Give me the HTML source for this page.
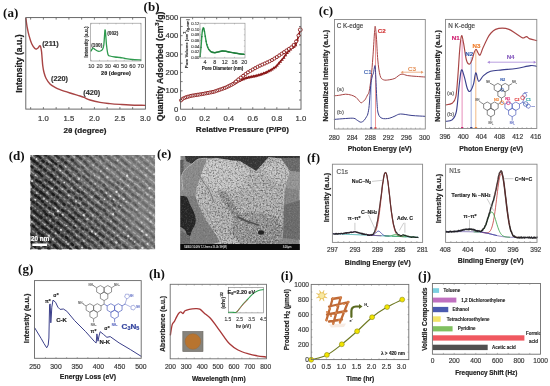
<!DOCTYPE html>
<html><head><meta charset="utf-8"><style>
html,body{margin:0;padding:0;background:#fff;width:550px;height:386px;overflow:hidden}
svg{display:block;filter:blur(0.35px)}
</style></head><body>
<svg width="550" height="386" viewBox="0 0 550 386">
<rect width="550" height="386" fill="#fff"/>
<text x="3.1" y="16.95" font-family='"Liberation Serif", serif' font-size="13" font-weight="bold" text-anchor="start" fill="#111">(a)</text>
<line x1="30.65" y1="109.1" x2="30.65" y2="107.1" stroke="#5a5a5a" stroke-width="0.8"/>
<line x1="30.65" y1="17.6" x2="30.65" y2="19.6" stroke="#5a5a5a" stroke-width="0.8"/>
<line x1="43.4" y1="109.1" x2="43.4" y2="107.1" stroke="#5a5a5a" stroke-width="0.8"/>
<line x1="43.4" y1="17.6" x2="43.4" y2="19.6" stroke="#5a5a5a" stroke-width="0.8"/>
<line x1="56.15" y1="109.1" x2="56.15" y2="107.1" stroke="#5a5a5a" stroke-width="0.8"/>
<line x1="56.15" y1="17.6" x2="56.15" y2="19.6" stroke="#5a5a5a" stroke-width="0.8"/>
<line x1="68.9" y1="109.1" x2="68.9" y2="107.1" stroke="#5a5a5a" stroke-width="0.8"/>
<line x1="68.9" y1="17.6" x2="68.9" y2="19.6" stroke="#5a5a5a" stroke-width="0.8"/>
<line x1="81.65" y1="109.1" x2="81.65" y2="107.1" stroke="#5a5a5a" stroke-width="0.8"/>
<line x1="81.65" y1="17.6" x2="81.65" y2="19.6" stroke="#5a5a5a" stroke-width="0.8"/>
<line x1="94.4" y1="109.1" x2="94.4" y2="107.1" stroke="#5a5a5a" stroke-width="0.8"/>
<line x1="94.4" y1="17.6" x2="94.4" y2="19.6" stroke="#5a5a5a" stroke-width="0.8"/>
<line x1="107.15" y1="109.1" x2="107.15" y2="107.1" stroke="#5a5a5a" stroke-width="0.8"/>
<line x1="107.15" y1="17.6" x2="107.15" y2="19.6" stroke="#5a5a5a" stroke-width="0.8"/>
<line x1="119.9" y1="109.1" x2="119.9" y2="107.1" stroke="#5a5a5a" stroke-width="0.8"/>
<line x1="119.9" y1="17.6" x2="119.9" y2="19.6" stroke="#5a5a5a" stroke-width="0.8"/>
<line x1="132.65" y1="109.1" x2="132.65" y2="107.1" stroke="#5a5a5a" stroke-width="0.8"/>
<line x1="132.65" y1="17.6" x2="132.65" y2="19.6" stroke="#5a5a5a" stroke-width="0.8"/>
<path d="M25.9,18.4 C26.1,19.82 26.57,23.98 27.1,26.9 C27.63,29.82 28.33,33.1 29.1,35.9 C29.87,38.7 30.73,41.6 31.7,43.7 C32.67,45.8 34.05,47.63 34.9,48.5 C35.75,49.37 36.25,49.02 36.8,48.9 C37.35,48.78 37.77,48.28 38.2,47.8 C38.63,47.32 39.05,46.32 39.4,46 C39.75,45.68 40.05,45.6 40.3,45.9 C40.55,46.2 40.68,46.78 40.9,47.8 C41.12,48.82 41.4,50.3 41.6,52 C41.8,53.7 41.9,55.67 42.1,58 C42.3,60.33 42.48,63.58 42.8,66 C43.12,68.42 43.47,70.45 44,72.5 C44.53,74.55 45,76.38 46,78.3 C47,80.22 48.5,82.5 50,84 C51.5,85.5 53.33,86.37 55,87.3 C56.67,88.23 57.5,88.65 60,89.6 C62.5,90.55 66.67,91.93 70,93 C73.33,94.07 77.67,95.27 80,96 C82.33,96.73 82.33,96.73 84,97.4 C85.67,98.07 87.33,99.17 90,100 C92.67,100.83 96.67,101.8 100,102.4 C103.33,103 106.67,103.27 110,103.6 C113.33,103.93 116.67,104.17 120,104.4 C123.33,104.63 125.83,104.83 130,105 C134.17,105.17 142.5,105.33 145,105.4" fill="none" stroke="#a84444" stroke-width="1.4" stroke-linejoin="round" stroke-linecap="round"/>
<rect x="25.8" y="17.6" width="119.6" height="91.5" fill="none" stroke="#5a5a5a" stroke-width="0.9"/>
<text x="43.4" y="118.6" font-family='"Liberation Sans", sans-serif' font-size="7.7" font-weight="normal" text-anchor="middle" fill="#3a3a3a" stroke="#3a3a3a" stroke-width="0.21" dominant-baseline="central">1.0</text>
<text x="68.9" y="118.6" font-family='"Liberation Sans", sans-serif' font-size="7.7" font-weight="normal" text-anchor="middle" fill="#3a3a3a" stroke="#3a3a3a" stroke-width="0.21" dominant-baseline="central">1.5</text>
<text x="94.4" y="118.6" font-family='"Liberation Sans", sans-serif' font-size="7.7" font-weight="normal" text-anchor="middle" fill="#3a3a3a" stroke="#3a3a3a" stroke-width="0.21" dominant-baseline="central">2.0</text>
<text x="119.9" y="118.6" font-family='"Liberation Sans", sans-serif' font-size="7.7" font-weight="normal" text-anchor="middle" fill="#3a3a3a" stroke="#3a3a3a" stroke-width="0.21" dominant-baseline="central">2.5</text>
<text x="145.4" y="118.6" font-family='"Liberation Sans", sans-serif' font-size="7.7" font-weight="normal" text-anchor="middle" fill="#3a3a3a" stroke="#3a3a3a" stroke-width="0.21" dominant-baseline="central">3.0</text>
<text x="85" y="130.4" font-family='"Liberation Sans", sans-serif' font-size="8.1" font-weight="bold" text-anchor="middle" fill="#222" stroke="#222" stroke-width="0.22" dominant-baseline="central">2θ (degree)</text>
<text x="19.3" y="63.6" font-family='"Liberation Sans", sans-serif' font-size="8.6" font-weight="bold" text-anchor="middle" fill="#222" stroke="#222" stroke-width="0.24" dominant-baseline="central" transform="rotate(-90 19.3 63.6)">Intensity (a.u.)</text>
<text x="50.5" y="43" font-family='"Liberation Sans", sans-serif' font-size="7.3" font-weight="bold" text-anchor="middle" fill="#333" stroke="#333" stroke-width="0.2" dominant-baseline="central">(211)</text>
<text x="59.5" y="78.4" font-family='"Liberation Sans", sans-serif' font-size="7.3" font-weight="bold" text-anchor="middle" fill="#333" stroke="#333" stroke-width="0.2" dominant-baseline="central">(220)</text>
<text x="91.8" y="92.4" font-family='"Liberation Sans", sans-serif' font-size="7.3" font-weight="bold" text-anchor="middle" fill="#333" stroke="#333" stroke-width="0.2" dominant-baseline="central">(420)</text>
<line x1="91.3" y1="61" x2="91.3" y2="59.8" stroke="#999" stroke-width="0.5"/>
<line x1="91.3" y1="23.2" x2="91.3" y2="24.4" stroke="#999" stroke-width="0.5"/>
<line x1="99.53" y1="61" x2="99.53" y2="59.8" stroke="#999" stroke-width="0.5"/>
<line x1="99.53" y1="23.2" x2="99.53" y2="24.4" stroke="#999" stroke-width="0.5"/>
<line x1="107.77" y1="61" x2="107.77" y2="59.8" stroke="#999" stroke-width="0.5"/>
<line x1="107.77" y1="23.2" x2="107.77" y2="24.4" stroke="#999" stroke-width="0.5"/>
<line x1="116" y1="61" x2="116" y2="59.8" stroke="#999" stroke-width="0.5"/>
<line x1="116" y1="23.2" x2="116" y2="24.4" stroke="#999" stroke-width="0.5"/>
<line x1="124.23" y1="61" x2="124.23" y2="59.8" stroke="#999" stroke-width="0.5"/>
<line x1="124.23" y1="23.2" x2="124.23" y2="24.4" stroke="#999" stroke-width="0.5"/>
<line x1="132.47" y1="61" x2="132.47" y2="59.8" stroke="#999" stroke-width="0.5"/>
<line x1="132.47" y1="23.2" x2="132.47" y2="24.4" stroke="#999" stroke-width="0.5"/>
<line x1="140.7" y1="61" x2="140.7" y2="59.8" stroke="#999" stroke-width="0.5"/>
<line x1="140.7" y1="23.2" x2="140.7" y2="24.4" stroke="#999" stroke-width="0.5"/>
<path d="M91,51 C91.2,50.67 91.82,49.47 92.2,49 C92.58,48.53 92.83,48.12 93.3,48.2 C93.77,48.28 94.22,49 95,49.5 C95.78,50 97.08,50.95 98,51.2 C98.92,51.45 99.73,51.32 100.5,51 C101.27,50.68 102.05,50.3 102.6,49.3 C103.15,48.3 103.48,47.22 103.8,45 C104.12,42.78 104.3,38.5 104.5,36 C104.7,33.5 104.82,30.5 105,30 C105.18,29.5 105.35,30.5 105.6,33 C105.85,35.5 106.1,41.42 106.5,45 C106.9,48.58 107.42,52.67 108,54.5 C108.58,56.33 108.83,55.58 110,56 C111.17,56.42 113.33,56.75 115,57 C116.67,57.25 118.33,57.25 120,57.5 C121.67,57.75 123,58.17 125,58.5 C127,58.83 129.38,59.25 132,59.5 C134.62,59.75 139.25,59.92 140.7,60" fill="none" stroke="#2e9a4e" stroke-width="1.3" stroke-linejoin="round" stroke-linecap="round"/>
<rect x="90.7" y="23.2" width="50.3" height="37.8" fill="none" stroke="#888" stroke-width="0.6"/>
<text x="91.3" y="65.9" font-family='"Liberation Sans", sans-serif' font-size="5.6" font-weight="normal" text-anchor="middle" fill="#3a3a3a" stroke="#3a3a3a" stroke-width="0.15" dominant-baseline="central">10</text>
<text x="99.53" y="65.9" font-family='"Liberation Sans", sans-serif' font-size="5.6" font-weight="normal" text-anchor="middle" fill="#3a3a3a" stroke="#3a3a3a" stroke-width="0.15" dominant-baseline="central">20</text>
<text x="107.77" y="65.9" font-family='"Liberation Sans", sans-serif' font-size="5.6" font-weight="normal" text-anchor="middle" fill="#3a3a3a" stroke="#3a3a3a" stroke-width="0.15" dominant-baseline="central">30</text>
<text x="116" y="65.9" font-family='"Liberation Sans", sans-serif' font-size="5.6" font-weight="normal" text-anchor="middle" fill="#3a3a3a" stroke="#3a3a3a" stroke-width="0.15" dominant-baseline="central">40</text>
<text x="124.23" y="65.9" font-family='"Liberation Sans", sans-serif' font-size="5.6" font-weight="normal" text-anchor="middle" fill="#3a3a3a" stroke="#3a3a3a" stroke-width="0.15" dominant-baseline="central">50</text>
<text x="132.47" y="65.9" font-family='"Liberation Sans", sans-serif' font-size="5.6" font-weight="normal" text-anchor="middle" fill="#3a3a3a" stroke="#3a3a3a" stroke-width="0.15" dominant-baseline="central">60</text>
<text x="140.7" y="65.9" font-family='"Liberation Sans", sans-serif' font-size="5.6" font-weight="normal" text-anchor="middle" fill="#3a3a3a" stroke="#3a3a3a" stroke-width="0.15" dominant-baseline="central">70</text>
<text x="116" y="72.8" font-family='"Liberation Sans", sans-serif' font-size="5.6" font-weight="bold" text-anchor="middle" fill="#222" stroke="#222" stroke-width="0.15" dominant-baseline="central">2θ (degree)</text>
<text x="86" y="42" font-family='"Liberation Sans", sans-serif' font-size="4.6" font-weight="bold" text-anchor="middle" fill="#333" stroke="#333" stroke-width="0.13" dominant-baseline="central" transform="rotate(-90 86 42)">Intensity (a.u.)</text>
<text x="96.8" y="45.4" font-family='"Liberation Sans", sans-serif' font-size="4.8" font-weight="bold" text-anchor="middle" fill="#333" stroke="#333" stroke-width="0.13" dominant-baseline="central">(100)</text>
<text x="112.8" y="33.3" font-family='"Liberation Sans", sans-serif' font-size="4.8" font-weight="bold" text-anchor="middle" fill="#333" stroke="#333" stroke-width="0.13" dominant-baseline="central">(002)</text>
<text x="143.6" y="11.3" font-family='"Liberation Serif", serif' font-size="13" font-weight="bold" text-anchor="start" fill="#111">(b)</text>
<line x1="192.63" y1="109.2" x2="192.63" y2="107.2" stroke="#5a5a5a" stroke-width="0.8"/>
<line x1="192.63" y1="17.3" x2="192.63" y2="19.3" stroke="#5a5a5a" stroke-width="0.8"/>
<line x1="204.66" y1="109.2" x2="204.66" y2="107.2" stroke="#5a5a5a" stroke-width="0.8"/>
<line x1="204.66" y1="17.3" x2="204.66" y2="19.3" stroke="#5a5a5a" stroke-width="0.8"/>
<line x1="216.69" y1="109.2" x2="216.69" y2="107.2" stroke="#5a5a5a" stroke-width="0.8"/>
<line x1="216.69" y1="17.3" x2="216.69" y2="19.3" stroke="#5a5a5a" stroke-width="0.8"/>
<line x1="228.72" y1="109.2" x2="228.72" y2="107.2" stroke="#5a5a5a" stroke-width="0.8"/>
<line x1="228.72" y1="17.3" x2="228.72" y2="19.3" stroke="#5a5a5a" stroke-width="0.8"/>
<line x1="240.75" y1="109.2" x2="240.75" y2="107.2" stroke="#5a5a5a" stroke-width="0.8"/>
<line x1="240.75" y1="17.3" x2="240.75" y2="19.3" stroke="#5a5a5a" stroke-width="0.8"/>
<line x1="252.78" y1="109.2" x2="252.78" y2="107.2" stroke="#5a5a5a" stroke-width="0.8"/>
<line x1="252.78" y1="17.3" x2="252.78" y2="19.3" stroke="#5a5a5a" stroke-width="0.8"/>
<line x1="264.81" y1="109.2" x2="264.81" y2="107.2" stroke="#5a5a5a" stroke-width="0.8"/>
<line x1="264.81" y1="17.3" x2="264.81" y2="19.3" stroke="#5a5a5a" stroke-width="0.8"/>
<line x1="276.84" y1="109.2" x2="276.84" y2="107.2" stroke="#5a5a5a" stroke-width="0.8"/>
<line x1="276.84" y1="17.3" x2="276.84" y2="19.3" stroke="#5a5a5a" stroke-width="0.8"/>
<line x1="288.87" y1="109.2" x2="288.87" y2="107.2" stroke="#5a5a5a" stroke-width="0.8"/>
<line x1="288.87" y1="17.3" x2="288.87" y2="19.3" stroke="#5a5a5a" stroke-width="0.8"/>
<line x1="180.6" y1="100.01" x2="182.6" y2="100.01" stroke="#5a5a5a" stroke-width="0.8"/>
<line x1="301" y1="100.01" x2="299" y2="100.01" stroke="#5a5a5a" stroke-width="0.8"/>
<line x1="180.6" y1="90.82" x2="182.6" y2="90.82" stroke="#5a5a5a" stroke-width="0.8"/>
<line x1="301" y1="90.82" x2="299" y2="90.82" stroke="#5a5a5a" stroke-width="0.8"/>
<line x1="180.6" y1="81.62" x2="182.6" y2="81.62" stroke="#5a5a5a" stroke-width="0.8"/>
<line x1="301" y1="81.62" x2="299" y2="81.62" stroke="#5a5a5a" stroke-width="0.8"/>
<line x1="180.6" y1="72.43" x2="182.6" y2="72.43" stroke="#5a5a5a" stroke-width="0.8"/>
<line x1="301" y1="72.43" x2="299" y2="72.43" stroke="#5a5a5a" stroke-width="0.8"/>
<line x1="180.6" y1="63.24" x2="182.6" y2="63.24" stroke="#5a5a5a" stroke-width="0.8"/>
<line x1="301" y1="63.24" x2="299" y2="63.24" stroke="#5a5a5a" stroke-width="0.8"/>
<line x1="180.6" y1="54.05" x2="182.6" y2="54.05" stroke="#5a5a5a" stroke-width="0.8"/>
<line x1="301" y1="54.05" x2="299" y2="54.05" stroke="#5a5a5a" stroke-width="0.8"/>
<line x1="180.6" y1="44.86" x2="182.6" y2="44.86" stroke="#5a5a5a" stroke-width="0.8"/>
<line x1="301" y1="44.86" x2="299" y2="44.86" stroke="#5a5a5a" stroke-width="0.8"/>
<line x1="180.6" y1="35.66" x2="182.6" y2="35.66" stroke="#5a5a5a" stroke-width="0.8"/>
<line x1="301" y1="35.66" x2="299" y2="35.66" stroke="#5a5a5a" stroke-width="0.8"/>
<line x1="180.6" y1="26.47" x2="182.6" y2="26.47" stroke="#5a5a5a" stroke-width="0.8"/>
<line x1="301" y1="26.47" x2="299" y2="26.47" stroke="#5a5a5a" stroke-width="0.8"/>
<text x="180.6" y="118.4" font-family='"Liberation Sans", sans-serif' font-size="7.7" font-weight="normal" text-anchor="middle" fill="#3a3a3a" stroke="#3a3a3a" stroke-width="0.21" dominant-baseline="central">0.0</text>
<text x="178.3" y="109.2" font-family='"Liberation Sans", sans-serif' font-size="7.7" font-weight="normal" text-anchor="end" fill="#3a3a3a" stroke="#3a3a3a" stroke-width="0.21" dominant-baseline="central">0</text>
<text x="204.66" y="118.4" font-family='"Liberation Sans", sans-serif' font-size="7.7" font-weight="normal" text-anchor="middle" fill="#3a3a3a" stroke="#3a3a3a" stroke-width="0.21" dominant-baseline="central">0.2</text>
<text x="178.3" y="90.82" font-family='"Liberation Sans", sans-serif' font-size="7.7" font-weight="normal" text-anchor="end" fill="#3a3a3a" stroke="#3a3a3a" stroke-width="0.21" dominant-baseline="central">100</text>
<text x="228.72" y="118.4" font-family='"Liberation Sans", sans-serif' font-size="7.7" font-weight="normal" text-anchor="middle" fill="#3a3a3a" stroke="#3a3a3a" stroke-width="0.21" dominant-baseline="central">0.4</text>
<text x="178.3" y="72.43" font-family='"Liberation Sans", sans-serif' font-size="7.7" font-weight="normal" text-anchor="end" fill="#3a3a3a" stroke="#3a3a3a" stroke-width="0.21" dominant-baseline="central">200</text>
<text x="252.78" y="118.4" font-family='"Liberation Sans", sans-serif' font-size="7.7" font-weight="normal" text-anchor="middle" fill="#3a3a3a" stroke="#3a3a3a" stroke-width="0.21" dominant-baseline="central">0.6</text>
<text x="178.3" y="54.05" font-family='"Liberation Sans", sans-serif' font-size="7.7" font-weight="normal" text-anchor="end" fill="#3a3a3a" stroke="#3a3a3a" stroke-width="0.21" dominant-baseline="central">300</text>
<text x="276.84" y="118.4" font-family='"Liberation Sans", sans-serif' font-size="7.7" font-weight="normal" text-anchor="middle" fill="#3a3a3a" stroke="#3a3a3a" stroke-width="0.21" dominant-baseline="central">0.8</text>
<text x="178.3" y="35.66" font-family='"Liberation Sans", sans-serif' font-size="7.7" font-weight="normal" text-anchor="end" fill="#3a3a3a" stroke="#3a3a3a" stroke-width="0.21" dominant-baseline="central">400</text>
<text x="300.9" y="118.4" font-family='"Liberation Sans", sans-serif' font-size="7.7" font-weight="normal" text-anchor="middle" fill="#3a3a3a" stroke="#3a3a3a" stroke-width="0.21" dominant-baseline="central">1.0</text>
<text x="178.3" y="17.28" font-family='"Liberation Sans", sans-serif' font-size="7.7" font-weight="normal" text-anchor="end" fill="#3a3a3a" stroke="#3a3a3a" stroke-width="0.21" dominant-baseline="central">500</text>
<text x="242.4" y="129" font-family='"Liberation Sans", sans-serif' font-size="8.1" font-weight="bold" text-anchor="middle" fill="#222" stroke="#222" stroke-width="0.22" dominant-baseline="central">Relative Pressure (P/P0)</text>
<text x="160.3" y="66.5" font-family='"Liberation Sans", sans-serif' font-size="8.7" font-weight="bold" text-anchor="middle" fill="#222" stroke="#222" stroke-width="0.24" dominant-baseline="central" transform="rotate(-90 160.3 66.5)">Quantity Adsorbed (cm<tspan dy="-2.8" font-size="6">3</tspan><tspan dy="2.8">/g)</tspan></text>
<path d="M180.84,100.56 C181.2,100.22 182.04,99.12 183.01,98.54 C183.97,97.96 185.21,97.53 186.62,97.07 C188.02,96.61 188.74,96.3 191.43,95.78 C194.11,95.26 198.97,94.62 202.74,93.94 C206.5,93.27 210.25,92.78 214.04,91.74 C217.83,90.69 222.42,88.92 225.47,87.69 C228.52,86.47 230.14,85.58 232.33,84.38 C234.51,83.19 236.12,81.65 238.58,80.52 C241.05,79.39 244.28,78.38 247.13,77.58 C249.97,76.78 253.52,76.23 255.67,75.74 C257.81,75.25 258.37,75.16 260,74.64 C261.62,74.12 263.59,73.41 265.41,72.62 C267.24,71.82 269.12,70.93 270.95,69.86 C272.77,68.79 274.92,67.44 276.36,66.18 C277.8,64.93 278.34,63.79 279.61,62.32 C280.87,60.85 282.67,58.98 283.94,57.36 C285.2,55.73 285.9,54.11 287.19,52.58 C288.47,51.05 290.19,49.45 291.64,48.17 C293.08,46.88 294.4,47.92 295.85,44.86 C297.29,41.79 299.56,32.29 300.3,29.78" fill="none" stroke="#8b1a1a" stroke-width="1.3" stroke-linejoin="round" stroke-linecap="round"/>
<path d="M300.3,29.78 C299.76,31.5 298.33,37.29 297.05,40.08 C295.77,42.86 294.24,44.86 292.6,46.51 C290.96,48.17 288.99,48.81 287.19,50 C285.38,51.2 283.58,52.45 281.77,53.68 C279.97,54.91 278.16,56.19 276.36,57.36 C274.55,58.52 272.77,59.69 270.95,60.67 C269.12,61.65 267.24,62.41 265.41,63.24 C263.59,64.07 261.62,64.86 260,65.63 C258.37,66.4 257.81,66.64 255.67,67.84 C253.52,69.03 249.97,70.9 247.13,72.8 C244.28,74.7 240.65,77.61 238.58,79.23 C236.52,80.86 235.38,81.99 234.73,82.54" fill="none" stroke="#8b1a1a" stroke-width="1.3" stroke-linejoin="round" stroke-linecap="round"/>
<circle cx="181.08" cy="100.33" r="1.55" fill="#fff" stroke="#8b1a1a" stroke-width="0.95"/>
<circle cx="182.77" cy="98.76" r="1.55" fill="#fff" stroke="#8b1a1a" stroke-width="0.95"/>
<circle cx="184.45" cy="97.95" r="1.55" fill="#fff" stroke="#8b1a1a" stroke-width="0.95"/>
<circle cx="186.13" cy="97.26" r="1.55" fill="#fff" stroke="#8b1a1a" stroke-width="0.95"/>
<circle cx="187.82" cy="96.74" r="1.55" fill="#fff" stroke="#8b1a1a" stroke-width="0.95"/>
<circle cx="189.5" cy="96.29" r="1.55" fill="#fff" stroke="#8b1a1a" stroke-width="0.95"/>
<circle cx="191.19" cy="95.84" r="1.55" fill="#fff" stroke="#8b1a1a" stroke-width="0.95"/>
<circle cx="192.87" cy="95.54" r="1.55" fill="#fff" stroke="#8b1a1a" stroke-width="0.95"/>
<circle cx="194.55" cy="95.27" r="1.55" fill="#fff" stroke="#8b1a1a" stroke-width="0.95"/>
<circle cx="196.24" cy="95" r="1.55" fill="#fff" stroke="#8b1a1a" stroke-width="0.95"/>
<circle cx="197.92" cy="94.72" r="1.55" fill="#fff" stroke="#8b1a1a" stroke-width="0.95"/>
<circle cx="199.61" cy="94.45" r="1.55" fill="#fff" stroke="#8b1a1a" stroke-width="0.95"/>
<circle cx="201.29" cy="94.18" r="1.55" fill="#fff" stroke="#8b1a1a" stroke-width="0.95"/>
<circle cx="202.98" cy="93.89" r="1.55" fill="#fff" stroke="#8b1a1a" stroke-width="0.95"/>
<circle cx="204.66" cy="93.57" r="1.55" fill="#fff" stroke="#8b1a1a" stroke-width="0.95"/>
<circle cx="206.34" cy="93.24" r="1.55" fill="#fff" stroke="#8b1a1a" stroke-width="0.95"/>
<circle cx="208.03" cy="92.91" r="1.55" fill="#fff" stroke="#8b1a1a" stroke-width="0.95"/>
<circle cx="209.71" cy="92.58" r="1.55" fill="#fff" stroke="#8b1a1a" stroke-width="0.95"/>
<circle cx="211.4" cy="92.25" r="1.55" fill="#fff" stroke="#8b1a1a" stroke-width="0.95"/>
<circle cx="213.08" cy="91.92" r="1.55" fill="#fff" stroke="#8b1a1a" stroke-width="0.95"/>
<circle cx="214.77" cy="91.48" r="1.55" fill="#fff" stroke="#8b1a1a" stroke-width="0.95"/>
<circle cx="216.45" cy="90.88" r="1.55" fill="#fff" stroke="#8b1a1a" stroke-width="0.95"/>
<circle cx="218.13" cy="90.29" r="1.55" fill="#fff" stroke="#8b1a1a" stroke-width="0.95"/>
<circle cx="219.82" cy="89.69" r="1.55" fill="#fff" stroke="#8b1a1a" stroke-width="0.95"/>
<circle cx="221.5" cy="89.1" r="1.55" fill="#fff" stroke="#8b1a1a" stroke-width="0.95"/>
<circle cx="223.19" cy="88.5" r="1.55" fill="#fff" stroke="#8b1a1a" stroke-width="0.95"/>
<circle cx="224.87" cy="87.9" r="1.55" fill="#fff" stroke="#8b1a1a" stroke-width="0.95"/>
<circle cx="226.55" cy="87.17" r="1.55" fill="#fff" stroke="#8b1a1a" stroke-width="0.95"/>
<circle cx="228.24" cy="86.36" r="1.55" fill="#fff" stroke="#8b1a1a" stroke-width="0.95"/>
<circle cx="229.92" cy="85.54" r="1.55" fill="#fff" stroke="#8b1a1a" stroke-width="0.95"/>
<circle cx="231.61" cy="84.73" r="1.55" fill="#fff" stroke="#8b1a1a" stroke-width="0.95"/>
<circle cx="233.29" cy="83.79" r="1.55" fill="#fff" stroke="#8b1a1a" stroke-width="0.95"/>
<circle cx="234.98" cy="82.75" r="1.55" fill="#fff" stroke="#8b1a1a" stroke-width="0.95"/>
<circle cx="236.66" cy="81.71" r="1.55" fill="#fff" stroke="#8b1a1a" stroke-width="0.95"/>
<circle cx="238.34" cy="80.67" r="1.55" fill="#fff" stroke="#8b1a1a" stroke-width="0.95"/>
<circle cx="240.03" cy="80.02" r="1.55" fill="#fff" stroke="#8b1a1a" stroke-width="0.95"/>
<path d="M240.01,80.74 L243.41,80.74 L241.71,77.74 Z" fill="#8b1a1a"/>
<path d="M241.7,80.16 L245.1,80.16 L243.4,77.16 Z" fill="#8b1a1a"/>
<path d="M243.38,79.58 L246.78,79.58 L245.08,76.58 Z" fill="#8b1a1a"/>
<path d="M245.06,79 L248.46,79 L246.76,76 Z" fill="#8b1a1a"/>
<path d="M246.75,78.59 L250.15,78.59 L248.45,75.59 Z" fill="#8b1a1a"/>
<path d="M248.43,78.23 L251.83,78.23 L250.13,75.23 Z" fill="#8b1a1a"/>
<path d="M250.12,77.87 L253.52,77.87 L251.82,74.87 Z" fill="#8b1a1a"/>
<path d="M251.8,77.51 L255.2,77.51 L253.5,74.51 Z" fill="#8b1a1a"/>
<path d="M253.49,77.14 L256.89,77.14 L255.19,74.14 Z" fill="#8b1a1a"/>
<path d="M255.17,76.73 L258.57,76.73 L256.87,73.73 Z" fill="#8b1a1a"/>
<path d="M256.85,76.31 L260.25,76.31 L258.55,73.31 Z" fill="#8b1a1a"/>
<path d="M258.54,75.85 L261.94,75.85 L260.24,72.85 Z" fill="#8b1a1a"/>
<path d="M260.22,75.22 L263.62,75.22 L261.92,72.22 Z" fill="#8b1a1a"/>
<path d="M261.91,74.59 L265.31,74.59 L263.61,71.59 Z" fill="#8b1a1a"/>
<path d="M263.59,73.96 L266.99,73.96 L265.29,70.96 Z" fill="#8b1a1a"/>
<path d="M265.28,73.14 L268.68,73.14 L266.98,70.14 Z" fill="#8b1a1a"/>
<path d="M266.96,72.3 L270.36,72.3 L268.66,69.3 Z" fill="#8b1a1a"/>
<path d="M268.64,71.46 L272.04,71.46 L270.34,68.46 Z" fill="#8b1a1a"/>
<path d="M270.33,70.42 L273.73,70.42 L272.03,67.42 Z" fill="#8b1a1a"/>
<path d="M272.01,69.28 L275.41,69.28 L273.71,66.28 Z" fill="#8b1a1a"/>
<path d="M273.7,68.14 L277.1,68.14 L275.4,65.14 Z" fill="#8b1a1a"/>
<path d="M275.38,66.62 L278.78,66.62 L277.08,63.62 Z" fill="#8b1a1a"/>
<path d="M277.06,64.62 L280.46,64.62 L278.76,61.62 Z" fill="#8b1a1a"/>
<path d="M278.75,62.66 L282.15,62.66 L280.45,59.66 Z" fill="#8b1a1a"/>
<path d="M280.43,60.73 L283.83,60.73 L282.13,57.73 Z" fill="#8b1a1a"/>
<path d="M282.12,58.8 L285.52,58.8 L283.82,55.8 Z" fill="#8b1a1a"/>
<path d="M283.8,56.36 L287.2,56.36 L285.5,53.36 Z" fill="#8b1a1a"/>
<path d="M285.49,53.88 L288.89,53.88 L287.19,50.88 Z" fill="#8b1a1a"/>
<path d="M287.17,52.21 L290.57,52.21 L288.87,49.21 Z" fill="#8b1a1a"/>
<path d="M288.85,50.54 L292.25,50.54 L290.55,47.54 Z" fill="#8b1a1a"/>
<path d="M290.54,48.99 L293.94,48.99 L292.24,45.99 Z" fill="#8b1a1a"/>
<path d="M292.22,47.67 L295.62,47.67 L293.92,44.67 Z" fill="#8b1a1a"/>
<path d="M293.91,46.35 L297.31,46.35 L295.61,43.35 Z" fill="#8b1a1a"/>
<path d="M295.59,41.27 L298.99,41.27 L297.29,38.27 Z" fill="#8b1a1a"/>
<path d="M297.28,35.56 L300.68,35.56 L298.98,32.56 Z" fill="#8b1a1a"/>
<circle cx="235.94" cy="81.51" r="1.55" fill="#fff" stroke="#8b1a1a" stroke-width="0.95"/>
<circle cx="238.34" cy="79.44" r="1.55" fill="#fff" stroke="#8b1a1a" stroke-width="0.95"/>
<circle cx="240.75" cy="77.6" r="1.55" fill="#fff" stroke="#8b1a1a" stroke-width="0.95"/>
<circle cx="243.16" cy="75.79" r="1.55" fill="#fff" stroke="#8b1a1a" stroke-width="0.95"/>
<circle cx="245.56" cy="73.98" r="1.55" fill="#fff" stroke="#8b1a1a" stroke-width="0.95"/>
<circle cx="247.97" cy="72.31" r="1.55" fill="#fff" stroke="#8b1a1a" stroke-width="0.95"/>
<circle cx="250.37" cy="70.91" r="1.55" fill="#fff" stroke="#8b1a1a" stroke-width="0.95"/>
<circle cx="252.78" cy="69.51" r="1.55" fill="#fff" stroke="#8b1a1a" stroke-width="0.95"/>
<circle cx="255.19" cy="68.12" r="1.55" fill="#fff" stroke="#8b1a1a" stroke-width="0.95"/>
<circle cx="257.59" cy="66.86" r="1.55" fill="#fff" stroke="#8b1a1a" stroke-width="0.95"/>
<circle cx="260" cy="65.63" r="1.55" fill="#fff" stroke="#8b1a1a" stroke-width="0.95"/>
<circle cx="262.4" cy="64.57" r="1.55" fill="#fff" stroke="#8b1a1a" stroke-width="0.95"/>
<circle cx="264.81" cy="63.51" r="1.55" fill="#fff" stroke="#8b1a1a" stroke-width="0.95"/>
<circle cx="267.22" cy="62.4" r="1.55" fill="#fff" stroke="#8b1a1a" stroke-width="0.95"/>
<circle cx="269.62" cy="61.28" r="1.55" fill="#fff" stroke="#8b1a1a" stroke-width="0.95"/>
<circle cx="272.03" cy="60" r="1.55" fill="#fff" stroke="#8b1a1a" stroke-width="0.95"/>
<circle cx="274.43" cy="58.53" r="1.55" fill="#fff" stroke="#8b1a1a" stroke-width="0.95"/>
<circle cx="276.84" cy="57.03" r="1.55" fill="#fff" stroke="#8b1a1a" stroke-width="0.95"/>
<circle cx="279.25" cy="55.4" r="1.55" fill="#fff" stroke="#8b1a1a" stroke-width="0.95"/>
<circle cx="281.65" cy="53.76" r="1.55" fill="#fff" stroke="#8b1a1a" stroke-width="0.95"/>
<circle cx="284.06" cy="52.13" r="1.55" fill="#fff" stroke="#8b1a1a" stroke-width="0.95"/>
<circle cx="286.46" cy="50.49" r="1.55" fill="#fff" stroke="#8b1a1a" stroke-width="0.95"/>
<circle cx="288.87" cy="48.92" r="1.55" fill="#fff" stroke="#8b1a1a" stroke-width="0.95"/>
<circle cx="291.28" cy="47.36" r="1.55" fill="#fff" stroke="#8b1a1a" stroke-width="0.95"/>
<circle cx="293.68" cy="44.95" r="1.55" fill="#fff" stroke="#8b1a1a" stroke-width="0.95"/>
<circle cx="296.09" cy="41.47" r="1.55" fill="#fff" stroke="#8b1a1a" stroke-width="0.95"/>
<circle cx="298.49" cy="35.5" r="1.55" fill="#fff" stroke="#8b1a1a" stroke-width="0.95"/>
<circle cx="300.3" cy="29.78" r="1.9" fill="#fff" stroke="#8b1a1a" stroke-width="0.9"/>
<rect x="180.6" y="17.3" width="120.4" height="91.9" fill="none" stroke="#5a5a5a" stroke-width="0.9"/>
<line x1="205.02" y1="58" x2="205.02" y2="56.8" stroke="#999" stroke-width="0.5"/>
<line x1="205.02" y1="23.2" x2="205.02" y2="24.4" stroke="#999" stroke-width="0.5"/>
<line x1="214.84" y1="58" x2="214.84" y2="56.8" stroke="#999" stroke-width="0.5"/>
<line x1="214.84" y1="23.2" x2="214.84" y2="24.4" stroke="#999" stroke-width="0.5"/>
<line x1="224.66" y1="58" x2="224.66" y2="56.8" stroke="#999" stroke-width="0.5"/>
<line x1="224.66" y1="23.2" x2="224.66" y2="24.4" stroke="#999" stroke-width="0.5"/>
<line x1="234.48" y1="58" x2="234.48" y2="56.8" stroke="#999" stroke-width="0.5"/>
<line x1="234.48" y1="23.2" x2="234.48" y2="24.4" stroke="#999" stroke-width="0.5"/>
<line x1="200" y1="51.83" x2="201.2" y2="51.83" stroke="#999" stroke-width="0.5"/>
<line x1="245" y1="51.83" x2="243.8" y2="51.83" stroke="#999" stroke-width="0.5"/>
<line x1="200" y1="46.17" x2="201.2" y2="46.17" stroke="#999" stroke-width="0.5"/>
<line x1="245" y1="46.17" x2="243.8" y2="46.17" stroke="#999" stroke-width="0.5"/>
<line x1="200" y1="40.5" x2="201.2" y2="40.5" stroke="#999" stroke-width="0.5"/>
<line x1="245" y1="40.5" x2="243.8" y2="40.5" stroke="#999" stroke-width="0.5"/>
<line x1="200" y1="34.83" x2="201.2" y2="34.83" stroke="#999" stroke-width="0.5"/>
<line x1="245" y1="34.83" x2="243.8" y2="34.83" stroke="#999" stroke-width="0.5"/>
<line x1="200" y1="29.17" x2="201.2" y2="29.17" stroke="#999" stroke-width="0.5"/>
<line x1="245" y1="29.17" x2="243.8" y2="29.17" stroke="#999" stroke-width="0.5"/>
<path d="M200.11,56.37 C200.27,54.67 200.76,49.99 201.09,46.17 C201.42,42.34 201.75,36.44 202.07,33.42 C202.4,30.39 202.73,28.74 203.06,28.03 C203.38,27.32 203.71,28.03 204.04,29.17 C204.37,30.3 204.61,32.47 205.02,34.83 C205.43,37.19 205.92,40.97 206.49,43.33 C207.07,45.69 207.68,47.58 208.46,49 C209.23,50.42 210.09,51.22 211.16,51.83 C212.22,52.45 213.61,52.68 214.84,52.68 C216.07,52.68 217.29,52.12 218.52,51.83 C219.75,51.55 220.98,51.08 222.2,50.98 C223.43,50.89 224.66,51.08 225.89,51.27 C227.11,51.46 228.14,51.83 229.57,52.12 C231,52.4 232.84,52.68 234.48,52.97 C236.12,53.25 237.75,53.58 239.39,53.82 C241.03,54.05 243.48,54.29 244.3,54.38" fill="none" stroke="#2e9a4e" stroke-width="1.4" stroke-linejoin="round" stroke-linecap="round"/>
<rect x="199.51" y="55.77" width="1.2" height="1.2" fill="#1f7a3a"/>
<rect x="200.37" y="46.84" width="1.2" height="1.2" fill="#1f7a3a"/>
<rect x="201.23" y="36" width="1.2" height="1.2" fill="#1f7a3a"/>
<rect x="202.09" y="29.45" width="1.2" height="1.2" fill="#1f7a3a"/>
<rect x="202.95" y="28" width="1.2" height="1.2" fill="#1f7a3a"/>
<rect x="203.81" y="30.69" width="1.2" height="1.2" fill="#1f7a3a"/>
<rect x="204.67" y="35.65" width="1.2" height="1.2" fill="#1f7a3a"/>
<rect x="205.52" y="40.61" width="1.2" height="1.2" fill="#1f7a3a"/>
<rect x="206.38" y="44.15" width="1.2" height="1.2" fill="#1f7a3a"/>
<rect x="207.24" y="46.63" width="1.2" height="1.2" fill="#1f7a3a"/>
<rect x="208.1" y="48.66" width="1.2" height="1.2" fill="#1f7a3a"/>
<rect x="208.96" y="49.56" width="1.2" height="1.2" fill="#1f7a3a"/>
<rect x="209.82" y="50.46" width="1.2" height="1.2" fill="#1f7a3a"/>
<rect x="210.68" y="51.26" width="1.2" height="1.2" fill="#1f7a3a"/>
<rect x="211.54" y="51.46" width="1.2" height="1.2" fill="#1f7a3a"/>
<rect x="212.4" y="51.66" width="1.2" height="1.2" fill="#1f7a3a"/>
<rect x="213.26" y="51.86" width="1.2" height="1.2" fill="#1f7a3a"/>
<rect x="214.12" y="52.05" width="1.2" height="1.2" fill="#1f7a3a"/>
<rect x="214.98" y="51.91" width="1.2" height="1.2" fill="#1f7a3a"/>
<rect x="215.84" y="51.71" width="1.2" height="1.2" fill="#1f7a3a"/>
<rect x="216.69" y="51.52" width="1.2" height="1.2" fill="#1f7a3a"/>
<rect x="217.55" y="51.32" width="1.2" height="1.2" fill="#1f7a3a"/>
<rect x="218.41" y="51.12" width="1.2" height="1.2" fill="#1f7a3a"/>
<rect x="219.27" y="50.92" width="1.2" height="1.2" fill="#1f7a3a"/>
<rect x="220.13" y="50.72" width="1.2" height="1.2" fill="#1f7a3a"/>
<rect x="220.99" y="50.52" width="1.2" height="1.2" fill="#1f7a3a"/>
<rect x="221.85" y="50.4" width="1.2" height="1.2" fill="#1f7a3a"/>
<rect x="222.71" y="50.47" width="1.2" height="1.2" fill="#1f7a3a"/>
<rect x="223.57" y="50.53" width="1.2" height="1.2" fill="#1f7a3a"/>
<rect x="224.43" y="50.6" width="1.2" height="1.2" fill="#1f7a3a"/>
<rect x="225.29" y="50.67" width="1.2" height="1.2" fill="#1f7a3a"/>
<rect x="226.15" y="50.87" width="1.2" height="1.2" fill="#1f7a3a"/>
<rect x="227.01" y="51.06" width="1.2" height="1.2" fill="#1f7a3a"/>
<rect x="227.87" y="51.26" width="1.2" height="1.2" fill="#1f7a3a"/>
<rect x="228.72" y="51.46" width="1.2" height="1.2" fill="#1f7a3a"/>
<rect x="229.58" y="51.62" width="1.2" height="1.2" fill="#1f7a3a"/>
<rect x="230.44" y="51.77" width="1.2" height="1.2" fill="#1f7a3a"/>
<rect x="231.3" y="51.92" width="1.2" height="1.2" fill="#1f7a3a"/>
<rect x="232.16" y="52.07" width="1.2" height="1.2" fill="#1f7a3a"/>
<rect x="233.02" y="52.22" width="1.2" height="1.2" fill="#1f7a3a"/>
<rect x="233.88" y="52.37" width="1.2" height="1.2" fill="#1f7a3a"/>
<rect x="234.74" y="52.52" width="1.2" height="1.2" fill="#1f7a3a"/>
<rect x="235.6" y="52.66" width="1.2" height="1.2" fill="#1f7a3a"/>
<rect x="236.46" y="52.81" width="1.2" height="1.2" fill="#1f7a3a"/>
<rect x="237.32" y="52.96" width="1.2" height="1.2" fill="#1f7a3a"/>
<rect x="238.18" y="53.11" width="1.2" height="1.2" fill="#1f7a3a"/>
<rect x="239.04" y="53.24" width="1.2" height="1.2" fill="#1f7a3a"/>
<rect x="239.89" y="53.34" width="1.2" height="1.2" fill="#1f7a3a"/>
<rect x="240.75" y="53.44" width="1.2" height="1.2" fill="#1f7a3a"/>
<rect x="241.61" y="53.54" width="1.2" height="1.2" fill="#1f7a3a"/>
<rect x="242.47" y="53.64" width="1.2" height="1.2" fill="#1f7a3a"/>
<rect x="243.33" y="53.74" width="1.2" height="1.2" fill="#1f7a3a"/>
<rect x="200" y="23.2" width="45" height="34.8" fill="none" stroke="#888" stroke-width="0.6"/>
<text x="205.02" y="61.6" font-family='"Liberation Sans", sans-serif' font-size="5.4" font-weight="normal" text-anchor="middle" fill="#3a3a3a" stroke="#3a3a3a" stroke-width="0.15" dominant-baseline="central">4</text>
<text x="214.84" y="61.6" font-family='"Liberation Sans", sans-serif' font-size="5.4" font-weight="normal" text-anchor="middle" fill="#3a3a3a" stroke="#3a3a3a" stroke-width="0.15" dominant-baseline="central">8</text>
<text x="224.66" y="61.6" font-family='"Liberation Sans", sans-serif' font-size="5.4" font-weight="normal" text-anchor="middle" fill="#3a3a3a" stroke="#3a3a3a" stroke-width="0.15" dominant-baseline="central">12</text>
<text x="234.48" y="61.6" font-family='"Liberation Sans", sans-serif' font-size="5.4" font-weight="normal" text-anchor="middle" fill="#3a3a3a" stroke="#3a3a3a" stroke-width="0.15" dominant-baseline="central">16</text>
<text x="244.3" y="61.6" font-family='"Liberation Sans", sans-serif' font-size="5.4" font-weight="normal" text-anchor="middle" fill="#3a3a3a" stroke="#3a3a3a" stroke-width="0.15" dominant-baseline="central">20</text>
<text x="195.3" y="57.5" font-family='"Liberation Sans", sans-serif' font-size="4.2" font-weight="normal" text-anchor="middle" fill="#3a3a3a" stroke="#3a3a3a" stroke-width="0.12" dominant-baseline="central">0.00</text>
<text x="195.3" y="51.83" font-family='"Liberation Sans", sans-serif' font-size="4.2" font-weight="normal" text-anchor="middle" fill="#3a3a3a" stroke="#3a3a3a" stroke-width="0.12" dominant-baseline="central">0.02</text>
<text x="195.3" y="46.17" font-family='"Liberation Sans", sans-serif' font-size="4.2" font-weight="normal" text-anchor="middle" fill="#3a3a3a" stroke="#3a3a3a" stroke-width="0.12" dominant-baseline="central">0.04</text>
<text x="195.3" y="40.5" font-family='"Liberation Sans", sans-serif' font-size="4.2" font-weight="normal" text-anchor="middle" fill="#3a3a3a" stroke="#3a3a3a" stroke-width="0.12" dominant-baseline="central">0.06</text>
<text x="195.3" y="34.83" font-family='"Liberation Sans", sans-serif' font-size="4.2" font-weight="normal" text-anchor="middle" fill="#3a3a3a" stroke="#3a3a3a" stroke-width="0.12" dominant-baseline="central">0.08</text>
<text x="195.3" y="29.17" font-family='"Liberation Sans", sans-serif' font-size="4.2" font-weight="normal" text-anchor="middle" fill="#3a3a3a" stroke="#3a3a3a" stroke-width="0.12" dominant-baseline="central">0.10</text>
<text x="195.3" y="23.5" font-family='"Liberation Sans", sans-serif' font-size="4.2" font-weight="normal" text-anchor="middle" fill="#3a3a3a" stroke="#3a3a3a" stroke-width="0.12" dominant-baseline="central">0.12</text>
<text x="222.4" y="68.4" font-family='"Liberation Sans", sans-serif' font-size="4.5" font-weight="bold" text-anchor="middle" fill="#222" stroke="#222" stroke-width="0.12" dominant-baseline="central">Pore Diameter (nm)</text>
<text x="186.6" y="43.6" font-family='"Liberation Sans", sans-serif' font-size="4.3" font-weight="bold" text-anchor="middle" fill="#333" stroke="#333" stroke-width="0.12" dominant-baseline="central" transform="rotate(-90 186.6 43.6)">Pore Volume (cm<tspan dy="-1.6" font-size="3.2">3</tspan><tspan dy="1.6">/g.nm)</tspan></text>
<text x="318.7" y="14.7" font-family='"Liberation Serif", serif' font-size="13" font-weight="bold" text-anchor="start" fill="#111">(c)</text>
<line x1="338.71" y1="129" x2="338.71" y2="127.7" stroke="#888" stroke-width="0.6"/>
<line x1="343.23" y1="129" x2="343.23" y2="127.7" stroke="#888" stroke-width="0.6"/>
<line x1="347.75" y1="129" x2="347.75" y2="127.7" stroke="#888" stroke-width="0.6"/>
<line x1="352.26" y1="129" x2="352.26" y2="127.7" stroke="#888" stroke-width="0.6"/>
<line x1="356.77" y1="129" x2="356.77" y2="127.7" stroke="#888" stroke-width="0.6"/>
<line x1="361.29" y1="129" x2="361.29" y2="127.7" stroke="#888" stroke-width="0.6"/>
<line x1="365.81" y1="129" x2="365.81" y2="127.7" stroke="#888" stroke-width="0.6"/>
<line x1="370.32" y1="129" x2="370.32" y2="127.7" stroke="#888" stroke-width="0.6"/>
<line x1="374.83" y1="129" x2="374.83" y2="127.7" stroke="#888" stroke-width="0.6"/>
<line x1="379.35" y1="129" x2="379.35" y2="127.7" stroke="#888" stroke-width="0.6"/>
<line x1="383.87" y1="129" x2="383.87" y2="127.7" stroke="#888" stroke-width="0.6"/>
<line x1="388.38" y1="129" x2="388.38" y2="127.7" stroke="#888" stroke-width="0.6"/>
<line x1="392.89" y1="129" x2="392.89" y2="127.7" stroke="#888" stroke-width="0.6"/>
<line x1="397.41" y1="129" x2="397.41" y2="127.7" stroke="#888" stroke-width="0.6"/>
<line x1="401.92" y1="129" x2="401.92" y2="127.7" stroke="#888" stroke-width="0.6"/>
<line x1="406.44" y1="129" x2="406.44" y2="127.7" stroke="#888" stroke-width="0.6"/>
<line x1="410.95" y1="129" x2="410.95" y2="127.7" stroke="#888" stroke-width="0.6"/>
<line x1="415.47" y1="129" x2="415.47" y2="127.7" stroke="#888" stroke-width="0.6"/>
<line x1="419.99" y1="129" x2="419.99" y2="127.7" stroke="#888" stroke-width="0.6"/>
<text x="334.2" y="137" font-family='"Liberation Sans", sans-serif' font-size="6.6" font-weight="normal" text-anchor="middle" fill="#3a3a3a" stroke="#3a3a3a" stroke-width="0.18" dominant-baseline="central">280</text>
<text x="352.26" y="137" font-family='"Liberation Sans", sans-serif' font-size="6.6" font-weight="normal" text-anchor="middle" fill="#3a3a3a" stroke="#3a3a3a" stroke-width="0.18" dominant-baseline="central">284</text>
<text x="370.32" y="137" font-family='"Liberation Sans", sans-serif' font-size="6.6" font-weight="normal" text-anchor="middle" fill="#3a3a3a" stroke="#3a3a3a" stroke-width="0.18" dominant-baseline="central">288</text>
<text x="388.38" y="137" font-family='"Liberation Sans", sans-serif' font-size="6.6" font-weight="normal" text-anchor="middle" fill="#3a3a3a" stroke="#3a3a3a" stroke-width="0.18" dominant-baseline="central">292</text>
<text x="406.44" y="137" font-family='"Liberation Sans", sans-serif' font-size="6.6" font-weight="normal" text-anchor="middle" fill="#3a3a3a" stroke="#3a3a3a" stroke-width="0.18" dominant-baseline="central">296</text>
<text x="424.5" y="137" font-family='"Liberation Sans", sans-serif' font-size="6.6" font-weight="normal" text-anchor="middle" fill="#3a3a3a" stroke="#3a3a3a" stroke-width="0.18" dominant-baseline="central">300</text>
<text x="379.7" y="148.3" font-family='"Liberation Sans", sans-serif' font-size="6.9" font-weight="bold" text-anchor="middle" fill="#222" stroke="#222" stroke-width="0.19" dominant-baseline="central">Photon Energy (eV)</text>
<text x="325.6" y="75.8" font-family='"Liberation Sans", sans-serif' font-size="7.4" font-weight="bold" text-anchor="middle" fill="#222" stroke="#222" stroke-width="0.2" dominant-baseline="central" transform="rotate(-90 325.6 75.8)">Normalized Intensity (a.u.)</text>
<text x="336.7" y="25" font-family='"Liberation Sans", sans-serif' font-size="6.3" font-weight="normal" text-anchor="start" fill="#444" stroke="#444" stroke-width="0.17" dominant-baseline="central">C K-edge</text>
<line x1="371.2" y1="128.7" x2="371.2" y2="75" stroke="#8a9ad8" stroke-width="0.8"/>
<line x1="375.5" y1="128.7" x2="375.5" y2="33" stroke="#e88080" stroke-width="0.8"/>
<path d="M334.3,95.8 C335.22,95.7 337.9,95.47 339.8,95.2 C341.7,94.93 343.75,94.2 345.7,94.2 C347.65,94.2 349.75,94.65 351.5,95.2 C353.25,95.75 354.67,96.27 356.2,97.5 C357.73,98.73 359.57,101.93 360.7,102.6 C361.83,103.27 362.28,101.97 363,101.5 C363.72,101.03 364.25,100.88 365,99.8 C365.75,98.72 366.8,96.43 367.5,95 C368.2,93.57 368.58,94.2 369.2,91.2 C369.82,88.2 370.58,82.7 371.2,77 C371.82,71.3 372.37,64.17 372.9,57 C373.43,49.83 374.02,39.12 374.4,34 C374.78,28.88 374.87,25.8 375.2,26.3 C375.53,26.8 375.97,31.38 376.4,37 C376.83,42.62 377.18,53.57 377.8,60 C378.42,66.43 379.15,72.3 380.1,75.6 C381.05,78.9 381.98,79.1 383.5,79.8 C385.02,80.5 387.3,80.03 389.2,79.8 C391.1,79.57 393.43,79.03 394.9,78.4 C396.37,77.77 396.82,76.72 398,76 C399.18,75.28 400.38,74.17 402,74.1 C403.62,74.03 405.32,75.22 407.7,75.6 C410.08,75.98 413.45,76.17 416.3,76.4 C419.15,76.63 423.38,76.9 424.8,77" fill="none" stroke="#a84444" stroke-width="1.0" stroke-linejoin="round" stroke-linecap="round"/>
<path d="M334.3,119.4 C336.2,119.25 342.45,118.68 345.7,118.5 C348.95,118.32 351.87,118 353.8,118.3 C355.73,118.6 356.13,119.65 357.3,120.3 C358.47,120.95 359.68,122.17 360.8,122.2 C361.92,122.23 363.07,121.38 364,120.5 C364.93,119.62 365.77,117.98 366.4,116.9 C367.03,115.82 367.33,115.9 367.8,114 C368.27,112.1 368.72,110.25 369.2,105.5 C369.68,100.75 370.22,90.25 370.7,85.5 C371.18,80.75 371.63,79.13 372.1,77 C372.57,74.87 373.02,74.6 373.5,72.7 C373.98,70.8 374.62,64.88 375,65.6 C375.38,66.32 375.47,70.82 375.8,77 C376.13,83.18 376.57,96.53 377,102.7 C377.43,108.87 377.55,111.4 378.4,114 C379.25,116.6 380.3,117.58 382.1,118.3 C383.9,119.02 387.05,118.68 389.2,118.3 C391.35,117.92 393.1,116.72 395,116 C396.9,115.28 397.77,114.08 400.6,114 C403.43,113.92 407.97,115.12 412,115.5 C416.03,115.88 422.67,116.17 424.8,116.3" fill="none" stroke="#3b3f8c" stroke-width="1.0" stroke-linejoin="round" stroke-linecap="round"/>
<rect x="370.2" y="127.2" width="2" height="1.8" fill="#3b3f8c"/>
<rect x="374.5" y="127.2" width="2" height="1.8" fill="#e04040"/>
<text x="367.8" y="71.3" font-family='"Liberation Sans", sans-serif' font-size="6.2" font-weight="normal" text-anchor="middle" fill="#3a5fb0" stroke="#3a5fb0" stroke-width="0.17" dominant-baseline="central">C1</text>
<text x="381.8" y="30" font-family='"Liberation Sans", sans-serif' font-size="6.2" font-weight="bold" text-anchor="middle" fill="#d03030" stroke="#d03030" stroke-width="0.17" dominant-baseline="central">C2</text>
<text x="412" y="68.4" font-family='"Liberation Sans", sans-serif' font-size="6.2" font-weight="normal" text-anchor="middle" fill="#e08040" stroke="#e08040" stroke-width="0.17" dominant-baseline="central">C3</text>
<line x1="402" y1="72.2" x2="422.5" y2="72.2" stroke="#e8a070" stroke-width="0.8"/>
<path d="M400.6,72.2 l2.6,-1.5 v3 z M423.6,72.2 l-2.6,-1.5 v3 z" fill="#e8a070"/>
<text x="340.3" y="88.8" font-family='"Liberation Sans", sans-serif' font-size="6" font-weight="normal" text-anchor="middle" fill="#666" stroke="#666" stroke-width="0.17" dominant-baseline="central">(a)</text>
<text x="340.3" y="111.5" font-family='"Liberation Sans", sans-serif' font-size="6" font-weight="normal" text-anchor="middle" fill="#666" stroke="#666" stroke-width="0.17" dominant-baseline="central">(b)</text>
<rect x="334.5" y="19.5" width="90.8" height="109.5" fill="none" stroke="#888" stroke-width="0.9"/>
<line x1="449.54" y1="128.5" x2="449.54" y2="127.2" stroke="#888" stroke-width="0.6"/>
<line x1="454.08" y1="128.5" x2="454.08" y2="127.2" stroke="#888" stroke-width="0.6"/>
<line x1="458.62" y1="128.5" x2="458.62" y2="127.2" stroke="#888" stroke-width="0.6"/>
<line x1="463.16" y1="128.5" x2="463.16" y2="127.2" stroke="#888" stroke-width="0.6"/>
<line x1="467.7" y1="128.5" x2="467.7" y2="127.2" stroke="#888" stroke-width="0.6"/>
<line x1="472.24" y1="128.5" x2="472.24" y2="127.2" stroke="#888" stroke-width="0.6"/>
<line x1="476.78" y1="128.5" x2="476.78" y2="127.2" stroke="#888" stroke-width="0.6"/>
<line x1="481.32" y1="128.5" x2="481.32" y2="127.2" stroke="#888" stroke-width="0.6"/>
<line x1="485.86" y1="128.5" x2="485.86" y2="127.2" stroke="#888" stroke-width="0.6"/>
<line x1="490.4" y1="128.5" x2="490.4" y2="127.2" stroke="#888" stroke-width="0.6"/>
<line x1="494.94" y1="128.5" x2="494.94" y2="127.2" stroke="#888" stroke-width="0.6"/>
<line x1="499.48" y1="128.5" x2="499.48" y2="127.2" stroke="#888" stroke-width="0.6"/>
<line x1="504.02" y1="128.5" x2="504.02" y2="127.2" stroke="#888" stroke-width="0.6"/>
<line x1="508.56" y1="128.5" x2="508.56" y2="127.2" stroke="#888" stroke-width="0.6"/>
<line x1="513.1" y1="128.5" x2="513.1" y2="127.2" stroke="#888" stroke-width="0.6"/>
<line x1="517.64" y1="128.5" x2="517.64" y2="127.2" stroke="#888" stroke-width="0.6"/>
<line x1="522.18" y1="128.5" x2="522.18" y2="127.2" stroke="#888" stroke-width="0.6"/>
<line x1="526.72" y1="128.5" x2="526.72" y2="127.2" stroke="#888" stroke-width="0.6"/>
<line x1="531.26" y1="128.5" x2="531.26" y2="127.2" stroke="#888" stroke-width="0.6"/>
<text x="445" y="136.5" font-family='"Liberation Sans", sans-serif' font-size="6.6" font-weight="normal" text-anchor="middle" fill="#3a3a3a" stroke="#3a3a3a" stroke-width="0.18" dominant-baseline="central">396</text>
<text x="463.16" y="136.5" font-family='"Liberation Sans", sans-serif' font-size="6.6" font-weight="normal" text-anchor="middle" fill="#3a3a3a" stroke="#3a3a3a" stroke-width="0.18" dominant-baseline="central">400</text>
<text x="481.32" y="136.5" font-family='"Liberation Sans", sans-serif' font-size="6.6" font-weight="normal" text-anchor="middle" fill="#3a3a3a" stroke="#3a3a3a" stroke-width="0.18" dominant-baseline="central">404</text>
<text x="499.48" y="136.5" font-family='"Liberation Sans", sans-serif' font-size="6.6" font-weight="normal" text-anchor="middle" fill="#3a3a3a" stroke="#3a3a3a" stroke-width="0.18" dominant-baseline="central">408</text>
<text x="517.64" y="136.5" font-family='"Liberation Sans", sans-serif' font-size="6.6" font-weight="normal" text-anchor="middle" fill="#3a3a3a" stroke="#3a3a3a" stroke-width="0.18" dominant-baseline="central">412</text>
<text x="535.8" y="136.5" font-family='"Liberation Sans", sans-serif' font-size="6.6" font-weight="normal" text-anchor="middle" fill="#3a3a3a" stroke="#3a3a3a" stroke-width="0.18" dominant-baseline="central">416</text>
<text x="491.2" y="148.3" font-family='"Liberation Sans", sans-serif' font-size="6.9" font-weight="bold" text-anchor="middle" fill="#222" stroke="#222" stroke-width="0.19" dominant-baseline="central">Photon Energy (eV)</text>
<text x="437.5" y="76.1" font-family='"Liberation Sans", sans-serif' font-size="7.4" font-weight="bold" text-anchor="middle" fill="#222" stroke="#222" stroke-width="0.2" dominant-baseline="central" transform="rotate(-90 437.5 76.1)">Normalized Intensity (a.u.)</text>
<text x="448.3" y="25.4" font-family='"Liberation Sans", sans-serif' font-size="6.3" font-weight="normal" text-anchor="start" fill="#444" stroke="#444" stroke-width="0.17" dominant-baseline="central">N K-edge</text>
<line x1="462.1" y1="128.3" x2="462.1" y2="40" stroke="#e070a8" stroke-width="0.8"/>
<line x1="471.2" y1="128.3" x2="471.2" y2="57" stroke="#8a9ad8" stroke-width="0.8"/>
<line x1="475.8" y1="128.3" x2="475.8" y2="49" stroke="#f0a868" stroke-width="0.8"/>
<path d="M445.6,105 C446.68,104.72 450.4,104.63 452.1,103.3 C453.8,101.97 454.85,101.37 455.8,97 C456.75,92.63 457.13,85.18 457.8,77.1 C458.47,69.02 459.18,55.4 459.8,48.5 C460.42,41.6 460.88,36.65 461.5,35.7 C462.12,34.75 462.68,38.75 463.5,42.8 C464.32,46.85 465.43,56.43 466.4,60 C467.37,63.57 468.37,64.2 469.3,64.2 C470.23,64.2 471.22,61.87 472,60 C472.78,58.13 473.33,54.8 474,53 C474.67,51.2 475.32,49.2 476,49.2 C476.68,49.2 477.42,52.03 478.1,53 C478.78,53.97 479.32,55.78 480.1,55 C480.88,54.22 481.57,51.1 482.8,48.3 C484.03,45.5 486.13,40.75 487.5,38.2 C488.87,35.65 489.65,34.47 491,33 C492.35,31.53 493.72,30.22 495.6,29.4 C497.48,28.58 500.07,28.1 502.3,28.1 C504.53,28.1 506.75,28.5 509,29.4 C511.25,30.3 513.55,32.08 515.8,33.5 C518.05,34.92 520.72,37.38 522.5,37.9 C524.28,38.42 525.27,36.43 526.5,36.6 C527.73,36.77 528.22,38.23 529.9,38.9 C531.58,39.57 535.48,40.32 536.6,40.6" fill="none" stroke="#a84444" stroke-width="1.15" stroke-linejoin="round" stroke-linecap="round"/>
<path d="M445.6,121.3 C446.68,121.07 450.3,121.57 452.1,119.9 C453.9,118.23 455.2,117.25 456.4,111.3 C457.6,105.35 458.45,91.1 459.3,84.2 C460.15,77.3 460.65,71.08 461.5,69.9 C462.35,68.72 463.43,74 464.4,77.1 C465.37,80.2 466.35,86.13 467.3,88.5 C468.25,90.87 469.07,92.02 470.1,91.3 C471.13,90.58 472.55,87.28 473.5,84.2 C474.45,81.12 474.93,73.28 475.8,72.8 C476.67,72.32 477.42,80.83 478.7,81.3 C479.98,81.77 481.52,77.27 483.5,75.6 C485.48,73.93 487.52,72.25 490.6,71.3 C493.68,70.35 497.73,70.37 502,69.9 C506.27,69.43 511.45,69.22 516.2,68.5 C520.95,67.78 527.12,65.98 530.5,65.6 C533.88,65.22 535.5,66.1 536.5,66.2" fill="none" stroke="#3b3f8c" stroke-width="1.15" stroke-linejoin="round" stroke-linecap="round"/>
<rect x="461.1" y="127" width="2" height="1.8" fill="#d02070"/>
<rect x="470.2" y="127" width="2" height="1.8" fill="#3b3f8c"/>
<rect x="474.8" y="127" width="2" height="1.8" fill="#f08030"/>
<text x="455.8" y="37.1" font-family='"Liberation Sans", sans-serif' font-size="6.2" font-weight="bold" text-anchor="middle" fill="#d02070" stroke="#d02070" stroke-width="0.17" dominant-baseline="central">N1</text>
<text x="469.3" y="53.7" font-family='"Liberation Sans", sans-serif' font-size="6.2" font-weight="bold" text-anchor="middle" fill="#3a5fb0" stroke="#3a5fb0" stroke-width="0.17" dominant-baseline="central">N2</text>
<text x="476.4" y="45.7" font-family='"Liberation Sans", sans-serif' font-size="6.2" font-weight="bold" text-anchor="middle" fill="#f08030" stroke="#f08030" stroke-width="0.17" dominant-baseline="central">N3</text>
<text x="510.6" y="56.5" font-family='"Liberation Sans", sans-serif' font-size="6.2" font-weight="bold" text-anchor="middle" fill="#8a60c0" stroke="#8a60c0" stroke-width="0.17" dominant-baseline="central">N4</text>
<line x1="489" y1="62.2" x2="534.5" y2="62.2" stroke="#a888d8" stroke-width="0.8"/>
<path d="M487.2,62.2 l2.6,-1.5 v3 z M536.3,62.2 l-2.6,-1.5 v3 z" fill="#a888d8"/>
<text x="450.6" y="92.7" font-family='"Liberation Sans", sans-serif' font-size="6" font-weight="normal" text-anchor="middle" fill="#666" stroke="#666" stroke-width="0.17" dominant-baseline="central">(a)</text>
<text x="450.6" y="114.2" font-family='"Liberation Sans", sans-serif' font-size="6" font-weight="normal" text-anchor="middle" fill="#666" stroke="#666" stroke-width="0.17" dominant-baseline="central">(b)</text>
<path d="M501.5,89.7 L497.86,91.8 L497.86,96 L501.5,98.1 L505.14,96 L505.14,91.8 Z M501.5,89.7 L505.14,91.8 L508.77,89.7 L508.77,85.5 L505.14,83.4 L501.5,85.5 Z M501.5,89.7 L501.5,85.5 L497.86,83.4 L494.23,85.5 L494.23,89.7 L497.86,91.8 Z M501.5,98.1 L501.5,102 M494.23,85.5 L490.85,83.55 M508.77,85.5 L512.15,83.55" fill="none" stroke="#606060" stroke-width="0.75" stroke-linejoin="round"/>
<text x="488.6" y="82.25" font-family='"Liberation Sans", sans-serif' font-size="2.6" font-weight="bold" text-anchor="middle" fill="#606060" stroke="#606060" stroke-width="0.07" dominant-baseline="central">NH<tspan font-size="1.82" dy="0.6">2</tspan></text>
<text x="514.4" y="82.25" font-family='"Liberation Sans", sans-serif' font-size="2.6" font-weight="bold" text-anchor="middle" fill="#606060" stroke="#606060" stroke-width="0.07" dominant-baseline="central">NH<tspan font-size="1.82" dy="0.6">2</tspan></text>
<path d="M490.9,108.3 L487.26,110.4 L487.26,114.6 L490.9,116.7 L494.54,114.6 L494.54,110.4 Z M490.9,108.3 L494.54,110.4 L498.17,108.3 L498.17,104.1 L494.54,102 L490.9,104.1 Z M490.9,108.3 L490.9,104.1 L487.26,102 L483.63,104.1 L483.63,108.3 L487.26,110.4 Z M498.17,104.1 L501.55,102.15 M483.63,104.1 L480.25,102.15 M490.9,116.7 L490.9,120.6" fill="none" stroke="#606060" stroke-width="0.75" stroke-linejoin="round"/>
<text x="478" y="100.85" font-family='"Liberation Sans", sans-serif' font-size="2.6" font-weight="bold" text-anchor="middle" fill="#606060" stroke="#606060" stroke-width="0.07" dominant-baseline="central">NH<tspan font-size="1.82" dy="0.6">2</tspan></text>
<text x="490.9" y="123.2" font-family='"Liberation Sans", sans-serif' font-size="2.6" font-weight="bold" text-anchor="middle" fill="#606060" stroke="#606060" stroke-width="0.07" dominant-baseline="central">NH<tspan font-size="1.82" dy="0.6">2</tspan></text>
<path d="M512.2,108.3 L508.56,110.4 L508.56,114.6 L512.2,116.7 L515.84,114.6 L515.84,110.4 Z M512.2,108.3 L515.84,110.4 L519.47,108.3 L519.47,104.1 L515.84,102 L512.2,104.1 Z M512.2,108.3 L512.2,104.1 L508.56,102 L504.93,104.1 L504.93,108.3 L508.56,110.4 Z M504.93,104.1 L501.55,102.15 M519.47,104.1 L522.85,102.15 M512.2,116.7 L512.2,120.6" fill="none" stroke="#5a68c0" stroke-width="0.75" stroke-linejoin="round"/>
<text x="512.2" y="123.2" font-family='"Liberation Sans", sans-serif' font-size="2.6" font-weight="bold" text-anchor="middle" fill="#5a68c0" stroke="#5a68c0" stroke-width="0.07" dominant-baseline="central">NH<tspan font-size="1.82" dy="0.6">2</tspan></text>
<path d="M522.85,102.15 L524.35,97.65" fill="none" stroke="#5a68c0" stroke-width="0.7" stroke-linejoin="round" stroke-linecap="round"/>
<path d="M522.85,102.15 L526.35,104.65" fill="none" stroke="#5a68c0" stroke-width="0.7" stroke-linejoin="round" stroke-linecap="round"/>
<g fill="none" stroke="#5a68c0" stroke-width="0.7"><path d="M524.65,97.65 L522.46,96.06 L523.3,93.49 L526,93.49 L526.84,96.06 Z"/><path d="M530.65,106.15 L529.06,108.34 L526.49,107.5 L526.49,104.8 L529.06,103.96 Z"/></g>
<text x="525.85" y="92.65" font-family='"Liberation Sans", sans-serif' font-size="2.4" font-weight="bold" text-anchor="middle" fill="#5a68c0" stroke="#5a68c0" stroke-width="0.07" dominant-baseline="central">NH</text>
<text x="533.35" y="106.15" font-family='"Liberation Sans", sans-serif' font-size="2.4" font-weight="bold" text-anchor="middle" fill="#5a68c0" stroke="#5a68c0" stroke-width="0.07" dominant-baseline="central">NH</text>
<g fill="none" stroke-width="0.7"><circle cx="502" cy="89.7" r="1.6" stroke="#3a5fb0"/><circle cx="502" cy="102.7" r="1.9" stroke="#f08030"/><circle cx="508.3" cy="102.7" r="1.9" stroke="#e02070"/><circle cx="522.6" cy="97.7" r="1.9" stroke="#e03030"/><circle cx="525.7" cy="104" r="2.3" stroke="#3a5fb0"/></g>
<text x="502.7" y="79.9" font-family='"Liberation Sans", sans-serif' font-size="3.9" font-weight="bold" text-anchor="middle" fill="#3a5fb0" stroke="#3a5fb0" stroke-width="0.11" dominant-baseline="central">N2</text>
<text x="496.5" y="99" font-family='"Liberation Sans", sans-serif' font-size="3.9" font-weight="bold" text-anchor="middle" fill="#f08030" stroke="#f08030" stroke-width="0.11" dominant-baseline="central">N3</text>
<text x="507.7" y="98.4" font-family='"Liberation Sans", sans-serif' font-size="3.9" font-weight="bold" text-anchor="middle" fill="#e02070" stroke="#e02070" stroke-width="0.11" dominant-baseline="central">N1</text>
<text x="517" y="99" font-family='"Liberation Sans", sans-serif' font-size="3.9" font-weight="bold" text-anchor="middle" fill="#e03030" stroke="#e03030" stroke-width="0.11" dominant-baseline="central">C2</text>
<text x="528.4" y="99" font-family='"Liberation Sans", sans-serif' font-size="3.9" font-weight="bold" text-anchor="middle" fill="#20a0a0" stroke="#20a0a0" stroke-width="0.11" dominant-baseline="central">C1</text>
<rect x="445.5" y="19.4" width="91.3" height="109.1" fill="none" stroke="#888" stroke-width="0.9"/>
<text x="8.7" y="160.15" font-family='"Liberation Serif", serif' font-size="13" font-weight="bold" text-anchor="start" fill="#111">(d)</text>
<defs><clipPath id="clipd"><rect x="30.3" y="155" width="124.9" height="94.4"/></clipPath><linearGradient id="gd" x1="0" y1="0.5" x2="1" y2="0.2"><stop offset="0" stop-color="#4a4a4a"/><stop offset="0.45" stop-color="#6c6c6c"/><stop offset="1" stop-color="#8a8a8a"/></linearGradient><filter id="bd" x="-5%" y="-5%" width="110%" height="110%"><feGaussianBlur stdDeviation="0.7"/></filter></defs>
<g clip-path="url(#clipd)">
<rect x="30.3" y="155" width="124.9" height="94.4" fill="url(#gd)" stroke="none" stroke-width="1"/>
<g filter="url(#bd)">
<g fill="#1a1a1a"><ellipse cx="152.39" cy="152.91" rx="2.5" ry="1.47" transform="rotate(40 152.39 152.91)" fill-opacity="0.15"/><ellipse cx="155.83" cy="154.55" rx="2.21" ry="1.44" transform="rotate(40 155.83 154.55)" fill-opacity="0.15"/><ellipse cx="158.96" cy="157.67" rx="2.46" ry="1.49" transform="rotate(40 158.96 157.67)" fill-opacity="0.15"/><ellipse cx="143.47" cy="153.09" rx="2.2" ry="1.22" transform="rotate(40 143.47 153.09)" fill-opacity="0.18"/><ellipse cx="146.41" cy="156.31" rx="2.25" ry="1.49" transform="rotate(40 146.41 156.31)" fill-opacity="0.19"/><ellipse cx="151.13" cy="158.84" rx="2.04" ry="1.38" transform="rotate(40 151.13 158.84)" fill-opacity="0.18"/><ellipse cx="153.13" cy="162.26" rx="2.24" ry="1.25" transform="rotate(40 153.13 162.26)" fill-opacity="0.15"/><ellipse cx="157.56" cy="163.83" rx="2.21" ry="1.36" transform="rotate(40 157.56 163.83)" fill-opacity="0.15"/><ellipse cx="133.69" cy="153.14" rx="2.17" ry="1.42" transform="rotate(40 133.69 153.14)" fill-opacity="0.23"/><ellipse cx="136.73" cy="155.52" rx="2.31" ry="1.43" transform="rotate(40 136.73 155.52)" fill-opacity="0.28"/><ellipse cx="141.43" cy="158.88" rx="2.49" ry="1.3" transform="rotate(40 141.43 158.88)" fill-opacity="0.24"/><ellipse cx="144.85" cy="162.72" rx="2.18" ry="1.23" transform="rotate(40 144.85 162.72)" fill-opacity="0.2"/><ellipse cx="147.31" cy="164.33" rx="2.24" ry="1.41" transform="rotate(40 147.31 164.33)" fill-opacity="0.2"/><ellipse cx="151.05" cy="168.22" rx="2.15" ry="1.42" transform="rotate(40 151.05 168.22)" fill-opacity="0.15"/><ellipse cx="154.68" cy="170.34" rx="2.36" ry="1.31" transform="rotate(40 154.68 170.34)" fill-opacity="0.16"/><ellipse cx="124.36" cy="153.07" rx="2.5" ry="1.31" transform="rotate(40 124.36 153.07)" fill-opacity="0.36"/><ellipse cx="127.68" cy="157.35" rx="2.15" ry="1.23" transform="rotate(40 127.68 157.35)" fill-opacity="0.25"/><ellipse cx="131.98" cy="159.04" rx="2.23" ry="1.38" transform="rotate(40 131.98 159.04)" fill-opacity="0.23"/><ellipse cx="134.32" cy="161.88" rx="2.11" ry="1.27" transform="rotate(40 134.32 161.88)" fill-opacity="0.24"/><ellipse cx="138.74" cy="165.03" rx="2.14" ry="1.25" transform="rotate(40 138.74 165.03)" fill-opacity="0.22"/><ellipse cx="141.81" cy="168.5" rx="2.24" ry="1.28" transform="rotate(40 141.81 168.5)" fill-opacity="0.28"/><ellipse cx="146.29" cy="171.13" rx="2.48" ry="1.34" transform="rotate(40 146.29 171.13)" fill-opacity="0.23"/><ellipse cx="149.64" cy="174.15" rx="2.26" ry="1.28" transform="rotate(40 149.64 174.15)" fill-opacity="0.21"/><ellipse cx="152.93" cy="176.88" rx="2.24" ry="1.31" transform="rotate(40 152.93 176.88)" fill-opacity="0.15"/><ellipse cx="156.54" cy="180.42" rx="2.08" ry="1.3" transform="rotate(40 156.54 180.42)" fill-opacity="0.15"/><ellipse cx="112.28" cy="151.25" rx="2.17" ry="1.45" transform="rotate(40 112.28 151.25)" fill-opacity="0.44"/><ellipse cx="115.37" cy="154.44" rx="2.2" ry="1.45" transform="rotate(40 115.37 154.44)" fill-opacity="0.33"/><ellipse cx="117.96" cy="156.63" rx="2.06" ry="1.32" transform="rotate(40 117.96 156.63)" fill-opacity="0.32"/><ellipse cx="122.16" cy="160.26" rx="2.41" ry="1.32" transform="rotate(40 122.16 160.26)" fill-opacity="0.39"/><ellipse cx="125.5" cy="163.3" rx="2.39" ry="1.4" transform="rotate(40 125.5 163.3)" fill-opacity="0.41"/><ellipse cx="128.41" cy="165.66" rx="2.33" ry="1.23" transform="rotate(40 128.41 165.66)" fill-opacity="0.3"/><ellipse cx="132.72" cy="169.35" rx="2.31" ry="1.25" transform="rotate(40 132.72 169.35)" fill-opacity="0.35"/><ellipse cx="136.88" cy="171.93" rx="2.25" ry="1.24" transform="rotate(40 136.88 171.93)" fill-opacity="0.27"/><ellipse cx="140.53" cy="174.83" rx="2.42" ry="1.26" transform="rotate(40 140.53 174.83)" fill-opacity="0.29"/><ellipse cx="143.48" cy="177.28" rx="2.12" ry="1.37" transform="rotate(40 143.48 177.28)" fill-opacity="0.21"/><ellipse cx="146.53" cy="181.41" rx="2.23" ry="1.24" transform="rotate(40 146.53 181.41)" fill-opacity="0.23"/><ellipse cx="149.74" cy="184.32" rx="2.28" ry="1.37" transform="rotate(40 149.74 184.32)" fill-opacity="0.24"/><ellipse cx="154.36" cy="186.8" rx="2.41" ry="1.29" transform="rotate(40 154.36 186.8)" fill-opacity="0.18"/><ellipse cx="156.96" cy="189.71" rx="2.09" ry="1.36" transform="rotate(40 156.96 189.71)" fill-opacity="0.23"/><ellipse cx="101.45" cy="151.93" rx="2.12" ry="1.29" transform="rotate(40 101.45 151.93)" fill-opacity="0.48"/><ellipse cx="105.27" cy="153.89" rx="2.48" ry="1.4" transform="rotate(40 105.27 153.89)" fill-opacity="0.53"/><ellipse cx="109.09" cy="158.02" rx="2.37" ry="1.37" transform="rotate(40 109.09 158.02)" fill-opacity="0.38"/><ellipse cx="112.1" cy="160.96" rx="2.27" ry="1.49" transform="rotate(40 112.1 160.96)" fill-opacity="0.35"/><ellipse cx="115.98" cy="162.75" rx="2.41" ry="1.32" transform="rotate(40 115.98 162.75)" fill-opacity="0.47"/><ellipse cx="119.92" cy="165.68" rx="2.45" ry="1.29" transform="rotate(40 119.92 165.68)" fill-opacity="0.3"/><ellipse cx="124" cy="170.12" rx="2.1" ry="1.29" transform="rotate(40 124 170.12)" fill-opacity="0.36"/><ellipse cx="127.47" cy="171.83" rx="2.18" ry="1.34" transform="rotate(40 127.47 171.83)" fill-opacity="0.39"/><ellipse cx="129.88" cy="175.49" rx="2.44" ry="1.22" transform="rotate(40 129.88 175.49)" fill-opacity="0.29"/><ellipse cx="134.52" cy="178.82" rx="2.07" ry="1.41" transform="rotate(40 134.52 178.82)" fill-opacity="0.34"/><ellipse cx="137.32" cy="180.51" rx="2.15" ry="1.41" transform="rotate(40 137.32 180.51)" fill-opacity="0.27"/><ellipse cx="141.19" cy="184.61" rx="2.33" ry="1.47" transform="rotate(40 141.19 184.61)" fill-opacity="0.27"/><ellipse cx="144.02" cy="186.78" rx="2.33" ry="1.28" transform="rotate(40 144.02 186.78)" fill-opacity="0.32"/><ellipse cx="147.32" cy="190.83" rx="2.26" ry="1.36" transform="rotate(40 147.32 190.83)" fill-opacity="0.26"/><ellipse cx="151.1" cy="193.5" rx="2.14" ry="1.43" transform="rotate(40 151.1 193.5)" fill-opacity="0.2"/><ellipse cx="154.52" cy="196.61" rx="2.02" ry="1.34" transform="rotate(40 154.52 196.61)" fill-opacity="0.28"/><ellipse cx="158.36" cy="199.61" rx="2.09" ry="1.37" transform="rotate(40 158.36 199.61)" fill-opacity="0.22"/><ellipse cx="92.22" cy="152.39" rx="2.39" ry="1.22" transform="rotate(40 92.22 152.39)" fill-opacity="0.61"/><ellipse cx="96.07" cy="154.59" rx="2.02" ry="1.35" transform="rotate(40 96.07 154.59)" fill-opacity="0.62"/><ellipse cx="100.59" cy="157.43" rx="2.37" ry="1.21" transform="rotate(40 100.59 157.43)" fill-opacity="0.48"/><ellipse cx="103.17" cy="160.63" rx="2.04" ry="1.21" transform="rotate(40 103.17 160.63)" fill-opacity="0.46"/><ellipse cx="107.28" cy="164.29" rx="2.13" ry="1.37" transform="rotate(40 107.28 164.29)" fill-opacity="0.41"/><ellipse cx="110.17" cy="166.61" rx="2.31" ry="1.21" transform="rotate(40 110.17 166.61)" fill-opacity="0.53"/><ellipse cx="114.15" cy="169.12" rx="2.35" ry="1.46" transform="rotate(40 114.15 169.12)" fill-opacity="0.4"/><ellipse cx="118.05" cy="172.72" rx="2.42" ry="1.31" transform="rotate(40 118.05 172.72)" fill-opacity="0.39"/><ellipse cx="120.5" cy="175.5" rx="2.27" ry="1.25" transform="rotate(40 120.5 175.5)" fill-opacity="0.34"/><ellipse cx="124.17" cy="178.61" rx="2.34" ry="1.46" transform="rotate(40 124.17 178.61)" fill-opacity="0.46"/><ellipse cx="128.31" cy="181.43" rx="2.01" ry="1.25" transform="rotate(40 128.31 181.43)" fill-opacity="0.33"/><ellipse cx="131.87" cy="184.24" rx="2.08" ry="1.48" transform="rotate(40 131.87 184.24)" fill-opacity="0.32"/><ellipse cx="135.48" cy="187.93" rx="2.01" ry="1.3" transform="rotate(40 135.48 187.93)" fill-opacity="0.39"/><ellipse cx="137.91" cy="191.14" rx="2.39" ry="1.36" transform="rotate(40 137.91 191.14)" fill-opacity="0.3"/><ellipse cx="141.36" cy="192.92" rx="2.02" ry="1.29" transform="rotate(40 141.36 192.92)" fill-opacity="0.32"/><ellipse cx="145.69" cy="195.86" rx="2.13" ry="1.42" transform="rotate(40 145.69 195.86)" fill-opacity="0.31"/><ellipse cx="148.58" cy="198.92" rx="2.36" ry="1.32" transform="rotate(40 148.58 198.92)" fill-opacity="0.25"/><ellipse cx="153.26" cy="201.91" rx="2.17" ry="1.26" transform="rotate(40 153.26 201.91)" fill-opacity="0.23"/><ellipse cx="156.3" cy="205.8" rx="2.15" ry="1.4" transform="rotate(40 156.3 205.8)" fill-opacity="0.29"/><ellipse cx="83.55" cy="153.28" rx="2.29" ry="1.48" transform="rotate(40 83.55 153.28)" fill-opacity="0.56"/><ellipse cx="87.09" cy="155.7" rx="2.21" ry="1.28" transform="rotate(40 87.09 155.7)" fill-opacity="0.55"/><ellipse cx="91.02" cy="158.28" rx="2.02" ry="1.24" transform="rotate(40 91.02 158.28)" fill-opacity="0.65"/><ellipse cx="93.63" cy="161.2" rx="2.07" ry="1.26" transform="rotate(40 93.63 161.2)" fill-opacity="0.65"/><ellipse cx="96.66" cy="164.45" rx="2.12" ry="1.35" transform="rotate(40 96.66 164.45)" fill-opacity="0.5"/><ellipse cx="101.06" cy="167.54" rx="2.42" ry="1.49" transform="rotate(40 101.06 167.54)" fill-opacity="0.52"/><ellipse cx="104.21" cy="170.64" rx="2.34" ry="1.49" transform="rotate(40 104.21 170.64)" fill-opacity="0.53"/><ellipse cx="107.49" cy="173.45" rx="2.28" ry="1.31" transform="rotate(40 107.49 173.45)" fill-opacity="0.47"/><ellipse cx="111.14" cy="175.81" rx="2.09" ry="1.35" transform="rotate(40 111.14 175.81)" fill-opacity="0.42"/><ellipse cx="114.44" cy="179.49" rx="2.23" ry="1.43" transform="rotate(40 114.44 179.49)" fill-opacity="0.37"/><ellipse cx="118.07" cy="182.71" rx="2.03" ry="1.28" transform="rotate(40 118.07 182.71)" fill-opacity="0.49"/><ellipse cx="122.6" cy="184.91" rx="2.13" ry="1.41" transform="rotate(40 122.6 184.91)" fill-opacity="0.44"/><ellipse cx="126.2" cy="188.56" rx="2.21" ry="1.41" transform="rotate(40 126.2 188.56)" fill-opacity="0.4"/><ellipse cx="129.71" cy="191.47" rx="2.19" ry="1.4" transform="rotate(40 129.71 191.47)" fill-opacity="0.31"/><ellipse cx="132.84" cy="194.65" rx="2.07" ry="1.41" transform="rotate(40 132.84 194.65)" fill-opacity="0.43"/><ellipse cx="136.43" cy="196.74" rx="2.49" ry="1.21" transform="rotate(40 136.43 196.74)" fill-opacity="0.41"/><ellipse cx="139.14" cy="199.13" rx="2.37" ry="1.5" transform="rotate(40 139.14 199.13)" fill-opacity="0.3"/><ellipse cx="143.34" cy="202.79" rx="2.15" ry="1.44" transform="rotate(40 143.34 202.79)" fill-opacity="0.3"/><ellipse cx="146.45" cy="205.6" rx="2.38" ry="1.49" transform="rotate(40 146.45 205.6)" fill-opacity="0.32"/><ellipse cx="150.63" cy="208.81" rx="2.07" ry="1.25" transform="rotate(40 150.63 208.81)" fill-opacity="0.32"/><ellipse cx="153.82" cy="211.08" rx="2.01" ry="1.37" transform="rotate(40 153.82 211.08)" fill-opacity="0.25"/><ellipse cx="156.93" cy="214.62" rx="2.13" ry="1.22" transform="rotate(40 156.93 214.62)" fill-opacity="0.25"/><ellipse cx="74.69" cy="152.86" rx="2.13" ry="1.47" transform="rotate(40 74.69 152.86)" fill-opacity="0.71"/><ellipse cx="77.31" cy="155.77" rx="2.41" ry="1.31" transform="rotate(40 77.31 155.77)" fill-opacity="0.68"/><ellipse cx="80.78" cy="158.58" rx="2.16" ry="1.23" transform="rotate(40 80.78 158.58)" fill-opacity="0.73"/><ellipse cx="84.93" cy="161.97" rx="2.09" ry="1.23" transform="rotate(40 84.93 161.97)" fill-opacity="0.65"/><ellipse cx="87.28" cy="164.85" rx="2.16" ry="1.36" transform="rotate(40 87.28 164.85)" fill-opacity="0.57"/><ellipse cx="91.11" cy="168.41" rx="2.38" ry="1.23" transform="rotate(40 91.11 168.41)" fill-opacity="0.53"/><ellipse cx="95" cy="171.5" rx="2.2" ry="1.41" transform="rotate(40 95 171.5)" fill-opacity="0.49"/><ellipse cx="99.35" cy="173.43" rx="2.18" ry="1.5" transform="rotate(40 99.35 173.43)" fill-opacity="0.46"/><ellipse cx="102.39" cy="176.22" rx="2.44" ry="1.46" transform="rotate(40 102.39 176.22)" fill-opacity="0.54"/><ellipse cx="105.69" cy="179.74" rx="2.42" ry="1.41" transform="rotate(40 105.69 179.74)" fill-opacity="0.42"/><ellipse cx="109.47" cy="182.46" rx="2.12" ry="1.38" transform="rotate(40 109.47 182.46)" fill-opacity="0.46"/><ellipse cx="112.75" cy="184.8" rx="2.22" ry="1.38" transform="rotate(40 112.75 184.8)" fill-opacity="0.49"/><ellipse cx="116.94" cy="187.95" rx="2.5" ry="1.42" transform="rotate(40 116.94 187.95)" fill-opacity="0.44"/><ellipse cx="119.62" cy="192.05" rx="2.5" ry="1.35" transform="rotate(40 119.62 192.05)" fill-opacity="0.37"/><ellipse cx="124" cy="194.94" rx="2.26" ry="1.5" transform="rotate(40 124 194.94)" fill-opacity="0.47"/><ellipse cx="126.43" cy="197.86" rx="2.27" ry="1.46" transform="rotate(40 126.43 197.86)" fill-opacity="0.4"/><ellipse cx="129.67" cy="200.42" rx="2.25" ry="1.27" transform="rotate(40 129.67 200.42)" fill-opacity="0.44"/><ellipse cx="134.44" cy="203.72" rx="2.45" ry="1.44" transform="rotate(40 134.44 203.72)" fill-opacity="0.38"/><ellipse cx="136.65" cy="206" rx="2.42" ry="1.24" transform="rotate(40 136.65 206)" fill-opacity="0.42"/><ellipse cx="141.11" cy="209.84" rx="2.49" ry="1.26" transform="rotate(40 141.11 209.84)" fill-opacity="0.28"/><ellipse cx="145.05" cy="212.52" rx="2.33" ry="1.33" transform="rotate(40 145.05 212.52)" fill-opacity="0.29"/><ellipse cx="148.17" cy="214.76" rx="2.35" ry="1.25" transform="rotate(40 148.17 214.76)" fill-opacity="0.33"/><ellipse cx="150.9" cy="217.46" rx="2.31" ry="1.31" transform="rotate(40 150.9 217.46)" fill-opacity="0.36"/><ellipse cx="155.39" cy="220.8" rx="2.2" ry="1.24" transform="rotate(40 155.39 220.8)" fill-opacity="0.26"/><ellipse cx="158.42" cy="224.5" rx="2.23" ry="1.35" transform="rotate(40 158.42 224.5)" fill-opacity="0.27"/><ellipse cx="60.4" cy="151.17" rx="2.18" ry="1.31" transform="rotate(40 60.4 151.17)" fill-opacity="0.62"/><ellipse cx="64.84" cy="153.24" rx="2.47" ry="1.21" transform="rotate(40 64.84 153.24)" fill-opacity="0.84"/><ellipse cx="68.04" cy="156.22" rx="2.16" ry="1.4" transform="rotate(40 68.04 156.22)" fill-opacity="0.69"/><ellipse cx="72.37" cy="160.16" rx="2.2" ry="1.45" transform="rotate(40 72.37 160.16)" fill-opacity="0.82"/><ellipse cx="75.46" cy="163.16" rx="2.23" ry="1.32" transform="rotate(40 75.46 163.16)" fill-opacity="0.54"/><ellipse cx="78.21" cy="166.1" rx="2.18" ry="1.24" transform="rotate(40 78.21 166.1)" fill-opacity="0.57"/><ellipse cx="82.57" cy="167.61" rx="2.32" ry="1.39" transform="rotate(40 82.57 167.61)" fill-opacity="0.54"/><ellipse cx="85.32" cy="171.73" rx="2.39" ry="1.24" transform="rotate(40 85.32 171.73)" fill-opacity="0.67"/><ellipse cx="88.46" cy="174.76" rx="2.45" ry="1.21" transform="rotate(40 88.46 174.76)" fill-opacity="0.71"/><ellipse cx="92.82" cy="177.2" rx="2.39" ry="1.29" transform="rotate(40 92.82 177.2)" fill-opacity="0.48"/><ellipse cx="95.68" cy="180.21" rx="2.04" ry="1.35" transform="rotate(40 95.68 180.21)" fill-opacity="0.47"/><ellipse cx="99.67" cy="182.34" rx="2.23" ry="1.37" transform="rotate(40 99.67 182.34)" fill-opacity="0.48"/><ellipse cx="103.89" cy="185.38" rx="2.08" ry="1.49" transform="rotate(40 103.89 185.38)" fill-opacity="0.6"/><ellipse cx="106.7" cy="189.15" rx="2.48" ry="1.32" transform="rotate(40 106.7 189.15)" fill-opacity="0.59"/><ellipse cx="110.75" cy="192.27" rx="2.27" ry="1.21" transform="rotate(40 110.75 192.27)" fill-opacity="0.42"/><ellipse cx="114.13" cy="195.44" rx="2.21" ry="1.22" transform="rotate(40 114.13 195.44)" fill-opacity="0.39"/><ellipse cx="117.15" cy="197.82" rx="2.44" ry="1.48" transform="rotate(40 117.15 197.82)" fill-opacity="0.49"/><ellipse cx="120.95" cy="201.44" rx="2.15" ry="1.42" transform="rotate(40 120.95 201.44)" fill-opacity="0.43"/><ellipse cx="124.44" cy="203.53" rx="2.23" ry="1.21" transform="rotate(40 124.44 203.53)" fill-opacity="0.42"/><ellipse cx="127.3" cy="206.76" rx="2.2" ry="1.27" transform="rotate(40 127.3 206.76)" fill-opacity="0.43"/><ellipse cx="131.49" cy="209.24" rx="2.24" ry="1.2" transform="rotate(40 131.49 209.24)" fill-opacity="0.44"/><ellipse cx="135.79" cy="211.84" rx="2.48" ry="1.31" transform="rotate(40 135.79 211.84)" fill-opacity="0.4"/><ellipse cx="138.36" cy="215.26" rx="2.29" ry="1.29" transform="rotate(40 138.36 215.26)" fill-opacity="0.39"/><ellipse cx="142.12" cy="218.94" rx="2.05" ry="1.28" transform="rotate(40 142.12 218.94)" fill-opacity="0.29"/><ellipse cx="146.19" cy="221.34" rx="2.34" ry="1.23" transform="rotate(40 146.19 221.34)" fill-opacity="0.31"/><ellipse cx="149.67" cy="224.18" rx="2.41" ry="1.44" transform="rotate(40 149.67 224.18)" fill-opacity="0.3"/><ellipse cx="151.95" cy="227.83" rx="2.31" ry="1.37" transform="rotate(40 151.95 227.83)" fill-opacity="0.26"/><ellipse cx="156.41" cy="229.6" rx="2.38" ry="1.37" transform="rotate(40 156.41 229.6)" fill-opacity="0.36"/><ellipse cx="55.45" cy="154.64" rx="2.34" ry="1.32" transform="rotate(40 55.45 154.64)" fill-opacity="0.78"/><ellipse cx="58.06" cy="157.3" rx="2.29" ry="1.26" transform="rotate(40 58.06 157.3)" fill-opacity="0.66"/><ellipse cx="62.36" cy="159.9" rx="2.29" ry="1.45" transform="rotate(40 62.36 159.9)" fill-opacity="0.71"/><ellipse cx="65.87" cy="162.8" rx="2.16" ry="1.41" transform="rotate(40 65.87 162.8)" fill-opacity="0.87"/><ellipse cx="69.38" cy="165.39" rx="2.41" ry="1.31" transform="rotate(40 69.38 165.39)" fill-opacity="0.58"/><ellipse cx="72.68" cy="168.93" rx="2.49" ry="1.47" transform="rotate(40 72.68 168.93)" fill-opacity="0.71"/><ellipse cx="76.29" cy="171.27" rx="2.05" ry="1.29" transform="rotate(40 76.29 171.27)" fill-opacity="0.74"/><ellipse cx="79.09" cy="174.97" rx="2.28" ry="1.3" transform="rotate(40 79.09 174.97)" fill-opacity="0.68"/><ellipse cx="83.85" cy="176.97" rx="2.11" ry="1.26" transform="rotate(40 83.85 176.97)" fill-opacity="0.71"/><ellipse cx="87.06" cy="179.96" rx="2.29" ry="1.47" transform="rotate(40 87.06 179.96)" fill-opacity="0.69"/><ellipse cx="90.71" cy="183.31" rx="2.36" ry="1.29" transform="rotate(40 90.71 183.31)" fill-opacity="0.71"/><ellipse cx="94.29" cy="186.1" rx="2.01" ry="1.36" transform="rotate(40 94.29 186.1)" fill-opacity="0.52"/><ellipse cx="96.86" cy="189.41" rx="2.14" ry="1.28" transform="rotate(40 96.86 189.41)" fill-opacity="0.52"/><ellipse cx="101.58" cy="191.85" rx="2.43" ry="1.38" transform="rotate(40 101.58 191.85)" fill-opacity="0.63"/><ellipse cx="104.88" cy="195.41" rx="2.46" ry="1.43" transform="rotate(40 104.88 195.41)" fill-opacity="0.57"/><ellipse cx="107.81" cy="198.77" rx="2.23" ry="1.31" transform="rotate(40 107.81 198.77)" fill-opacity="0.46"/><ellipse cx="112.26" cy="201.27" rx="2.17" ry="1.27" transform="rotate(40 112.26 201.27)" fill-opacity="0.51"/><ellipse cx="114.45" cy="204.93" rx="2.04" ry="1.47" transform="rotate(40 114.45 204.93)" fill-opacity="0.53"/><ellipse cx="119.38" cy="206.87" rx="2.03" ry="1.4" transform="rotate(40 119.38 206.87)" fill-opacity="0.54"/><ellipse cx="122.89" cy="210.43" rx="2.39" ry="1.36" transform="rotate(40 122.89 210.43)" fill-opacity="0.52"/><ellipse cx="125.69" cy="212.86" rx="2.1" ry="1.41" transform="rotate(40 125.69 212.86)" fill-opacity="0.44"/><ellipse cx="129.15" cy="215.38" rx="2.28" ry="1.49" transform="rotate(40 129.15 215.38)" fill-opacity="0.43"/><ellipse cx="132.11" cy="218.69" rx="2.35" ry="1.48" transform="rotate(40 132.11 218.69)" fill-opacity="0.39"/><ellipse cx="136.94" cy="222.64" rx="2.47" ry="1.21" transform="rotate(40 136.94 222.64)" fill-opacity="0.46"/><ellipse cx="139.88" cy="225.22" rx="2.31" ry="1.48" transform="rotate(40 139.88 225.22)" fill-opacity="0.41"/><ellipse cx="142.51" cy="227.26" rx="2.48" ry="1.21" transform="rotate(40 142.51 227.26)" fill-opacity="0.44"/><ellipse cx="146.82" cy="230.96" rx="2.4" ry="1.2" transform="rotate(40 146.82 230.96)" fill-opacity="0.4"/><ellipse cx="150.84" cy="233.64" rx="2.17" ry="1.2" transform="rotate(40 150.84 233.64)" fill-opacity="0.32"/><ellipse cx="153.45" cy="236.88" rx="2.17" ry="1.4" transform="rotate(40 153.45 236.88)" fill-opacity="0.34"/><ellipse cx="156.93" cy="240.31" rx="2.07" ry="1.28" transform="rotate(40 156.93 240.31)" fill-opacity="0.28"/><ellipse cx="42.9" cy="152.25" rx="2.07" ry="1.44" transform="rotate(40 42.9 152.25)" fill-opacity="0.82"/><ellipse cx="45.51" cy="154.89" rx="2.14" ry="1.38" transform="rotate(40 45.51 154.89)" fill-opacity="0.81"/><ellipse cx="49.25" cy="157.89" rx="2.25" ry="1.31" transform="rotate(40 49.25 157.89)" fill-opacity="0.66"/><ellipse cx="52.35" cy="160.94" rx="2.47" ry="1.3" transform="rotate(40 52.35 160.94)" fill-opacity="0.97"/><ellipse cx="55.77" cy="163.64" rx="2.1" ry="1.24" transform="rotate(40 55.77 163.64)" fill-opacity="0.94"/><ellipse cx="60.48" cy="166.61" rx="2.23" ry="1.31" transform="rotate(40 60.48 166.61)" fill-opacity="0.91"/><ellipse cx="62.7" cy="168.7" rx="2.02" ry="1.29" transform="rotate(40 62.7 168.7)" fill-opacity="0.71"/><ellipse cx="66.98" cy="172.27" rx="2.26" ry="1.48" transform="rotate(40 66.98 172.27)" fill-opacity="0.81"/><ellipse cx="70.13" cy="175.54" rx="2.25" ry="1.25" transform="rotate(40 70.13 175.54)" fill-opacity="0.85"/><ellipse cx="74.43" cy="178.83" rx="2.3" ry="1.45" transform="rotate(40 74.43 178.83)" fill-opacity="0.68"/><ellipse cx="76.99" cy="181.75" rx="2.01" ry="1.43" transform="rotate(40 76.99 181.75)" fill-opacity="0.82"/><ellipse cx="80.29" cy="183.45" rx="2.37" ry="1.26" transform="rotate(40 80.29 183.45)" fill-opacity="0.57"/><ellipse cx="84.53" cy="187.19" rx="2.09" ry="1.2" transform="rotate(40 84.53 187.19)" fill-opacity="0.64"/><ellipse cx="88.24" cy="189.7" rx="2.31" ry="1.3" transform="rotate(40 88.24 189.7)" fill-opacity="0.62"/><ellipse cx="92.19" cy="192.99" rx="2.27" ry="1.34" transform="rotate(40 92.19 192.99)" fill-opacity="0.59"/><ellipse cx="95.8" cy="196.38" rx="2.08" ry="1.35" transform="rotate(40 95.8 196.38)" fill-opacity="0.69"/><ellipse cx="98.29" cy="198.25" rx="2.12" ry="1.38" transform="rotate(40 98.29 198.25)" fill-opacity="0.63"/><ellipse cx="101.5" cy="202.03" rx="2.28" ry="1.35" transform="rotate(40 101.5 202.03)" fill-opacity="0.53"/><ellipse cx="105.7" cy="204.5" rx="2.25" ry="1.28" transform="rotate(40 105.7 204.5)" fill-opacity="0.43"/><ellipse cx="109.41" cy="207.59" rx="2.25" ry="1.34" transform="rotate(40 109.41 207.59)" fill-opacity="0.44"/><ellipse cx="113.47" cy="210.25" rx="2.04" ry="1.44" transform="rotate(40 113.47 210.25)" fill-opacity="0.5"/><ellipse cx="115.85" cy="214.2" rx="2.21" ry="1.37" transform="rotate(40 115.85 214.2)" fill-opacity="0.51"/><ellipse cx="119.75" cy="216.49" rx="2.42" ry="1.35" transform="rotate(40 119.75 216.49)" fill-opacity="0.44"/><ellipse cx="123.83" cy="219.96" rx="2.46" ry="1.41" transform="rotate(40 123.83 219.96)" fill-opacity="0.56"/><ellipse cx="127.15" cy="222.93" rx="2.09" ry="1.44" transform="rotate(40 127.15 222.93)" fill-opacity="0.51"/><ellipse cx="129.58" cy="225.41" rx="2.4" ry="1.38" transform="rotate(40 129.58 225.41)" fill-opacity="0.42"/><ellipse cx="134.56" cy="228.57" rx="2.33" ry="1.23" transform="rotate(40 134.56 228.57)" fill-opacity="0.35"/><ellipse cx="137.98" cy="231" rx="2.35" ry="1.43" transform="rotate(40 137.98 231)" fill-opacity="0.36"/><ellipse cx="141.11" cy="233.66" rx="2.03" ry="1.46" transform="rotate(40 141.11 233.66)" fill-opacity="0.44"/><ellipse cx="144.89" cy="237.81" rx="2.47" ry="1.39" transform="rotate(40 144.89 237.81)" fill-opacity="0.4"/><ellipse cx="147.77" cy="239.94" rx="2.08" ry="1.44" transform="rotate(40 147.77 239.94)" fill-opacity="0.3"/><ellipse cx="151.79" cy="243.15" rx="2.14" ry="1.26" transform="rotate(40 151.79 243.15)" fill-opacity="0.34"/><ellipse cx="155.3" cy="246.79" rx="2.46" ry="1.47" transform="rotate(40 155.3 246.79)" fill-opacity="0.33"/><ellipse cx="32.71" cy="151.78" rx="2.24" ry="1.49" transform="rotate(40 32.71 151.78)" fill-opacity="0.83"/><ellipse cx="36.79" cy="154.98" rx="2.47" ry="1.47" transform="rotate(40 36.79 154.98)" fill-opacity="0.96"/><ellipse cx="39.94" cy="157.35" rx="2.03" ry="1.25" transform="rotate(40 39.94 157.35)" fill-opacity="0.99"/><ellipse cx="43.05" cy="161.16" rx="2.16" ry="1.43" transform="rotate(40 43.05 161.16)" fill-opacity="0.96"/><ellipse cx="47.27" cy="163.69" rx="2.05" ry="1.34" transform="rotate(40 47.27 163.69)" fill-opacity="0.82"/><ellipse cx="51.09" cy="166.01" rx="2.13" ry="1.41" transform="rotate(40 51.09 166.01)" fill-opacity="0.68"/><ellipse cx="53.39" cy="169.56" rx="2.37" ry="1.32" transform="rotate(40 53.39 169.56)" fill-opacity="0.84"/><ellipse cx="57.8" cy="172.82" rx="2.36" ry="1.24" transform="rotate(40 57.8 172.82)" fill-opacity="0.64"/><ellipse cx="60.35" cy="175.41" rx="2.05" ry="1.49" transform="rotate(40 60.35 175.41)" fill-opacity="0.77"/><ellipse cx="64.54" cy="178.69" rx="2.49" ry="1.24" transform="rotate(40 64.54 178.69)" fill-opacity="0.7"/><ellipse cx="68.1" cy="181.36" rx="2.44" ry="1.28" transform="rotate(40 68.1 181.36)" fill-opacity="0.71"/><ellipse cx="71.94" cy="184.38" rx="2.22" ry="1.34" transform="rotate(40 71.94 184.38)" fill-opacity="0.68"/><ellipse cx="74.82" cy="187.85" rx="2.24" ry="1.46" transform="rotate(40 74.82 187.85)" fill-opacity="0.69"/><ellipse cx="78.46" cy="191.01" rx="2.39" ry="1.32" transform="rotate(40 78.46 191.01)" fill-opacity="0.83"/><ellipse cx="82.56" cy="193" rx="2.47" ry="1.4" transform="rotate(40 82.56 193)" fill-opacity="0.73"/><ellipse cx="85.6" cy="196.53" rx="2.39" ry="1.36" transform="rotate(40 85.6 196.53)" fill-opacity="0.58"/><ellipse cx="88.97" cy="199.58" rx="2.21" ry="1.43" transform="rotate(40 88.97 199.58)" fill-opacity="0.51"/><ellipse cx="92.59" cy="202.99" rx="2.46" ry="1.22" transform="rotate(40 92.59 202.99)" fill-opacity="0.54"/><ellipse cx="96.79" cy="205.7" rx="2.3" ry="1.41" transform="rotate(40 96.79 205.7)" fill-opacity="0.57"/><ellipse cx="100.19" cy="208.24" rx="2.35" ry="1.37" transform="rotate(40 100.19 208.24)" fill-opacity="0.52"/><ellipse cx="104.1" cy="210.49" rx="2.16" ry="1.42" transform="rotate(40 104.1 210.49)" fill-opacity="0.63"/><ellipse cx="106.48" cy="214.13" rx="2.25" ry="1.25" transform="rotate(40 106.48 214.13)" fill-opacity="0.57"/><ellipse cx="111" cy="217.25" rx="2.4" ry="1.33" transform="rotate(40 111 217.25)" fill-opacity="0.49"/><ellipse cx="113.94" cy="220.73" rx="2.48" ry="1.31" transform="rotate(40 113.94 220.73)" fill-opacity="0.54"/><ellipse cx="116.74" cy="222.58" rx="2.35" ry="1.45" transform="rotate(40 116.74 222.58)" fill-opacity="0.56"/><ellipse cx="120.58" cy="225.63" rx="2.01" ry="1.31" transform="rotate(40 120.58 225.63)" fill-opacity="0.51"/><ellipse cx="123.9" cy="228.51" rx="2.47" ry="1.27" transform="rotate(40 123.9 228.51)" fill-opacity="0.56"/><ellipse cx="128.46" cy="232.15" rx="2.24" ry="1.41" transform="rotate(40 128.46 232.15)" fill-opacity="0.42"/><ellipse cx="131.05" cy="235.05" rx="2.17" ry="1.46" transform="rotate(40 131.05 235.05)" fill-opacity="0.5"/><ellipse cx="134.94" cy="238.18" rx="2.3" ry="1.5" transform="rotate(40 134.94 238.18)" fill-opacity="0.46"/><ellipse cx="138" cy="241.38" rx="2.22" ry="1.33" transform="rotate(40 138 241.38)" fill-opacity="0.41"/><ellipse cx="142.75" cy="243.88" rx="2.18" ry="1.41" transform="rotate(40 142.75 243.88)" fill-opacity="0.36"/><ellipse cx="145.17" cy="246.34" rx="2.36" ry="1.21" transform="rotate(40 145.17 246.34)" fill-opacity="0.36"/><ellipse cx="148.43" cy="250.05" rx="2.29" ry="1.23" transform="rotate(40 148.43 250.05)" fill-opacity="0.41"/><ellipse cx="152.81" cy="253.05" rx="2.05" ry="1.21" transform="rotate(40 152.81 253.05)" fill-opacity="0.31"/><ellipse cx="27.52" cy="155.31" rx="2.16" ry="1.47" transform="rotate(40 27.52 155.31)" fill-opacity="0.97"/><ellipse cx="30.69" cy="158.57" rx="2.25" ry="1.32" transform="rotate(40 30.69 158.57)" fill-opacity="1"/><ellipse cx="34.02" cy="161.22" rx="2.27" ry="1.44" transform="rotate(40 34.02 161.22)" fill-opacity="0.94"/><ellipse cx="37.1" cy="163.46" rx="2.02" ry="1.44" transform="rotate(40 37.1 163.46)" fill-opacity="0.84"/><ellipse cx="40.72" cy="166.69" rx="2.42" ry="1.41" transform="rotate(40 40.72 166.69)" fill-opacity="1"/><ellipse cx="44.98" cy="170.07" rx="2.28" ry="1.46" transform="rotate(40 44.98 170.07)" fill-opacity="0.83"/><ellipse cx="48.78" cy="173.64" rx="2.12" ry="1.49" transform="rotate(40 48.78 173.64)" fill-opacity="0.7"/><ellipse cx="51.66" cy="175.75" rx="2.26" ry="1.5" transform="rotate(40 51.66 175.75)" fill-opacity="0.96"/><ellipse cx="54.6" cy="178.84" rx="2.06" ry="1.37" transform="rotate(40 54.6 178.84)" fill-opacity="0.87"/><ellipse cx="58.58" cy="182.39" rx="2.29" ry="1.25" transform="rotate(40 58.58 182.39)" fill-opacity="0.83"/><ellipse cx="62.85" cy="185.21" rx="2.22" ry="1.36" transform="rotate(40 62.85 185.21)" fill-opacity="0.68"/><ellipse cx="64.96" cy="187.44" rx="2.11" ry="1.22" transform="rotate(40 64.96 187.44)" fill-opacity="0.82"/><ellipse cx="68.99" cy="191.57" rx="2.05" ry="1.39" transform="rotate(40 68.99 191.57)" fill-opacity="0.77"/><ellipse cx="73.19" cy="193.09" rx="2.4" ry="1.24" transform="rotate(40 73.19 193.09)" fill-opacity="0.58"/><ellipse cx="76.26" cy="197.49" rx="2.13" ry="1.45" transform="rotate(40 76.26 197.49)" fill-opacity="0.66"/><ellipse cx="80.52" cy="198.98" rx="2.19" ry="1.45" transform="rotate(40 80.52 198.98)" fill-opacity="0.71"/><ellipse cx="83.34" cy="203.42" rx="2.14" ry="1.48" transform="rotate(40 83.34 203.42)" fill-opacity="0.6"/><ellipse cx="86.18" cy="205.12" rx="2.14" ry="1.45" transform="rotate(40 86.18 205.12)" fill-opacity="0.59"/><ellipse cx="91.17" cy="208.85" rx="2.19" ry="1.42" transform="rotate(40 91.17 208.85)" fill-opacity="0.68"/><ellipse cx="93.22" cy="211.53" rx="2.27" ry="1.21" transform="rotate(40 93.22 211.53)" fill-opacity="0.6"/><ellipse cx="97.17" cy="213.93" rx="2.46" ry="1.25" transform="rotate(40 97.17 213.93)" fill-opacity="0.64"/><ellipse cx="100.97" cy="217.88" rx="2.12" ry="1.26" transform="rotate(40 100.97 217.88)" fill-opacity="0.62"/><ellipse cx="103.82" cy="220.99" rx="2.09" ry="1.34" transform="rotate(40 103.82 220.99)" fill-opacity="0.47"/><ellipse cx="108.21" cy="223.76" rx="2.36" ry="1.22" transform="rotate(40 108.21 223.76)" fill-opacity="0.63"/><ellipse cx="110.98" cy="225.78" rx="2.01" ry="1.46" transform="rotate(40 110.98 225.78)" fill-opacity="0.45"/><ellipse cx="114.4" cy="228.55" rx="2.3" ry="1.47" transform="rotate(40 114.4 228.55)" fill-opacity="0.62"/><ellipse cx="118.09" cy="231.62" rx="2.32" ry="1.25" transform="rotate(40 118.09 231.62)" fill-opacity="0.46"/><ellipse cx="121.55" cy="235.3" rx="2.19" ry="1.34" transform="rotate(40 121.55 235.3)" fill-opacity="0.52"/><ellipse cx="125.37" cy="237.36" rx="2.29" ry="1.32" transform="rotate(40 125.37 237.36)" fill-opacity="0.58"/><ellipse cx="129.86" cy="240.52" rx="2.35" ry="1.31" transform="rotate(40 129.86 240.52)" fill-opacity="0.46"/><ellipse cx="133.34" cy="243.33" rx="2.15" ry="1.43" transform="rotate(40 133.34 243.33)" fill-opacity="0.42"/><ellipse cx="136.53" cy="247.7" rx="2.2" ry="1.46" transform="rotate(40 136.53 247.7)" fill-opacity="0.4"/><ellipse cx="139.11" cy="250.74" rx="2.43" ry="1.31" transform="rotate(40 139.11 250.74)" fill-opacity="0.5"/><ellipse cx="28.23" cy="164.44" rx="2" ry="1.2" transform="rotate(40 28.23 164.44)" fill-opacity="0.77"/><ellipse cx="31.89" cy="166.96" rx="2.12" ry="1.34" transform="rotate(40 31.89 166.96)" fill-opacity="1"/><ellipse cx="35.76" cy="171.31" rx="2.16" ry="1.32" transform="rotate(40 35.76 171.31)" fill-opacity="0.9"/><ellipse cx="39.01" cy="173.01" rx="2.48" ry="1.26" transform="rotate(40 39.01 173.01)" fill-opacity="1"/><ellipse cx="41.7" cy="175.78" rx="2.09" ry="1.42" transform="rotate(40 41.7 175.78)" fill-opacity="0.87"/><ellipse cx="46.04" cy="180.23" rx="2.05" ry="1.21" transform="rotate(40 46.04 180.23)" fill-opacity="0.71"/><ellipse cx="49.8" cy="182.73" rx="2.43" ry="1.31" transform="rotate(40 49.8 182.73)" fill-opacity="0.87"/><ellipse cx="52.38" cy="184.64" rx="2.03" ry="1.36" transform="rotate(40 52.38 184.64)" fill-opacity="0.72"/><ellipse cx="56.08" cy="187.74" rx="2.36" ry="1.47" transform="rotate(40 56.08 187.74)" fill-opacity="0.88"/><ellipse cx="59.99" cy="191.89" rx="2.49" ry="1.29" transform="rotate(40 59.99 191.89)" fill-opacity="0.86"/><ellipse cx="63.59" cy="194.21" rx="2.24" ry="1.28" transform="rotate(40 63.59 194.21)" fill-opacity="0.62"/><ellipse cx="66.92" cy="197.24" rx="2.07" ry="1.38" transform="rotate(40 66.92 197.24)" fill-opacity="0.63"/><ellipse cx="71.21" cy="200.65" rx="2.23" ry="1.35" transform="rotate(40 71.21 200.65)" fill-opacity="0.68"/><ellipse cx="73.78" cy="203.81" rx="2.2" ry="1.34" transform="rotate(40 73.78 203.81)" fill-opacity="0.73"/><ellipse cx="78.27" cy="205.37" rx="2.04" ry="1.4" transform="rotate(40 78.27 205.37)" fill-opacity="0.68"/><ellipse cx="81.16" cy="209.47" rx="2.15" ry="1.31" transform="rotate(40 81.16 209.47)" fill-opacity="0.69"/><ellipse cx="84.06" cy="211.22" rx="2.24" ry="1.24" transform="rotate(40 84.06 211.22)" fill-opacity="0.8"/><ellipse cx="87.35" cy="215.24" rx="2.22" ry="1.38" transform="rotate(40 87.35 215.24)" fill-opacity="0.59"/><ellipse cx="91" cy="218.37" rx="2.02" ry="1.4" transform="rotate(40 91 218.37)" fill-opacity="0.55"/><ellipse cx="95.73" cy="221.34" rx="2.02" ry="1.38" transform="rotate(40 95.73 221.34)" fill-opacity="0.56"/><ellipse cx="98.3" cy="224.5" rx="2.32" ry="1.22" transform="rotate(40 98.3 224.5)" fill-opacity="0.55"/><ellipse cx="102.86" cy="226.98" rx="2.36" ry="1.47" transform="rotate(40 102.86 226.98)" fill-opacity="0.56"/><ellipse cx="104.93" cy="229.75" rx="2.27" ry="1.49" transform="rotate(40 104.93 229.75)" fill-opacity="0.51"/><ellipse cx="108.79" cy="232.79" rx="2.08" ry="1.42" transform="rotate(40 108.79 232.79)" fill-opacity="0.54"/><ellipse cx="112.45" cy="235.53" rx="2.36" ry="1.34" transform="rotate(40 112.45 235.53)" fill-opacity="0.61"/><ellipse cx="116.76" cy="238.61" rx="2.18" ry="1.31" transform="rotate(40 116.76 238.61)" fill-opacity="0.58"/><ellipse cx="119.17" cy="241.9" rx="2.31" ry="1.43" transform="rotate(40 119.17 241.9)" fill-opacity="0.57"/><ellipse cx="123.89" cy="245.28" rx="2.32" ry="1.31" transform="rotate(40 123.89 245.28)" fill-opacity="0.5"/><ellipse cx="126.59" cy="247.72" rx="2.18" ry="1.45" transform="rotate(40 126.59 247.72)" fill-opacity="0.48"/><ellipse cx="130.61" cy="250.99" rx="2.32" ry="1.28" transform="rotate(40 130.61 250.99)" fill-opacity="0.48"/><ellipse cx="134.53" cy="253.09" rx="2.06" ry="1.24" transform="rotate(40 134.53 253.09)" fill-opacity="0.46"/><ellipse cx="29.09" cy="174.71" rx="2.29" ry="1.24" transform="rotate(40 29.09 174.71)" fill-opacity="1"/><ellipse cx="32.18" cy="177.08" rx="2.05" ry="1.32" transform="rotate(40 32.18 177.08)" fill-opacity="0.8"/><ellipse cx="37" cy="180.68" rx="2.32" ry="1.34" transform="rotate(40 37 180.68)" fill-opacity="1"/><ellipse cx="40.16" cy="182.36" rx="2.21" ry="1.35" transform="rotate(40 40.16 182.36)" fill-opacity="0.93"/><ellipse cx="43.71" cy="185.97" rx="2.41" ry="1.23" transform="rotate(40 43.71 185.97)" fill-opacity="1"/><ellipse cx="47.67" cy="188.51" rx="2.23" ry="1.37" transform="rotate(40 47.67 188.51)" fill-opacity="0.85"/><ellipse cx="51.01" cy="192.26" rx="2.27" ry="1.23" transform="rotate(40 51.01 192.26)" fill-opacity="0.68"/><ellipse cx="53.29" cy="194.36" rx="2.3" ry="1.4" transform="rotate(40 53.29 194.36)" fill-opacity="0.94"/><ellipse cx="57.54" cy="197.21" rx="2.13" ry="1.4" transform="rotate(40 57.54 197.21)" fill-opacity="0.81"/><ellipse cx="61.08" cy="200.78" rx="2.49" ry="1.45" transform="rotate(40 61.08 200.78)" fill-opacity="0.64"/><ellipse cx="64.01" cy="204.12" rx="2.09" ry="1.43" transform="rotate(40 64.01 204.12)" fill-opacity="0.96"/><ellipse cx="68.77" cy="206.09" rx="2.08" ry="1.27" transform="rotate(40 68.77 206.09)" fill-opacity="0.65"/><ellipse cx="72.25" cy="209.47" rx="2.18" ry="1.27" transform="rotate(40 72.25 209.47)" fill-opacity="0.64"/><ellipse cx="75.47" cy="212.91" rx="2.23" ry="1.34" transform="rotate(40 75.47 212.91)" fill-opacity="0.72"/><ellipse cx="78.57" cy="215.73" rx="2.16" ry="1.37" transform="rotate(40 78.57 215.73)" fill-opacity="0.79"/><ellipse cx="81.95" cy="217.64" rx="2.21" ry="1.48" transform="rotate(40 81.95 217.64)" fill-opacity="0.58"/><ellipse cx="84.94" cy="221.05" rx="2.16" ry="1.24" transform="rotate(40 84.94 221.05)" fill-opacity="0.66"/><ellipse cx="89.76" cy="224.11" rx="2.05" ry="1.2" transform="rotate(40 89.76 224.11)" fill-opacity="0.58"/><ellipse cx="92.31" cy="227.62" rx="2.04" ry="1.26" transform="rotate(40 92.31 227.62)" fill-opacity="0.75"/><ellipse cx="95.95" cy="230.14" rx="2.24" ry="1.44" transform="rotate(40 95.95 230.14)" fill-opacity="0.61"/><ellipse cx="99.95" cy="233.91" rx="2.09" ry="1.5" transform="rotate(40 99.95 233.91)" fill-opacity="0.75"/><ellipse cx="103" cy="236.03" rx="2.34" ry="1.26" transform="rotate(40 103 236.03)" fill-opacity="0.71"/><ellipse cx="107.42" cy="239.1" rx="2.14" ry="1.29" transform="rotate(40 107.42 239.1)" fill-opacity="0.49"/><ellipse cx="111.07" cy="242.19" rx="2.04" ry="1.27" transform="rotate(40 111.07 242.19)" fill-opacity="0.67"/><ellipse cx="113.63" cy="244.56" rx="2.03" ry="1.32" transform="rotate(40 113.63 244.56)" fill-opacity="0.47"/><ellipse cx="117.25" cy="248.06" rx="2.01" ry="1.4" transform="rotate(40 117.25 248.06)" fill-opacity="0.52"/><ellipse cx="120.56" cy="250.19" rx="2.15" ry="1.23" transform="rotate(40 120.56 250.19)" fill-opacity="0.51"/><ellipse cx="26.65" cy="181.03" rx="2.11" ry="1.42" transform="rotate(40 26.65 181.03)" fill-opacity="0.79"/><ellipse cx="30.93" cy="183.01" rx="2.35" ry="1.42" transform="rotate(40 30.93 183.01)" fill-opacity="0.8"/><ellipse cx="33.26" cy="186.3" rx="2.05" ry="1.47" transform="rotate(40 33.26 186.3)" fill-opacity="0.9"/><ellipse cx="36.93" cy="189.2" rx="2.34" ry="1.23" transform="rotate(40 36.93 189.2)" fill-opacity="0.85"/><ellipse cx="40.95" cy="192.4" rx="2.47" ry="1.47" transform="rotate(40 40.95 192.4)" fill-opacity="1"/><ellipse cx="44.15" cy="194.79" rx="2.32" ry="1.38" transform="rotate(40 44.15 194.79)" fill-opacity="0.89"/><ellipse cx="47.34" cy="197.5" rx="2.37" ry="1.45" transform="rotate(40 47.34 197.5)" fill-opacity="0.78"/><ellipse cx="52.09" cy="201.75" rx="2.05" ry="1.49" transform="rotate(40 52.09 201.75)" fill-opacity="0.78"/><ellipse cx="55.5" cy="204.03" rx="2.38" ry="1.35" transform="rotate(40 55.5 204.03)" fill-opacity="0.94"/><ellipse cx="58.39" cy="207.25" rx="2.49" ry="1.26" transform="rotate(40 58.39 207.25)" fill-opacity="0.71"/><ellipse cx="62.88" cy="210.53" rx="2.41" ry="1.37" transform="rotate(40 62.88 210.53)" fill-opacity="0.93"/><ellipse cx="66.26" cy="212.21" rx="2.37" ry="1.35" transform="rotate(40 66.26 212.21)" fill-opacity="0.65"/><ellipse cx="70.03" cy="215.81" rx="2.33" ry="1.41" transform="rotate(40 70.03 215.81)" fill-opacity="0.83"/><ellipse cx="72.99" cy="218.16" rx="2.36" ry="1.44" transform="rotate(40 72.99 218.16)" fill-opacity="0.89"/><ellipse cx="75.82" cy="221.73" rx="2.27" ry="1.23" transform="rotate(40 75.82 221.73)" fill-opacity="0.81"/><ellipse cx="79.38" cy="224.32" rx="2.35" ry="1.47" transform="rotate(40 79.38 224.32)" fill-opacity="0.71"/><ellipse cx="82.58" cy="228.31" rx="2.37" ry="1.38" transform="rotate(40 82.58 228.31)" fill-opacity="0.76"/><ellipse cx="86.61" cy="230" rx="2.03" ry="1.4" transform="rotate(40 86.61 230)" fill-opacity="0.75"/><ellipse cx="90.66" cy="233.81" rx="2.48" ry="1.44" transform="rotate(40 90.66 233.81)" fill-opacity="0.78"/><ellipse cx="93.85" cy="235.82" rx="2.32" ry="1.46" transform="rotate(40 93.85 235.82)" fill-opacity="0.71"/><ellipse cx="97.22" cy="238.76" rx="2.31" ry="1.5" transform="rotate(40 97.22 238.76)" fill-opacity="0.75"/><ellipse cx="101.53" cy="242.94" rx="2.23" ry="1.47" transform="rotate(40 101.53 242.94)" fill-opacity="0.78"/><ellipse cx="103.7" cy="245.19" rx="2.5" ry="1.32" transform="rotate(40 103.7 245.19)" fill-opacity="0.6"/><ellipse cx="107.7" cy="248.25" rx="2.3" ry="1.33" transform="rotate(40 107.7 248.25)" fill-opacity="0.52"/><ellipse cx="111.28" cy="252.14" rx="2.27" ry="1.27" transform="rotate(40 111.28 252.14)" fill-opacity="0.53"/><ellipse cx="27.74" cy="190.27" rx="2.29" ry="1.22" transform="rotate(40 27.74 190.27)" fill-opacity="0.83"/><ellipse cx="32" cy="192.75" rx="2.4" ry="1.22" transform="rotate(40 32 192.75)" fill-opacity="0.77"/><ellipse cx="35.69" cy="195.66" rx="2.01" ry="1.41" transform="rotate(40 35.69 195.66)" fill-opacity="0.94"/><ellipse cx="38.99" cy="198.01" rx="2.35" ry="1.3" transform="rotate(40 38.99 198.01)" fill-opacity="1"/><ellipse cx="42.35" cy="201.44" rx="2.14" ry="1.29" transform="rotate(40 42.35 201.44)" fill-opacity="0.93"/><ellipse cx="45.51" cy="204.97" rx="2.1" ry="1.2" transform="rotate(40 45.51 204.97)" fill-opacity="0.86"/><ellipse cx="49.68" cy="208.27" rx="2.03" ry="1.25" transform="rotate(40 49.68 208.27)" fill-opacity="0.92"/><ellipse cx="53.53" cy="210.12" rx="2.11" ry="1.24" transform="rotate(40 53.53 210.12)" fill-opacity="0.77"/><ellipse cx="56.11" cy="214.13" rx="2.41" ry="1.36" transform="rotate(40 56.11 214.13)" fill-opacity="0.79"/><ellipse cx="60.45" cy="215.65" rx="2.12" ry="1.41" transform="rotate(40 60.45 215.65)" fill-opacity="0.9"/><ellipse cx="63.73" cy="218.91" rx="2.48" ry="1.47" transform="rotate(40 63.73 218.91)" fill-opacity="0.7"/><ellipse cx="66.96" cy="221.56" rx="2.46" ry="1.22" transform="rotate(40 66.96 221.56)" fill-opacity="0.76"/><ellipse cx="70.18" cy="224.57" rx="2.1" ry="1.33" transform="rotate(40 70.18 224.57)" fill-opacity="0.74"/><ellipse cx="74.2" cy="227.55" rx="2.03" ry="1.33" transform="rotate(40 74.2 227.55)" fill-opacity="0.78"/><ellipse cx="77.09" cy="231.66" rx="2.2" ry="1.44" transform="rotate(40 77.09 231.66)" fill-opacity="0.68"/><ellipse cx="81.33" cy="234.82" rx="2.11" ry="1.26" transform="rotate(40 81.33 234.82)" fill-opacity="0.8"/><ellipse cx="84.16" cy="237.15" rx="2.35" ry="1.32" transform="rotate(40 84.16 237.15)" fill-opacity="0.6"/><ellipse cx="88.6" cy="240.63" rx="2.49" ry="1.25" transform="rotate(40 88.6 240.63)" fill-opacity="0.68"/><ellipse cx="92.27" cy="242.51" rx="2.06" ry="1.23" transform="rotate(40 92.27 242.51)" fill-opacity="0.55"/><ellipse cx="95.26" cy="245.9" rx="2.32" ry="1.24" transform="rotate(40 95.26 245.9)" fill-opacity="0.57"/><ellipse cx="99.09" cy="249.41" rx="2.15" ry="1.24" transform="rotate(40 99.09 249.41)" fill-opacity="0.57"/><ellipse cx="101.38" cy="252.43" rx="2.4" ry="1.35" transform="rotate(40 101.38 252.43)" fill-opacity="0.71"/><ellipse cx="29.85" cy="199.23" rx="2.32" ry="1.21" transform="rotate(40 29.85 199.23)" fill-opacity="1"/><ellipse cx="33.54" cy="202.19" rx="2.02" ry="1.37" transform="rotate(40 33.54 202.19)" fill-opacity="0.88"/><ellipse cx="37.04" cy="204.54" rx="2.01" ry="1.21" transform="rotate(40 37.04 204.54)" fill-opacity="0.84"/><ellipse cx="40.47" cy="207.41" rx="2.29" ry="1.27" transform="rotate(40 40.47 207.41)" fill-opacity="0.75"/><ellipse cx="44.06" cy="211.31" rx="2.3" ry="1.29" transform="rotate(40 44.06 211.31)" fill-opacity="0.84"/><ellipse cx="46.54" cy="214.47" rx="2.45" ry="1.3" transform="rotate(40 46.54 214.47)" fill-opacity="0.98"/><ellipse cx="50.58" cy="216.44" rx="2.16" ry="1.23" transform="rotate(40 50.58 216.44)" fill-opacity="0.95"/><ellipse cx="53.33" cy="220.23" rx="2.38" ry="1.28" transform="rotate(40 53.33 220.23)" fill-opacity="0.75"/><ellipse cx="58.19" cy="223.27" rx="2.49" ry="1.38" transform="rotate(40 58.19 223.27)" fill-opacity="0.98"/><ellipse cx="61.22" cy="225.83" rx="2.19" ry="1.37" transform="rotate(40 61.22 225.83)" fill-opacity="0.78"/><ellipse cx="64.9" cy="228.22" rx="2.18" ry="1.33" transform="rotate(40 64.9 228.22)" fill-opacity="0.66"/><ellipse cx="68.14" cy="231.64" rx="2.28" ry="1.4" transform="rotate(40 68.14 231.64)" fill-opacity="0.85"/><ellipse cx="71.68" cy="234.15" rx="2.22" ry="1.47" transform="rotate(40 71.68 234.15)" fill-opacity="0.67"/><ellipse cx="74.78" cy="237.65" rx="2.23" ry="1.25" transform="rotate(40 74.78 237.65)" fill-opacity="0.79"/><ellipse cx="77.97" cy="240.05" rx="2.1" ry="1.26" transform="rotate(40 77.97 240.05)" fill-opacity="0.7"/><ellipse cx="82.39" cy="243.6" rx="2.24" ry="1.38" transform="rotate(40 82.39 243.6)" fill-opacity="0.79"/><ellipse cx="85.23" cy="246.77" rx="2.49" ry="1.38" transform="rotate(40 85.23 246.77)" fill-opacity="0.77"/><ellipse cx="89.64" cy="249.02" rx="2.22" ry="1.42" transform="rotate(40 89.64 249.02)" fill-opacity="0.68"/><ellipse cx="92.23" cy="253.04" rx="2.25" ry="1.5" transform="rotate(40 92.23 253.04)" fill-opacity="0.86"/><ellipse cx="27.03" cy="206.06" rx="2.32" ry="1.35" transform="rotate(40 27.03 206.06)" fill-opacity="0.83"/><ellipse cx="30.38" cy="208.3" rx="2.14" ry="1.39" transform="rotate(40 30.38 208.3)" fill-opacity="1"/><ellipse cx="34.47" cy="211.87" rx="2.49" ry="1.36" transform="rotate(40 34.47 211.87)" fill-opacity="0.87"/><ellipse cx="37.42" cy="214.64" rx="2.43" ry="1.28" transform="rotate(40 37.42 214.64)" fill-opacity="0.87"/><ellipse cx="40.95" cy="217.14" rx="2.26" ry="1.36" transform="rotate(40 40.95 217.14)" fill-opacity="0.98"/><ellipse cx="45.29" cy="220.64" rx="2.49" ry="1.2" transform="rotate(40 45.29 220.64)" fill-opacity="0.77"/><ellipse cx="47.34" cy="222.69" rx="2.42" ry="1.21" transform="rotate(40 47.34 222.69)" fill-opacity="0.92"/><ellipse cx="51.32" cy="226.16" rx="2.32" ry="1.46" transform="rotate(40 51.32 226.16)" fill-opacity="1"/><ellipse cx="55.8" cy="229.4" rx="2.19" ry="1.34" transform="rotate(40 55.8 229.4)" fill-opacity="0.78"/><ellipse cx="58.19" cy="232.07" rx="2.14" ry="1.38" transform="rotate(40 58.19 232.07)" fill-opacity="0.98"/><ellipse cx="62.2" cy="235.34" rx="2.34" ry="1.38" transform="rotate(40 62.2 235.34)" fill-opacity="0.75"/><ellipse cx="66.51" cy="237.73" rx="2.23" ry="1.35" transform="rotate(40 66.51 237.73)" fill-opacity="1"/><ellipse cx="68.6" cy="240.21" rx="2.27" ry="1.26" transform="rotate(40 68.6 240.21)" fill-opacity="0.68"/><ellipse cx="72.2" cy="244.2" rx="2.31" ry="1.33" transform="rotate(40 72.2 244.2)" fill-opacity="0.98"/><ellipse cx="76.61" cy="247.41" rx="2.12" ry="1.43" transform="rotate(40 76.61 247.41)" fill-opacity="0.88"/><ellipse cx="79.31" cy="249.92" rx="2.47" ry="1.33" transform="rotate(40 79.31 249.92)" fill-opacity="0.71"/><ellipse cx="84.05" cy="252.71" rx="2.25" ry="1.32" transform="rotate(40 84.05 252.71)" fill-opacity="0.84"/><ellipse cx="28.67" cy="214.86" rx="2.49" ry="1.45" transform="rotate(40 28.67 214.86)" fill-opacity="1"/><ellipse cx="31.95" cy="217.85" rx="2.05" ry="1.4" transform="rotate(40 31.95 217.85)" fill-opacity="0.9"/><ellipse cx="35.34" cy="220.61" rx="2.15" ry="1.41" transform="rotate(40 35.34 220.61)" fill-opacity="0.88"/><ellipse cx="38.41" cy="223.38" rx="2.21" ry="1.39" transform="rotate(40 38.41 223.38)" fill-opacity="0.95"/><ellipse cx="42.65" cy="227.13" rx="2.49" ry="1.33" transform="rotate(40 42.65 227.13)" fill-opacity="1"/><ellipse cx="45.99" cy="229.3" rx="2.21" ry="1.37" transform="rotate(40 45.99 229.3)" fill-opacity="1"/><ellipse cx="49.05" cy="231.77" rx="2.24" ry="1.49" transform="rotate(40 49.05 231.77)" fill-opacity="0.83"/><ellipse cx="53.26" cy="235.16" rx="2.44" ry="1.22" transform="rotate(40 53.26 235.16)" fill-opacity="0.72"/><ellipse cx="56.83" cy="239" rx="2.25" ry="1.23" transform="rotate(40 56.83 239)" fill-opacity="0.77"/><ellipse cx="59.83" cy="241.93" rx="2.33" ry="1.24" transform="rotate(40 59.83 241.93)" fill-opacity="0.8"/><ellipse cx="63.5" cy="244.72" rx="2.47" ry="1.42" transform="rotate(40 63.5 244.72)" fill-opacity="0.83"/><ellipse cx="67.48" cy="246.82" rx="2.28" ry="1.38" transform="rotate(40 67.48 246.82)" fill-opacity="0.76"/><ellipse cx="70.7" cy="249.57" rx="2.23" ry="1.26" transform="rotate(40 70.7 249.57)" fill-opacity="0.98"/><ellipse cx="28.99" cy="224.88" rx="2.12" ry="1.36" transform="rotate(40 28.99 224.88)" fill-opacity="0.96"/><ellipse cx="33.53" cy="226.43" rx="2.36" ry="1.35" transform="rotate(40 33.53 226.43)" fill-opacity="0.93"/><ellipse cx="36.62" cy="229.41" rx="2.09" ry="1.29" transform="rotate(40 36.62 229.41)" fill-opacity="0.8"/><ellipse cx="39.11" cy="233.06" rx="2.08" ry="1.23" transform="rotate(40 39.11 233.06)" fill-opacity="1"/><ellipse cx="42.72" cy="235.4" rx="2.15" ry="1.44" transform="rotate(40 42.72 235.4)" fill-opacity="0.96"/><ellipse cx="46.95" cy="238.73" rx="2.41" ry="1.32" transform="rotate(40 46.95 238.73)" fill-opacity="0.75"/><ellipse cx="49.81" cy="241.78" rx="2.08" ry="1.22" transform="rotate(40 49.81 241.78)" fill-opacity="0.94"/><ellipse cx="54.67" cy="245.65" rx="2.37" ry="1.38" transform="rotate(40 54.67 245.65)" fill-opacity="0.92"/><ellipse cx="56.96" cy="248.03" rx="2.34" ry="1.21" transform="rotate(40 56.96 248.03)" fill-opacity="0.88"/><ellipse cx="60.98" cy="250.42" rx="2.26" ry="1.29" transform="rotate(40 60.98 250.42)" fill-opacity="0.98"/><ellipse cx="63.74" cy="253.01" rx="2.48" ry="1.46" transform="rotate(40 63.74 253.01)" fill-opacity="0.7"/><ellipse cx="27.33" cy="230.22" rx="2.37" ry="1.42" transform="rotate(40 27.33 230.22)" fill-opacity="0.85"/><ellipse cx="29.86" cy="233.88" rx="2.4" ry="1.39" transform="rotate(40 29.86 233.88)" fill-opacity="0.89"/><ellipse cx="33.31" cy="236.23" rx="2.06" ry="1.21" transform="rotate(40 33.31 236.23)" fill-opacity="1"/><ellipse cx="38.08" cy="239.61" rx="2.04" ry="1.45" transform="rotate(40 38.08 239.61)" fill-opacity="0.88"/><ellipse cx="41.36" cy="241.89" rx="2" ry="1.25" transform="rotate(40 41.36 241.89)" fill-opacity="1"/><ellipse cx="44.02" cy="245.69" rx="2.13" ry="1.22" transform="rotate(40 44.02 245.69)" fill-opacity="1"/><ellipse cx="48.84" cy="248.92" rx="2.04" ry="1.42" transform="rotate(40 48.84 248.92)" fill-opacity="0.97"/><ellipse cx="52.14" cy="251.64" rx="2.49" ry="1.34" transform="rotate(40 52.14 251.64)" fill-opacity="0.93"/><ellipse cx="27.83" cy="239.15" rx="2.44" ry="1.29" transform="rotate(40 27.83 239.15)" fill-opacity="0.88"/><ellipse cx="32.08" cy="242.75" rx="2.04" ry="1.34" transform="rotate(40 32.08 242.75)" fill-opacity="1"/><ellipse cx="34.4" cy="246.45" rx="2.34" ry="1.22" transform="rotate(40 34.4 246.45)" fill-opacity="0.95"/><ellipse cx="39.4" cy="249.4" rx="2.05" ry="1.43" transform="rotate(40 39.4 249.4)" fill-opacity="1"/><ellipse cx="42.66" cy="251.91" rx="2.09" ry="1.24" transform="rotate(40 42.66 251.91)" fill-opacity="1"/><ellipse cx="29.26" cy="248.78" rx="2.44" ry="1.35" transform="rotate(40 29.26 248.78)" fill-opacity="1"/><ellipse cx="32.58" cy="252.57" rx="2.18" ry="1.42" transform="rotate(40 32.58 252.57)" fill-opacity="1"/></g>
<g fill="none" stroke="#e4e4e4" stroke-opacity="0.45" stroke-width="1.3"><path d="M80.09,62.08 L83.24,64.21 L86.03,67.45 L88.92,69.77 L92.01,71.99 L95.22,74.42 L98.28,77 L101.61,79.64 L104.52,82.48 L107.67,84.75 L110.8,87.99 L113.3,90.53 L116.91,92.55 L119.5,94.98 L123.03,98.04 L125.57,100.82 L128.72,102.93 L131.85,105.97 L134.81,108.57 L137.96,111 L141.06,113.29 L144.21,116.25 L147.28,118.13 L150.42,121.35 L153.32,123.62 L156.24,126.4 L159.76,128.93 L162.41,130.97 L165.43,133.87 L168.55,136.12 L171.95,138.91 L175.08,141.76 L177.77,144.32 L180.76,146.48 L184.23,149.27 L186.97,152.1 L189.9,154.78 L193.27,157.25 L196.14,159.65 L199.3,162.48 L202.26,164.51 L205.84,167.51 L208.4,169.68 L211.44,172.69 L214.95,174.8 L217.7,177.73 L221.08,180.52 L224.11,183.03 L226.7,185.05 L229.93,187.95 L232.85,190.44" stroke-dasharray="2.94 1.2 4.46 1.34 4.69 0.86 4.61 0.83 4.03 2.41 2.63 1.8" stroke-dashoffset="2.48"/><path d="M76.08,67.09 L78.86,69.63 L82.22,71.72 L85.16,74.79 L88.36,76.75 L91.2,79.6 L93.96,82.53 L97.41,85.02 L100.4,87.61 L103.27,89.64 L106.46,92.49 L109.53,95.16 L112.44,97.61 L115.62,100.51 L118.58,102.59 L121.99,105.22 L124.53,107.88 L127.64,110.9 L130.82,113.01 L133.86,115.69 L136.79,118.26 L140.06,120.97 L143.12,123.15 L146.23,125.91 L149.22,128.75 L152.59,131.01 L155.62,134.04 L158.54,136.22 L161.29,139.04 L164.43,141.4 L167.96,143.87 L171.05,146.46 L173.88,149.09 L176.61,151.71 L180.19,154.01 L182.93,156.83 L186.16,159.39 L189.23,162.1 L192.18,164.19 L195.3,166.92 L198.31,169.65 L201.26,172.61 L204.34,174.91 L207.55,177.1 L210.47,179.73 L213.76,182.6 L216.9,185.38 L219.78,188.04 L223.18,190.22 L226.05,192.88 L228.91,195.46" stroke-dasharray="4.79 1.55 2.8 2.07 3.44 1.26 4.73 1.18 1.76 1.71 4.69 2.25" stroke-dashoffset="4.9"/><path d="M71.61,71.74 L74.88,74.05 L77.85,77.13 L80.84,79.82 L83.75,82.05 L86.94,84.53 L89.81,87.42 L93.34,90.04 L96.08,92.2 L99.1,94.82 L102.2,97.45 L105.3,100.34 L108.2,102.57 L111.59,105.32 L114.47,107.42 L117.64,110.13 L120.61,112.62 L123.9,115.25 L126.98,118.07 L129.67,120.69 L132.87,123.36 L136.1,125.67 L139,128.08 L142,131.19 L144.98,133.11 L148.02,135.8 L151.59,138.67 L154.51,140.91 L157.41,143.76 L160.52,146.31 L163.53,149.08 L166.53,151.6 L169.53,153.99 L172.71,156.29 L176.13,159.12 L178.81,161.52 L181.7,164.14 L185.06,166.84 L187.82,169.17 L191.35,172.11 L194.34,174.46 L197.55,177.47 L200.42,179.78 L203.61,182.63 L206.76,185.02 L209.85,187.46 L212.75,190.35 L215.74,192.84 L219.07,194.95 L221.51,197.62 L225.19,200.11" stroke-dasharray="2.77 1.7 2.84 1.32 3.16 1.6 2.14 1.68 3.52 1.78 4.09 1.57" stroke-dashoffset="1.28"/><path d="M67.28,76.34 L70.76,79.15 L73.75,81.56 L76.53,84.2 L79.8,87.01 L83.13,89.44 L86.19,92.1 L88.87,94.91 L91.8,96.91 L95.17,99.91 L98.29,102.69 L101.28,105.2 L104.62,107.41 L107.28,110.32 L110.47,112.91 L113.36,115.14 L116.46,117.79 L119.91,120.65 L122.5,123.22 L125.96,125.7 L129.15,128.06 L132.04,130.64 L135.06,133.24 L138.09,135.97 L141.01,138.18 L144.37,140.72 L147.35,143.43 L150.3,146.26 L153.06,148.45 L156.56,151.22 L159.81,153.88 L162.86,156.42 L165.57,158.82 L168.37,161.34 L172.06,163.76 L174.98,166.81 L177.73,169.09 L180.7,171.51 L184.18,174.4 L187.05,177.14 L190.26,179.79 L193.12,182.2 L196.22,184.41 L199.29,187.54 L202.7,189.64 L205.58,192.15 L208.35,195.02 L211.82,197.64 L214.41,199.72 L218.02,202.7 L220.53,205.23" stroke-dasharray="3.27 1.49 3.48 2.35 3.59 2.07 3.13 2.3 4.19 1.66 2.56 1.31" stroke-dashoffset="5.87"/><path d="M63.36,81.21 L66.51,84.06 L69.52,86.52 L72.39,89.24 L75.5,91.64 L78.53,94.43 L81.81,96.92 L84.62,99.59 L87.95,102 L91.06,104.5 L94.13,107.07 L97.43,109.72 L100.53,112.52 L103.55,115.28 L106.47,117.36 L109.39,119.95 L112.34,122.53 L115.28,124.9 L118.89,128.11 L121.55,130.21 L124.65,132.86 L127.8,135.36 L130.84,138.22 L133.71,140.49 L136.95,143.3 L139.82,145.8 L142.89,148.72 L146.25,150.89 L148.95,153.59 L152.3,156.32 L155.31,158.69 L158.34,161.06 L161.59,163.44 L164.43,166.64 L167.49,169.32 L170.54,171.23 L173.88,174.43 L177.08,176.96 L179.7,178.97 L183.14,181.99 L185.92,184.03 L189.07,186.72 L191.92,189.56 L195.53,192.02 L198.59,194.98 L201.09,197.41 L204.73,200.15 L207.62,202.5 L210.37,205 L213.85,207.33 L216.52,209.81" stroke-dasharray="2.82 2.38 2.93 1.06 3.78 1.39 4.26 1.42 4.4 2.2 2.12 1.73" stroke-dashoffset="2.67"/><path d="M59.58,86.76 L62.51,89.1 L65.75,91.93 L68.22,94.3 L71.84,96.85 L74.68,99.28 L77.91,101.6 L80.57,104.52 L83.7,107.2 L86.98,109.62 L90.11,112.27 L93.09,114.94 L96.24,117.21 L99.44,119.51 L102.42,122.07 L105.35,124.92 L108.12,127.23 L111.12,129.84 L114.28,132.62 L117.72,135.38 L120.72,137.5 L123.93,140.57 L126.61,143.39 L129.98,145.79 L132.98,148.16 L136.09,150.65 L138.74,153.1 L142.12,156.18 L145.17,158.68 L148.18,160.89 L151.12,163.69 L154.41,166.53 L157.66,168.99 L160.32,171.45 L163.54,174.05 L166.88,176.56 L169.42,178.93 L172.56,181.73 L175.78,184.35 L178.85,186.43 L181.89,189.48 L185.19,191.83 L187.82,194.06 L190.87,196.89 L194.25,199.73 L197.18,201.98 L200.51,204.66 L203.11,207.67 L206.28,210.01 L209.37,212.75 L212.77,214.73" stroke-dasharray="4.45 0.83 3.33 1.48 4.71 1.86 2.29 0.91 3.15 1.74 3.14 1.79" stroke-dashoffset="0.37"/><path d="M55.32,91.6 L58.43,93.68 L61.56,96.82 L64.18,98.99 L67.59,101.53 L70.3,104.51 L73.32,107.05 L76.56,109.05 L79.46,111.66 L82.65,114.38 L86.17,117.18 L89.09,119.93 L92.2,122.33 L95.1,124.42 L98.27,127.2 L101.01,130.12 L103.97,132.23 L107.5,134.96 L110.5,137.4 L113.28,139.82 L116.49,142.49 L119.69,145.18 L122.66,148.25 L125.55,150.43 L128.45,152.86 L132.03,155.73 L134.72,158.37 L137.96,160.94 L141.13,163.68 L143.93,166.14 L147.13,168.8 L150.24,171.4 L153.32,173.97 L156.46,176.21 L159.37,178.8 L162.25,181.6 L165.74,184.06 L168.59,186.41 L171.91,189.36 L174.42,191.79 L177.75,193.87 L180.97,196.63 L184.19,199.24 L187.07,201.84 L190.33,204.19 L192.82,207.09 L196.35,209.58 L199.33,212.18 L202.52,214.95 L205.09,217.43 L208.14,220.14" stroke-dasharray="3.38 1.69 3.92 1.42 1.77 1.57 4.36 1.95 1.64 2.2 1.66 1.68" stroke-dashoffset="1.06"/><path d="M51.24,96.04 L54.1,98.98 L56.99,101.4 L60.59,103.61 L63.64,106.25 L66.64,108.95 L69.72,111.94 L72.65,114.23 L75.44,116.57 L78.69,119.04 L81.76,122.29 L84.78,124.38 L87.8,127.1 L90.95,129.78 L93.88,132.54 L96.77,135.17 L99.94,137.53 L103.01,139.72 L106.46,142.79 L109.37,144.73 L112.24,147.39 L115.61,150.57 L118.72,153.06 L121.74,155.61 L124.73,158 L127.6,160.69 L130.97,163.23 L134.06,165.47 L136.73,167.97 L140.03,170.52 L142.99,173.13 L146.19,176.32 L149.2,178.53 L152.53,180.91 L155.55,183.76 L158.58,185.99 L161.65,188.99 L164.39,191.22 L167.67,193.78 L170.59,196.58 L173.92,198.83 L176.66,201.5 L179.7,203.99 L183.13,206.48 L185.71,209.41 L189.31,211.84 L191.98,214.31 L194.92,216.71 L198.18,219.72 L201.46,222.61 L204.29,224.52" stroke-dasharray="4.14 0.85 3.89 2.22 3.74 0.84 1.72 2.21 4.46 1.26 4.75 2.18" stroke-dashoffset="0.64"/><path d="M46.75,100.78 L50.18,103.5 L53.31,106.29 L56.48,109.22 L59.44,111.58 L62.42,114.33 L65.35,116.58 L68.28,119.2 L71.54,121.47 L74.38,124.39 L77.66,127.24 L80.73,129.62 L83.99,131.9 L86.75,134.39 L89.58,137.52 L92.87,139.89 L96.17,142.5 L98.86,144.83 L102.11,147.55 L105.38,149.66 L108.49,152.59 L111.26,155.42 L114.56,157.46 L117.53,160.03 L120.69,162.85 L123.48,165.13 L126.88,167.98 L129.72,170.32 L132.69,173.19 L135.56,176.06 L138.84,177.97 L141.97,180.68 L145.2,183.1 L147.99,186.12 L151.33,188.36 L153.93,191.18 L157.18,193.52 L160.09,196.45 L163.43,198.56 L166.54,201.06 L169.75,204.21 L172.88,206.34 L175.8,209.5 L178.97,211.65 L181.8,213.93 L184.85,216.52 L188.07,219.29 L190.7,221.95 L194.21,224.44 L197.27,226.88 L200.33,229.86" stroke-dasharray="2.73 1.19 1.63 2.14 2.54 1.26 4.47 2.45 3.43 0.92 4.43 2.1" stroke-dashoffset="0.1"/><path d="M43.02,106.31 L45.97,108.38 L48.7,110.98 L52.28,113.92 L54.83,116.5 L58.52,118.54 L61.45,121.61 L64.04,123.76 L67.29,126.76 L70.77,129.5 L73.65,131.67 L76.4,134.37 L79.57,136.57 L82.64,139.21 L85.58,142.26 L88.75,144.73 L91.61,147.44 L94.84,149.66 L98.35,152.72 L101.39,154.56 L104.11,157.85 L107.27,159.83 L110.61,162.36 L113.45,165.07 L116.57,168.05 L119.17,170.7 L122.75,173.05 L125.83,175.45 L128.68,177.9 L131.56,180.4 L134.62,183.39 L137.79,185.43 L141.18,188.57 L143.71,190.7 L146.96,193.67 L149.89,195.77 L153.39,198.28 L156.14,201.08 L159.2,203.5 L162.3,206.15 L165.49,208.97 L168.23,211.23 L171.4,213.7 L174.85,216.76 L177.98,219.45 L180.52,221.54 L183.7,224.44 L186.59,226.89 L190.05,229.76 L193.18,232.36 L196.18,234.54" stroke-dasharray="4.42 2.09 2.14 1.92 4.96 1.48 3.45 1.92 4.02 1.46 2.83 1.1" stroke-dashoffset="3.76"/><path d="M38.88,111.18 L42.13,113.73 L45.12,116.38 L47.76,118.56 L51.29,121.02 L54.28,124.18 L56.96,126.02 L60.54,129 L63.31,131.57 L66.13,134.36 L69.65,137.03 L72.5,139.22 L75.77,141.61 L78.81,144.21 L81.64,146.77 L84.88,149.23 L88.08,152.41 L90.9,154.63 L94.16,157.61 L97.3,160.03 L100.35,162.22 L103.13,164.92 L106.05,167.58 L109.12,169.76 L112.44,172.49 L115.39,175.17 L118.69,177.52 L121.79,180.04 L124.47,183.3 L127.57,185.29 L130.63,188.09 L133.9,190.9 L136.98,193.08 L140.18,195.61 L142.68,198.36 L145.87,200.94 L149.23,203.41 L152.14,205.94 L155.2,208.3 L158.35,210.94 L161.35,213.83 L164.14,216.66 L167.21,218.9 L170.66,221.78 L173.84,223.99 L176.94,226.9 L179.57,229.56 L182.99,232.06 L185.73,234.41 L188.95,237.18 L192,239.86" stroke-dasharray="4.74 1.42 3.39 1.53 4.65 2.25 2.9 1.43 2.61 1.93 3.83 1.86" stroke-dashoffset="3.13"/><path d="M34.55,115.48 L37.74,118.58 L40.64,121.24 L44.03,123.9 L46.61,126.24 L49.77,128.48 L53.24,131.07 L56.09,134.16 L59.27,136.76 L62.02,138.65 L65.6,141.95 L68.36,144.36 L71.2,146.56 L74.8,149.56 L77.28,151.78 L80.52,154.05 L83.4,157.08 L86.44,159.71 L89.9,161.89 L92.87,164.99 L95.92,167.31 L99.19,169.58 L102.24,172.27 L105.15,175.33 L108.34,177.36 L111.11,180.47 L114.5,182.55 L117.45,184.94 L120.72,187.89 L123.68,190.22 L126.39,192.98 L129.61,195.68 L132.56,198.46 L135.47,200.41 L138.69,202.91 L142.15,205.66 L145.21,208.15 L148.2,211.23 L150.91,213.56 L154.13,216.32 L157.17,218.38 L160.32,221.05 L163.37,224.21 L166.61,226.28 L169.43,229.11 L172.67,231.48 L175.61,234.46 L178.96,237 L181.7,239.59 L184.87,241.96 L188.17,244.2" stroke-dasharray="3.77 1.36 3.31 2.47 3.46 1.94 3.47 1.23 4.95 1.45 1.58 1.52" stroke-dashoffset="2.49"/><path d="M30.73,120.71 L33.88,123.67 L36.66,125.74 L39.71,128.55 L42.87,131.28 L45.89,133.94 L48.76,136.34 L52.21,138.92 L54.75,141.57 L58.41,143.74 L61.51,146.6 L64,149.19 L67.21,151.65 L70.23,154.22 L73.25,156.49 L76.53,159.43 L79.85,161.95 L82.37,164.16 L85.55,167.21 L88.51,169.97 L91.74,172.26 L94.91,174.71 L97.89,177.2 L100.83,179.93 L104.13,182.48 L107.01,185.3 L110.01,187.77 L113.44,189.8 L116.58,192.44 L119.4,195 L122.49,198.09 L125.57,200.75 L128.69,203.03 L131.81,205.33 L134.68,207.89 L138.02,210.59 L140.71,213.69 L144.1,215.7 L146.68,218.53 L149.86,221.42 L153.01,223.41 L155.87,226.48 L159.56,229.11 L162.21,231.12 L165.38,233.74 L168.26,236.39 L171.76,239.33 L174.67,241.36 L177.5,243.89 L180.62,246.71 L184,249.67" stroke-dasharray="3.93 0.89 4.65 1.9 4.38 2.11 2.1 1.33 2.1 2.18 4.82 1.77" stroke-dashoffset="4"/><path d="M26.12,125.68 L29.53,128.07 L32.25,130.52 L35.82,133.65 L38.99,135.72 L41.73,138.32 L44.89,140.73 L47.77,143.34 L51.08,145.93 L53.88,148.59 L57.04,151.02 L60.09,153.83 L62.94,156.28 L66.4,159.37 L69.61,161.65 L72.4,164.07 L75.67,166.8 L78.82,169 L81.72,171.85 L84.81,174.68 L87.77,177.17 L90.72,179.82 L93.56,182.28 L96.78,184.84 L100.24,187.63 L103.02,189.59 L105.94,192.52 L108.88,195.02 L112.25,197.96 L115.02,200.43 L118.39,202.75 L121.27,205.67 L124.51,208.1 L127.51,210.55 L130.8,212.92 L133.83,216.03 L137.05,218.01 L140,221.04 L142.76,223.22 L146.19,226.07 L148.84,228.62 L151.92,231.16 L155.43,233.88 L157.95,235.97 L161.33,239.17 L164.01,241.61 L167.16,243.67 L170.21,246.76 L173.7,249.4 L176.37,251.97 L179.38,253.91" stroke-dasharray="2.09 2.17 2.11 1.39 4.26 2.21 2.9 1.5 3.94 2.49 3.7 1.39" stroke-dashoffset="1.44"/><path d="M22.52,130.65 L25.24,132.93 L28.29,135.79 L31.46,138.3 L34.63,140.48 L37.61,143.55 L40.45,146.36 L43.67,148.31 L46.6,151.07 L49.6,154.05 L53.22,155.94 L56.31,158.98 L59.09,161.52 L62.26,164.06 L65.48,166.34 L68.13,168.93 L71.59,171.82 L74.1,174.61 L77.23,177.01 L80.85,179.16 L83.55,182.01 L86.45,184.2 L89.65,186.8 L92.63,189.39 L95.87,192.48 L98.61,195.07 L101.8,197.26 L104.96,200.02 L108.12,202.63 L111.21,205.04 L114.07,207.81 L117,210.6 L120.18,212.55 L123.43,215.41 L126.31,218.3 L129.76,220.18 L132.39,223.49 L135.79,225.78 L138.83,228.18 L141.73,230.99 L144.63,233.31 L147.95,235.95 L150.7,238.57 L153.81,241.49 L157.44,243.91 L160.45,246.27 L163.18,248.52 L166.28,251.56 L169.49,254.01 L172.53,256.29 L175.68,259.46" stroke-dasharray="3.73 1.72 4.32 2.22 4.15 1.48 3.39 1.35 1.73 2.37 1.78 1.43" stroke-dashoffset="5.11"/><path d="M18.32,135.79 L21.57,137.77 L24.36,140.72 L27.21,143.49 L30.25,145.51 L33.21,147.98 L36.61,150.78 L39.96,153.24 L42.4,156.4 L45.88,158.99 L48.69,160.82 L51.84,163.53 L55.12,166.49 L58.22,168.78 L61.42,171.33 L64.29,173.74 L67.49,176.54 L70.56,179.51 L73.51,181.65 L76.7,184.56 L79.69,186.57 L82.63,189.78 L85.35,192.01 L88.63,194.28 L91.48,197.37 L94.97,200.01 L98.09,202.31 L101.07,204.94 L104.16,207.5 L107.22,209.66 L110.38,212.83 L113.23,215.19 L116.15,217.56 L119.52,220.25 L122.22,223.07 L125.47,225.54 L128.67,228.37 L131.49,230.84 L134.73,233.23 L137.57,235.77 L140.6,238.14 L143.65,240.75 L146.89,243.19 L150.02,246.33 L153.33,248.36 L156.06,251.29 L159.03,253.89 L162.08,256.39 L165.51,258.92 L168.49,261.08 L171.41,264.39" stroke-dasharray="3.13 2.09 3.68 0.86 3.42 2.48 3.79 1.31 4.67 1.94 4.76 2.24" stroke-dashoffset="3.5"/><path d="M14.11,140.4 L17.27,143.21 L20.46,145.89 L23.38,148.04 L26.28,150.51 L29.34,152.89 L32.24,155.5 L35.3,158.65 L38.42,161.13 L41.87,163.57 L45.01,166.27 L47.61,168.43 L50.9,170.91 L53.82,173.95 L57.27,176.46 L59.81,178.69 L62.85,181.34 L66.49,183.76 L69.08,186.42 L72.08,189.18 L75.64,192.04 L78.55,194.08 L81.82,196.79 L84.59,199.51 L87.58,201.76 L91.01,204.95 L93.81,207.39 L96.57,209.87 L99.73,212.15 L103.14,214.95 L105.7,217.87 L109.25,220.18 L112.28,222.54 L115.35,225.6 L118.35,227.76 L121.6,230.63 L124.67,233.19 L127.63,235.3 L130.82,237.96 L133.3,240.54 L136.76,243.41 L139.89,245.99 L142.48,248.63 L146.14,251.15 L148.73,253.73 L151.93,255.77 L154.93,258.71 L158.11,261.42 L161.37,263.69 L164.15,266.66 L166.98,269.23" stroke-dasharray="2.42 1.52 3.34 1.58 1.78 1.42 4.76 1.44 4.58 2.32 3.3 2.36" stroke-dashoffset="5.86"/><path d="M10.29,145.34 L12.75,147.7 L16.19,150.15 L18.92,153.04 L22.17,155.63 L25.04,158.14 L28.33,160.66 L31.53,163.63 L34.39,165.84 L37.82,168.52 L40.91,170.96 L43.87,173.48 L46.92,175.92 L49.85,178.41 L53.03,181.44 L56.19,184.11 L59.06,186.19 L61.89,188.89 L65.22,191.17 L68.4,194.46 L71.26,196.65 L74.26,198.95 L77.61,202.12 L80.37,204.27 L83.28,206.82 L86.61,209.77 L89.42,211.96 L92.4,214.47 L95.92,217.28 L98.8,219.87 L101.92,222.62 L105.12,224.93 L107.92,227.85 L111.25,230.01 L114.18,232.52 L117.21,235.6 L120.46,238.09 L123.1,240.4 L126.51,242.69 L129.45,245.81 L132.62,247.93 L135.39,250.43 L138.63,253.47 L141.73,255.68 L144.74,258.28 L147.75,261.2 L150.73,263.76 L154.23,265.94 L156.95,268.79 L159.87,271.22 L163.47,273.51" stroke-dasharray="1.67 1.71 2.63 0.86 4.68 0.91 2.72 2.12 3.89 1.17 4.87 1.56" stroke-dashoffset="4.94"/><path d="M5.91,150.29 L8.63,152.41 L11.95,155.39 L14.75,157.97 L18.27,160.19 L21.15,162.78 L24.34,165.96 L27.51,167.95 L30.27,170.75 L33.18,173.19 L36.34,175.82 L39.25,178.78 L42.83,180.93 L45.71,183.58 L48.7,186.32 L52.05,188.86 L54.68,191.25 L58.1,193.7 L60.95,196.17 L64.27,198.88 L67.02,201.79 L70.18,203.9 L73.37,206.41 L76.02,209.28 L79.18,211.69 L82.61,214.18 L85.6,217.17 L88.56,219.46 L91.9,222 L94.55,224.49 L97.47,227.57 L101.06,229.5 L103.71,232.1 L106.87,235.03 L110.1,237.66 L113.42,240.36 L115.95,242.39 L119.38,245.57 L122.49,247.61 L125.17,250.83 L128.11,252.79 L131.73,255.22 L134.8,258.03 L137.32,260.93 L140.89,263.23 L143.72,265.62 L147.1,268.21 L150.01,270.67 L152.64,273.96 L156.02,276.11 L159.04,278.99" stroke-dasharray="2.94 2.36 4.85 1.27 3.52 2.43 2.56 2.49 3.25 1.94 1.83 1.47" stroke-dashoffset="3.94"/><path d="M1.94,155.44 L4.88,157.7 L7.7,160.08 L10.81,162.97 L13.83,165.23 L17.17,168 L20.17,170.49 L23.15,173.28 L26.49,175.43 L29.56,178.24 L32.58,181.12 L35.64,183.32 L38.35,185.77 L41.85,188.3 L44.51,190.96 L47.42,193.38 L50.9,196.21 L53.94,198.63 L57.16,201.37 L59.81,203.83 L62.72,206.6 L66.18,208.97 L69.3,211.34 L72.24,214.24 L75.1,216.47 L78.65,219.67 L81.51,222.1 L84.24,224.33 L87.75,227.29 L90.74,229.65 L93.99,232.28 L96.77,234.56 L100,237.68 L102.61,239.78 L106.05,242.38 L109.09,244.98 L111.76,247.27 L115.21,250.25 L118.11,252.66 L121.11,255.3 L124.54,258.24 L127.57,260.65 L130.17,262.82 L133.34,265.85 L136.67,268.53 L139.87,270.8 L142.39,273.37 L145.52,275.85 L148.73,278.48 L151.76,281.25 L154.82,283.84" stroke-dasharray="2.25 1.91 4.28 2.07 2.12 1.73 1.55 2.45 3.77 1.22 3.61 1.33" stroke-dashoffset="3.34"/><path d="M-2.55,160.26 L0.39,162.68 L3.74,165.14 L7.05,167.34 L9.64,170.63 L12.74,172.6 L15.94,175.18 L19.2,178.2 L21.87,180.18 L25.03,183.28 L28.15,185.42 L31.44,188.45 L34.59,190.58 L37.48,193.16 L40.68,195.72 L43.78,198.25 L46.72,201 L49.96,203.45 L52.85,205.94 L55.98,208.49 L58.76,211.12 L62,213.7 L64.93,216.91 L67.98,218.8 L71.37,221.43 L73.99,223.94 L77.13,227.04 L80.15,229.35 L83.48,231.86 L86.4,234.53 L89.43,237.07 L92.4,239.76 L95.83,242.2 L98.92,245.15 L102.11,247.33 L104.92,250.05 L108.2,252.68 L111.24,254.95 L114.19,257.36 L116.82,259.92 L119.94,262.97 L122.99,265.47 L126.3,267.93 L129.36,270.41 L132.67,273.18 L135.33,276.05 L138.32,278.34 L141.84,280.87 L144.93,283.67 L147.61,285.87 L150.96,288.84" stroke-dasharray="3.03 0.93 3.84 1.52 1.91 2.26 2.23 1.12 3.35 1.22 2.67 1.57" stroke-dashoffset="5.58"/><path d="M-6.54,164.83 L-3.63,167.78 L-0.62,169.66 L2.52,172.81 L5.64,175.34 L8.74,177.52 L11.63,180.54 L15.14,182.91 L18.23,185.25 L21.02,187.75 L24.48,190.69 L27.15,193.48 L30.59,195.59 L33.6,198.63 L36.22,200.62 L39.5,203.6 L42.47,206.01 L45.58,208.37 L48.96,210.9 L51.73,213.46 L54.56,216.15 L58.18,218.99 L60.83,221.64 L64.03,224.34 L66.95,226.93 L69.93,228.99 L73.23,231.51 L76.17,234.22 L79.34,236.78 L82.59,239.52 L85.3,241.91 L88.75,244.68 L91.49,247.2 L94.43,250.07 L97.53,252.38 L100.48,254.92 L103.82,257.22 L107.01,259.91 L110.11,262.42 L113.23,264.86 L116.05,267.68 L118.96,270.48 L121.94,273.19 L125.53,275.57 L128.07,277.7 L131.64,280.22 L134.68,283.5 L137.29,285.46 L140.92,288 L143.43,290.74 L146.68,293.34" stroke-dasharray="2.97 1.88 4.79 0.91 2.97 2.01 4.25 1.87 2.48 0.85 2.3 1.75" stroke-dashoffset="5.37"/><path d="M-10.65,169.86 L-7.46,172.55 L-4.77,174.91 L-1.49,177.53 L1.82,180.38 L5,182.58 L7.52,185.27 L10.93,187.56 L14,190.55 L16.87,193.02 L19.76,195.4 L23.25,198.16 L25.9,200.8 L29.01,203.47 L32.61,205.89 L35.53,208.49 L38.25,211.16 L41.7,213.4 L44.78,216.32 L47.49,218.69 L50.66,221.39 L53.78,223.54 L56.53,226.56 L59.88,228.97 L63.13,231.29 L66.3,234.19 L68.87,236.46 L72.33,239.16 L75.34,241.98 L78.43,244.17 L81.39,247.2 L84.26,249.2 L87.69,251.72 L90.41,254.75 L93.8,257.04 L96.43,259.43 L99.57,262.6 L102.68,264.78 L105.69,267.82 L108.87,270.16 L111.91,272.96 L114.73,275.33 L118.11,277.49 L121.17,280.29 L124.11,282.91 L127.46,285.26 L130.2,288.12 L133.25,290.4 L136.52,292.91 L139.76,295.66 L142.76,298.69" stroke-dasharray="1.87 1.67 1.82 2.31 1.86 2.26 2.6 1.41 1.84 1.86 1.75 1.94" stroke-dashoffset="3.2"/><path d="M-14.56,174.81 L-11.78,176.93 L-8.85,180.12 L-5.71,182.73 L-2.35,184.69 L0.66,187.87 L3.56,189.82 L6.58,192.93 L9.83,195.37 L12.63,197.77 L15.75,200.46 L18.81,203.24 L22.29,205.31 L25.07,208 L28.32,210.3 L31.29,213.64 L34.38,215.61 L37.46,218.48 L40.75,220.72 L43.5,223.44 L46.45,225.83 L49.92,229 L52.54,231.37 L55.7,233.59 L59.06,236.36 L61.78,238.94 L64.96,241.22 L67.74,243.91 L71.16,246.92 L73.87,249.15 L77.25,252.09 L80.29,254.1 L83.53,256.84 L86.73,259.2 L89.22,262.37 L92.33,264.53 L95.7,267.59 L98.95,269.77 L101.82,272.58 L104.68,275.34 L107.56,277.62 L110.65,280.18 L114.18,282.69 L117.2,285.56 L119.92,287.52 L123.08,290.5 L126.07,292.69 L129.26,295.24 L132.42,298 L135.53,300.61 L138.49,302.95" stroke-dasharray="3.35 0.93 3.95 0.86 3.19 0.81 4.24 2.4 4.11 1.57 3.12 2.08" stroke-dashoffset="0.46"/><path d="M-18.73,179.58 L-15.55,182.13 L-12.6,184.46 L-9.69,187.26 L-6.32,189.91 L-3.32,192.5 L-0.32,195.19 L2.56,197.21 L5.8,200.36 L8.86,202.94 L11.59,205.63 L14.72,207.82 L17.96,210.13 L21.14,212.84 L23.88,215.81 L27.06,218.36 L30.25,220.84 L33.36,222.93 L36.32,226.16 L39.4,228.75 L42.53,230.83 L45.74,233.53 L48.71,235.86 L51.77,239.08 L54.54,241.24 L57.95,243.87 L60.95,246.54 L64.05,249.11 L66.8,251.42 L70.22,254.21 L73.06,257.02 L75.97,259.27 L79.24,262.09 L82.25,264.15 L85.44,266.72 L88.31,269.8 L91.4,271.81 L94.61,274.36 L97.5,277.49 L100.87,280.03 L104.03,282.17 L106.53,284.79 L109.78,287.92 L112.77,290.12 L116.05,292.65 L119.29,295.51 L122.12,298.07 L125.21,300.24 L128.41,302.72 L131.18,305.58 L134.46,308.52" stroke-dasharray="2.78 1.4 2.28 1.27 2.37 1.67 2.97 1.6 4.42 1.4 3.62 1.67" stroke-dashoffset="5.68"/><path d="M-23,184.83 L-19.78,186.83 L-16.62,189.88 L-13.5,192.05 L-10.9,194.45 L-7.75,197.27 L-4.37,200.27 L-1.72,202.27 L1.81,205.11 L4.92,207.98 L7.82,210.07 L11.06,212.77 L13.8,215.06 L16.77,217.93 L19.76,220.81 L22.79,223.02 L26.19,225.74 L29.21,228.17 L32.38,230.51 L35.54,233.45 L38.08,236.29 L41.56,238.26 L44.74,240.76 L47.33,243.52 L50.69,245.97 L53.54,248.54 L56.44,250.98 L59.52,253.85 L62.9,256.49 L66.09,259.38 L68.98,261.67 L71.81,264.33 L74.9,266.48 L78.31,269.12 L81.24,271.73 L84.05,274.26 L87.45,276.99 L90.56,279.79 L93.51,282.43 L96.66,285.03 L99.42,287.27 L102.41,290.24 L105.94,292.52 L108.59,294.85 L111.65,297.48 L114.75,300.1 L117.73,303.06 L121.16,304.97 L124.07,307.96 L127.34,310.8 L130.33,313.08" stroke-dasharray="2.29 2.04 3.37 1.05 4.79 1.27 1.98 2.03 2.97 2.17 2.99 1.74" stroke-dashoffset="4.31"/><path d="M-27.29,189.14 L-23.74,191.96 L-20.7,194.77 L-17.75,197 L-14.53,199.51 L-11.64,202.08 L-8.48,204.66 L-5.74,207.11 L-2.54,210.08 L0.84,212.78 L3.43,214.92 L6.94,217.35 L9.48,219.9 L12.72,222.89 L15.75,225.36 L18.94,227.94 L21.81,230.23 L25.19,233.1 L28.16,235.77 L31.24,238.61 L34.42,241.15 L37.61,243.63 L40.62,245.8 L43.47,248.85 L46.73,251.11 L49.37,253.67 L52.48,256.63 L55.49,258.63 L58.86,261.43 L61.65,264.33 L64.65,266.75 L67.87,269.27 L70.77,271.91 L74.28,274.04 L77.19,277.17 L80.32,279.63 L83.39,282.12 L86.09,284.91 L89.34,287.18 L92.67,289.94 L95.7,291.96 L98.35,294.83 L101.67,297.15 L104.44,300.1 L107.54,302.45 L110.85,305.11 L114.16,307.3 L116.91,310.13 L119.81,313.02 L122.99,315.44 L126.33,318.02" stroke-dasharray="3.83 1.24 3.13 0.92 3.86 1.54 2.26 2.01 4.29 1.17 1.53 1.79" stroke-dashoffset="5.71"/><path d="M-30.9,194.53 L-28.17,197.03 L-24.72,199.36 L-21.68,202.36 L-19.22,204.75 L-15.9,207.37 L-12.54,210.1 L-9.64,212.25 L-6.34,214.55 L-3.86,217.21 L-0.52,220.19 L2.39,222.54 L5.48,225.41 L8.86,227.64 L11.69,230.45 L14.76,232.51 L18.03,235.33 L20.69,238.1 L24.14,240.63 L27.19,243.51 L29.99,246.02 L33.25,248.01 L36.06,250.62 L39.09,253.64 L42.14,256.07 L45.35,258.22 L48.65,260.86 L51.85,263.75 L54.91,266.29 L57.92,268.63 L60.57,271.81 L63.74,274.1 L67.1,276.52 L69.7,278.82 L73.1,281.52 L76.26,284.02 L79,286.74 L81.9,289.3 L85.14,291.9 L88.17,294.24 L91.09,296.95 L94.31,299.58 L97.84,302.32 L100.84,305.08 L103.84,307.09 L106.7,310.07 L109.7,312.74 L113.14,315.46 L115.72,317.91 L119.3,320.13 L122.23,323.15" stroke-dasharray="2.44 1.47 2.23 2.04 1.92 1.59 4.14 1.42 2.29 1.67 2.16 2.04" stroke-dashoffset="4.88"/><path d="M-35.11,198.86 L-32.13,201.4 L-29.37,204.69 L-26.14,206.94 L-23.08,209.38 L-19.98,212.15 L-17.12,214.48 L-13.6,217.16 L-10.47,219.63 L-7.71,222.62 L-4.69,225.29 L-1.75,227.86 L1.25,229.93 L4.76,232.78 L7.47,235.13 L10.48,237.88 L13.54,239.96 L16.6,243.2 L20.05,245.75 L23.09,248.32 L25.79,250.88 L29.33,252.97 L32.1,255.57 L35.28,258.69 L38,260.65 L41.54,263.7 L44.35,265.68 L47.16,268.38 L50.79,271.49 L53.37,273.46 L56.6,276.68 L59.39,279.22 L62.56,281.82 L65.91,284.21 L68.68,286.87 L71.91,289.46 L74.87,292.09 L77.84,294.62 L81.36,296.79 L84.23,299.1 L87.43,302.34 L90.05,304.61 L93.41,306.9 L96.46,310.1 L99.67,312.46 L102.41,314.87 L105.72,317.64 L108.95,319.93 L111.98,322.29 L115.03,325.45 L117.77,327.69" stroke-dasharray="1.9 1.67 2.5 1.87 4.5 1.41 2.64 2.21 4.5 1.98 2.67 2.37" stroke-dashoffset="0.38"/><path d="M-39.71,204.28 L-36.05,206.43 L-33.45,209.58 L-29.94,211.91 L-27.36,214.52 L-24.35,217.25 L-20.8,219.22 L-18.19,221.91 L-15.12,225.03 L-11.74,227.45 L-8.56,229.83 L-5.44,232.49 L-2.39,234.9 L0.75,237.9 L3.43,239.98 L6.75,242.89 L9.64,245.3 L12.99,247.71 L15.79,250.65 L19.02,252.61 L21.87,255.31 L25.25,257.8 L28.03,260.62 L31.24,263.4 L34.44,265.66 L37.22,268.19 L39.98,270.83 L43.37,273.87 L46.39,275.9 L49.49,279.05 L52.32,281.1 L55.87,284.14 L58.79,286.06 L61.78,289.16 L64.87,291.76 L67.57,294.23 L70.67,296.74 L74.25,299.38 L77.2,302.05 L79.86,304.36 L83.04,306.61 L86.19,309.65 L89.04,311.77 L92.56,314.87 L95.36,317.2 L98.19,319.48 L101.32,322.08 L104.79,325.07 L107.98,327.73 L110.88,330.32 L113.75,332.48" stroke-dasharray="4.27 2.36 4.27 0.96 3.05 0.91 3.07 1.28 3.35 2.28 4.11 2.15" stroke-dashoffset="0.34"/><path d="M-43.5,208.95 L-40.59,211.88 L-37.06,214.43 L-34.2,216.37 L-31.33,219.32 L-28.48,222.1 L-25.1,224.65 L-22.31,227.02 L-18.87,229.7 L-16.15,232.31 L-12.94,234.46 L-9.95,237.37 L-6.88,239.83 L-3.37,242.25 L-0.67,244.74 L2.57,247.51 L5.75,249.98 L8.62,253.04 L11.51,254.99 L14.78,258.1 L18.1,260.59 L20.7,262.81 L24.22,265.43 L27.08,268.27 L30.31,270.46 L32.96,272.94 L36.1,275.76 L39.33,278.36 L42.39,281.23 L45.09,283.63 L48.3,286.41 L51.74,288.69 L54.85,291.48 L57.36,293.58 L60.73,296.52 L63.72,298.66 L66.86,301.45 L69.8,304.44 L73.2,306.74 L76.02,309.2 L79.26,311.82 L82.37,314.56 L85.32,317.28 L88.42,319.35 L91.52,322.31 L94.16,324.99 L97.44,327.39 L100.6,329.88 L103.82,332.71 L106.69,334.98 L109.96,337.58" stroke-dasharray="2.19 2.47 1.76 1.4 1.77 1.14 3.26 0.92 3.72 1.82 4.18 1.38" stroke-dashoffset="3.81"/><path d="M-47.51,214.06 L-44.87,216.24 L-41.61,219.28 L-38.26,221.28 L-35.37,224.21 L-32.37,226.97 L-29.13,229.57 L-26.31,231.72 L-22.93,234.45 L-20.27,237.34 L-17,239.65 L-13.91,242.39 L-10.54,244.93 L-7.79,247.39 L-4.95,249.61 L-1.66,252.83 L1.57,255.14 L4.62,257.83 L7.45,259.92 L10.83,262.65 L13.7,265.56 L16.44,267.95 L20.06,270.45 L22.57,272.73 L25.96,275.44 L28.89,277.97 L32.34,280.52 L35.1,283.27 L37.96,285.68 L41.15,288.8 L44.61,291.04 L47.56,293.53 L50.59,296.39 L53.66,299.13 L56.75,301.17 L59.54,303.62 L62.9,306.35 L65.65,309.29 L68.76,311.45 L71.84,314.56 L75.03,316.46 L78.31,319.29 L80.79,322.24 L84.02,324.27 L87.28,326.82 L90.31,329.82 L93.63,332.2 L96.58,334.85 L99.28,337.53 L102.62,340.2 L105.9,342.31" stroke-dasharray="2.02 1.96 3.19 1.82 1.7 0.98 4.12 1.9 4.72 1.54 3.59 1.53" stroke-dashoffset="5.26"/><path d="M-51.6,218.81 L-48.85,221.29 L-45.56,223.65 L-42.84,226.53 L-39.46,228.84 L-36.35,231.56 L-33.15,234.14 L-30.19,236.92 L-26.95,239.76 L-24.38,241.58 L-21.06,244.71 L-17.73,247.4 L-15.26,249.34 L-11.78,252.6 L-8.7,254.99 L-5.96,257 L-2.69,259.82 L0.15,262.2 L3.31,264.73 L6.42,267.65 L9.28,270.61 L12.41,272.96 L15.76,275.45 L18.79,278.14 L21.5,280.64 L25.1,283.13 L27.92,285.97 L31.11,288.16 L33.94,290.89 L37.13,293.46 L40.37,295.64 L43.3,298.54 L46.17,301.01 L49.49,304.01 L52.19,306.01 L55.29,308.68 L58.87,311.6 L61.62,314.28 L64.75,316.17 L67.84,319.24 L71.01,321.78 L74.07,324.36 L77.28,326.96 L80.22,329.29 L82.79,331.64 L86.43,334.88 L89.02,337.14 L92.27,339.63 L95.26,342.47 L98.65,344.69 L101.47,347.11" stroke-dasharray="1.88 1.89 4.94 2.18 2.61 1.37 4.96 2.2 3.59 0.94 1.96 2.07" stroke-dashoffset="2.21"/></g>
<g fill="#ffffff"><circle cx="152.1" cy="156.84" r="0.82" fill-opacity="0.66"/><circle cx="155.53" cy="158.48" r="0.9" fill-opacity="0.64"/><circle cx="158.67" cy="161.6" r="0.95" fill-opacity="0.68"/><circle cx="143.18" cy="157.02" r="0.89" fill-opacity="0.35"/><circle cx="136.44" cy="159.45" r="0.91" fill-opacity="0.43"/><circle cx="147.01" cy="168.26" r="1.09" fill-opacity="0.34"/><circle cx="154.39" cy="174.27" r="1.05" fill-opacity="0.58"/><circle cx="124.07" cy="157" r="0.8" fill-opacity="0.51"/><circle cx="146" cy="175.06" r="0.72" fill-opacity="0.77"/><circle cx="156.25" cy="184.35" r="1.13" fill-opacity="0.56"/><circle cx="111.98" cy="155.18" r="0.77" fill-opacity="0.35"/><circle cx="117.66" cy="160.56" r="1.16" fill-opacity="0.51"/><circle cx="121.86" cy="164.19" r="0.91" fill-opacity="0.31"/><circle cx="149.45" cy="188.25" r="1.15" fill-opacity="0.8"/><circle cx="156.67" cy="193.64" r="0.72" fill-opacity="0.39"/><circle cx="111.8" cy="164.89" r="0.82" fill-opacity="0.45"/><circle cx="127.17" cy="175.76" r="1.14" fill-opacity="0.8"/><circle cx="129.58" cy="179.41" r="1.06" fill-opacity="0.46"/><circle cx="137.02" cy="184.44" r="0.79" fill-opacity="0.42"/><circle cx="147.02" cy="194.76" r="1" fill-opacity="0.44"/><circle cx="150.81" cy="197.43" r="0.84" fill-opacity="0.57"/><circle cx="100.3" cy="161.36" r="1.15" fill-opacity="0.37"/><circle cx="106.99" cy="168.22" r="0.93" fill-opacity="0.77"/><circle cx="120.21" cy="179.43" r="0.81" fill-opacity="0.53"/><circle cx="123.88" cy="182.54" r="0.89" fill-opacity="0.34"/><circle cx="128.02" cy="185.36" r="0.9" fill-opacity="0.76"/><circle cx="137.61" cy="195.07" r="0.9" fill-opacity="0.42"/><circle cx="152.96" cy="205.84" r="0.71" fill-opacity="0.62"/><circle cx="93.34" cy="165.13" r="1.04" fill-opacity="0.42"/><circle cx="100.77" cy="171.47" r="0.87" fill-opacity="0.74"/><circle cx="107.19" cy="177.38" r="1.07" fill-opacity="0.57"/><circle cx="110.84" cy="179.74" r="0.73" fill-opacity="0.33"/><circle cx="122.31" cy="188.84" r="0.87" fill-opacity="0.68"/><circle cx="129.41" cy="195.4" r="0.79" fill-opacity="0.31"/><circle cx="138.84" cy="203.06" r="0.87" fill-opacity="0.31"/><circle cx="150.33" cy="212.74" r="1.17" fill-opacity="0.43"/><circle cx="153.53" cy="215.01" r="1.01" fill-opacity="0.44"/><circle cx="156.64" cy="218.55" r="1.15" fill-opacity="0.45"/><circle cx="74.39" cy="156.79" r="0.99" fill-opacity="0.41"/><circle cx="80.49" cy="162.51" r="1.07" fill-opacity="0.41"/><circle cx="84.63" cy="165.9" r="0.88" fill-opacity="0.52"/><circle cx="94.7" cy="175.43" r="0.84" fill-opacity="0.64"/><circle cx="99.06" cy="177.36" r="1.02" fill-opacity="0.49"/><circle cx="116.65" cy="191.88" r="1.07" fill-opacity="0.79"/><circle cx="119.33" cy="195.98" r="1.12" fill-opacity="0.62"/><circle cx="123.71" cy="198.87" r="1.14" fill-opacity="0.66"/><circle cx="126.13" cy="201.79" r="0.84" fill-opacity="0.62"/><circle cx="134.15" cy="207.65" r="0.88" fill-opacity="0.35"/><circle cx="136.36" cy="209.93" r="0.89" fill-opacity="0.72"/><circle cx="144.75" cy="216.45" r="0.87" fill-opacity="0.46"/><circle cx="147.88" cy="218.69" r="1.05" fill-opacity="0.53"/><circle cx="150.6" cy="221.39" r="1.2" fill-opacity="0.65"/><circle cx="95.39" cy="184.14" r="1.09" fill-opacity="0.42"/><circle cx="106.41" cy="193.08" r="0.78" fill-opacity="0.71"/><circle cx="110.46" cy="196.2" r="0.85" fill-opacity="0.78"/><circle cx="113.83" cy="199.37" r="0.76" fill-opacity="0.76"/><circle cx="120.66" cy="205.37" r="0.88" fill-opacity="0.51"/><circle cx="127" cy="210.69" r="0.89" fill-opacity="0.46"/><circle cx="141.82" cy="222.87" r="1.1" fill-opacity="0.51"/><circle cx="156.11" cy="233.53" r="1.07" fill-opacity="0.51"/><circle cx="57.77" cy="161.23" r="0.78" fill-opacity="0.47"/><circle cx="65.58" cy="166.72" r="0.83" fill-opacity="0.67"/><circle cx="78.8" cy="178.9" r="1.18" fill-opacity="0.68"/><circle cx="94" cy="190.03" r="0.85" fill-opacity="0.43"/><circle cx="104.58" cy="199.34" r="0.73" fill-opacity="0.77"/><circle cx="114.15" cy="208.86" r="0.98" fill-opacity="0.36"/><circle cx="119.08" cy="210.8" r="0.71" fill-opacity="0.59"/><circle cx="122.6" cy="214.36" r="0.96" fill-opacity="0.39"/><circle cx="139.59" cy="229.15" r="0.96" fill-opacity="0.78"/><circle cx="142.22" cy="231.19" r="1.11" fill-opacity="0.64"/><circle cx="146.52" cy="234.89" r="1.1" fill-opacity="0.79"/><circle cx="48.96" cy="161.82" r="1.16" fill-opacity="0.37"/><circle cx="60.18" cy="170.54" r="0.84" fill-opacity="0.77"/><circle cx="62.41" cy="172.63" r="0.76" fill-opacity="0.56"/><circle cx="66.68" cy="176.2" r="0.81" fill-opacity="0.34"/><circle cx="69.84" cy="179.47" r="0.98" fill-opacity="0.45"/><circle cx="79.99" cy="187.38" r="0.81" fill-opacity="0.7"/><circle cx="84.23" cy="191.12" r="0.72" fill-opacity="0.43"/><circle cx="91.9" cy="196.92" r="1.16" fill-opacity="0.42"/><circle cx="97.99" cy="202.18" r="1.17" fill-opacity="0.44"/><circle cx="113.18" cy="214.18" r="1.11" fill-opacity="0.7"/><circle cx="119.46" cy="220.42" r="0.8" fill-opacity="0.41"/><circle cx="126.86" cy="226.86" r="0.82" fill-opacity="0.76"/><circle cx="147.48" cy="243.87" r="1.03" fill-opacity="0.69"/><circle cx="155.01" cy="250.72" r="1.18" fill-opacity="0.61"/><circle cx="32.41" cy="155.71" r="0.92" fill-opacity="0.64"/><circle cx="36.49" cy="158.91" r="0.97" fill-opacity="0.8"/><circle cx="57.51" cy="176.75" r="0.94" fill-opacity="0.31"/><circle cx="64.24" cy="182.62" r="0.81" fill-opacity="0.73"/><circle cx="71.65" cy="188.31" r="1.01" fill-opacity="0.51"/><circle cx="88.68" cy="203.51" r="1.01" fill-opacity="0.41"/><circle cx="110.7" cy="221.18" r="1" fill-opacity="0.53"/><circle cx="123.61" cy="232.44" r="0.76" fill-opacity="0.34"/><circle cx="128.16" cy="236.08" r="1.11" fill-opacity="0.73"/><circle cx="130.75" cy="238.98" r="0.94" fill-opacity="0.46"/><circle cx="134.65" cy="242.11" r="0.81" fill-opacity="0.61"/><circle cx="142.45" cy="247.81" r="1.14" fill-opacity="0.74"/><circle cx="148.14" cy="253.98" r="0.88" fill-opacity="0.79"/><circle cx="51.36" cy="179.68" r="1.2" fill-opacity="0.31"/><circle cx="62.55" cy="189.13" r="0.99" fill-opacity="0.62"/><circle cx="68.69" cy="195.5" r="1.11" fill-opacity="0.66"/><circle cx="72.9" cy="197.02" r="0.71" fill-opacity="0.38"/><circle cx="75.97" cy="201.42" r="1.02" fill-opacity="0.61"/><circle cx="80.23" cy="202.91" r="1.06" fill-opacity="0.39"/><circle cx="92.92" cy="215.45" r="1.19" fill-opacity="0.49"/><circle cx="114.11" cy="232.48" r="0.76" fill-opacity="0.44"/><circle cx="117.8" cy="235.54" r="0.97" fill-opacity="0.49"/><circle cx="121.26" cy="239.23" r="1.01" fill-opacity="0.4"/><circle cx="27.94" cy="168.37" r="0.84" fill-opacity="0.8"/><circle cx="35.46" cy="175.24" r="1.07" fill-opacity="0.53"/><circle cx="49.51" cy="186.66" r="1.02" fill-opacity="0.31"/><circle cx="52.08" cy="188.57" r="1" fill-opacity="0.71"/><circle cx="77.98" cy="209.3" r="0.77" fill-opacity="0.51"/><circle cx="83.77" cy="215.15" r="1.15" fill-opacity="0.67"/><circle cx="87.05" cy="219.17" r="1.17" fill-opacity="0.47"/><circle cx="112.16" cy="239.46" r="0.75" fill-opacity="0.38"/><circle cx="116.46" cy="242.54" r="1.19" fill-opacity="0.6"/><circle cx="130.32" cy="254.92" r="0.75" fill-opacity="0.7"/><circle cx="31.89" cy="181.01" r="1.2" fill-opacity="0.59"/><circle cx="43.42" cy="189.9" r="0.72" fill-opacity="0.38"/><circle cx="47.37" cy="192.44" r="1.09" fill-opacity="0.47"/><circle cx="57.24" cy="201.14" r="0.77" fill-opacity="0.4"/><circle cx="78.28" cy="219.66" r="0.72" fill-opacity="0.49"/><circle cx="92.02" cy="231.55" r="1.08" fill-opacity="0.67"/><circle cx="95.66" cy="234.07" r="1.11" fill-opacity="0.76"/><circle cx="99.66" cy="237.83" r="1.1" fill-opacity="0.36"/><circle cx="116.95" cy="251.99" r="0.95" fill-opacity="0.49"/><circle cx="120.27" cy="254.12" r="0.94" fill-opacity="0.31"/><circle cx="30.63" cy="186.94" r="1.17" fill-opacity="0.56"/><circle cx="36.64" cy="193.13" r="0.91" fill-opacity="0.54"/><circle cx="43.85" cy="198.72" r="1.2" fill-opacity="0.46"/><circle cx="47.04" cy="201.43" r="0.82" fill-opacity="0.42"/><circle cx="55.2" cy="207.96" r="0.96" fill-opacity="0.63"/><circle cx="58.1" cy="211.18" r="1.18" fill-opacity="0.78"/><circle cx="62.58" cy="214.46" r="1.07" fill-opacity="0.72"/><circle cx="75.53" cy="225.66" r="0.9" fill-opacity="0.42"/><circle cx="103.41" cy="249.12" r="1.05" fill-opacity="0.35"/><circle cx="110.98" cy="256.07" r="0.85" fill-opacity="0.75"/><circle cx="27.44" cy="194.2" r="1.17" fill-opacity="0.36"/><circle cx="35.4" cy="199.59" r="0.96" fill-opacity="0.76"/><circle cx="49.38" cy="212.19" r="1.01" fill-opacity="0.61"/><circle cx="53.23" cy="214.05" r="0.95" fill-opacity="0.51"/><circle cx="55.82" cy="218.06" r="0.71" fill-opacity="0.6"/><circle cx="66.67" cy="225.49" r="0.72" fill-opacity="0.74"/><circle cx="76.79" cy="235.59" r="0.98" fill-opacity="0.57"/><circle cx="83.87" cy="241.08" r="0.76" fill-opacity="0.77"/><circle cx="94.96" cy="249.82" r="1" fill-opacity="0.62"/><circle cx="29.55" cy="203.16" r="0.92" fill-opacity="0.72"/><circle cx="50.28" cy="220.37" r="1.01" fill-opacity="0.42"/><circle cx="60.92" cy="229.76" r="1.02" fill-opacity="0.73"/><circle cx="77.68" cy="243.98" r="0.96" fill-opacity="0.39"/><circle cx="82.1" cy="247.53" r="0.93" fill-opacity="0.64"/><circle cx="26.73" cy="209.99" r="0.78" fill-opacity="0.42"/><circle cx="34.18" cy="215.8" r="0.83" fill-opacity="0.66"/><circle cx="45" cy="224.57" r="1.11" fill-opacity="0.44"/><circle cx="47.05" cy="226.62" r="0.71" fill-opacity="0.33"/><circle cx="55.51" cy="233.33" r="1.16" fill-opacity="0.54"/><circle cx="57.89" cy="236" r="0.82" fill-opacity="0.39"/><circle cx="66.21" cy="241.66" r="0.74" fill-opacity="0.62"/><circle cx="68.31" cy="244.14" r="1.08" fill-opacity="0.52"/><circle cx="76.32" cy="251.34" r="0.76" fill-opacity="0.55"/><circle cx="83.75" cy="256.64" r="1.03" fill-opacity="0.76"/><circle cx="31.66" cy="221.78" r="1.01" fill-opacity="0.57"/><circle cx="48.76" cy="235.7" r="1.15" fill-opacity="0.79"/><circle cx="52.96" cy="239.08" r="1.17" fill-opacity="0.64"/><circle cx="59.54" cy="245.86" r="0.73" fill-opacity="0.59"/><circle cx="36.33" cy="233.34" r="0.84" fill-opacity="0.36"/><circle cx="56.67" cy="251.96" r="0.76" fill-opacity="0.68"/><circle cx="41.07" cy="245.82" r="1.18" fill-opacity="0.32"/><circle cx="27.53" cy="243.08" r="1.19" fill-opacity="0.49"/><circle cx="34.11" cy="250.38" r="0.74" fill-opacity="0.69"/><circle cx="42.37" cy="255.84" r="0.92" fill-opacity="0.44"/></g>
</g>
<defs><radialGradient id="rgd"><stop offset="0" stop-color="#a0a0a0" stop-opacity="0.28"/><stop offset="1" stop-color="#a0a0a0" stop-opacity="0"/></radialGradient></defs>
<ellipse cx="100" cy="172" rx="45" ry="25" fill="url(#rgd)"/><ellipse cx="140" cy="215" rx="30" ry="35" fill="url(#rgd)"/>
</g>
<text x="40.2" y="238.8" font-family='"Liberation Sans", sans-serif' font-size="6.3" font-weight="bold" text-anchor="middle" fill="#fff" stroke="#fff" stroke-width="0.17" dominant-baseline="central">20 nm</text>
<rect x="32.3" y="243.5" width="14.7" height="2.5" fill="#fff" stroke="none" stroke-width="1"/>
<text x="157" y="157.8" font-family='"Liberation Serif", serif' font-size="13" font-weight="bold" text-anchor="start" fill="#111">(e)</text>
<defs><clipPath id="clipe"><rect x="180.3" y="156" width="119.5" height="94"/></clipPath><clipPath id="clipg"><path d="M196.2,188.4 L206.8,158.5 L217,158 L230,160 L240,161 L256.2,171 L268.6,157.2 L281,158.5 L289.8,171 L285,190 L283.6,210 L283,237 L275,244 L221,244 L213.3,230.4 L204,217.3 L198.4,204.3 L195.5,196 Z"/></clipPath><filter id="noise" x="0" y="0" width="100%" height="100%"><feTurbulence type="fractalNoise" baseFrequency="0.65" numOctaves="3" seed="3"/><feColorMatrix type="matrix" values="0 0 0 0 1  0 0 0 0 1  0 0 0 0 1  3.0 0 0 0 -1.4" /></filter><filter id="noise2" x="0" y="0" width="100%" height="100%"><feTurbulence type="fractalNoise" baseFrequency="0.6" numOctaves="3" seed="8"/><feColorMatrix type="matrix" values="0 0 0 0 0  0 0 0 0 0  0 0 0 0 0  3.0 0 0 0 -1.4" /></filter><filter id="be"><feGaussianBlur stdDeviation="0.6"/></filter></defs>
<g clip-path="url(#clipe)">
<rect x="180.3" y="156" width="119.5" height="94" fill="#868686" stroke="none" stroke-width="1"/>
<g filter="url(#be)">
<path d="M185,156 L300,156 L300,158 L281,158.5 L268.6,157.2 L256.2,171 L240,162 L230,161 L217,160 L207,160.5 L198.7,160 L192.5,164 L186,161 Z" fill="#343434" stroke="none" stroke-width="1.2" stroke-linejoin="round" stroke-linecap="round"/>
<path d="M281,158.5 L300,158 L300,172 L289.8,171 Z" fill="#6a6a6a" stroke="none" stroke-width="1.2" stroke-linejoin="round" stroke-linecap="round"/>
<rect x="180" y="160" width="3.5" height="40" fill="#5e5e5e" stroke="none" stroke-width="1"/>
<path d="M180,176 L182.5,173.4 L192.5,163.5 L198.7,159 L206.8,158.5 L196.2,188.4 L195.5,196 L198.4,204.3 L204,217.3 L213.3,230.4 L221,244 L180,244 Z" fill="#7e7e7e" stroke="none" stroke-width="1.2" stroke-linejoin="round" stroke-linecap="round"/>
<path d="M180.5,196 C181.47,196.13 184.72,195.42 186.3,196.8 C187.88,198.18 188.6,201.35 190,204.3 C191.4,207.25 193.77,211.4 194.7,214.5 C195.63,217.6 196.07,220.25 195.6,222.9 C195.13,225.55 192.83,228.22 191.9,230.4 C190.97,232.58 190.78,235.23 190,236 C189.22,236.77 187.98,235.93 187.2,235 C186.42,234.07 186.23,231.63 185.3,230.4 C184.37,229.17 182.48,228.17 181.6,227.6 C180.72,227.03 180.27,227.1 180,227 L178,227 L178,196 Z" fill="#262626" stroke="none" stroke-width="1.2" stroke-linejoin="round" stroke-linecap="round"/>
<path d="M180,230 L185,233.6 L190,236 L190,244 L180,244 Z" fill="#6a6a6a" stroke="none" stroke-width="1.2" stroke-linejoin="round" stroke-linecap="round"/>
<path d="M284,205 L300,200 L300,240 L283,238 Z" fill="#6c6c6c" stroke="none" stroke-width="1.2" stroke-linejoin="round" stroke-linecap="round"/>
<path d="M289.8,171 L300,172 L300,190 L286,188 Z" fill="#959595" stroke="none" stroke-width="1.2" stroke-linejoin="round" stroke-linecap="round"/>
<path d="M196.2,188.4 L206.8,158.5 L217,158 L230,160 L240,161 L256.2,171 L268.6,157.2 L281,158.5 L289.8,171 L285,190 L283.6,210 L283,237 L275,244 L221,244 L213.3,230.4 L204,217.3 L198.4,204.3 L195.5,196 Z" fill="#adadad" stroke="none" stroke-width="1.2" stroke-linejoin="round" stroke-linecap="round"/>
<path d="M213,244 L240,236 L260,244 Z" fill="#bcbcbc" stroke="none" stroke-width="1.2" stroke-linejoin="round" stroke-linecap="round"/>
<path d="M235,214 L255.7,211.5 L276.4,216.7 L283,230 L275,244 L240,244 L230,232 Z" fill="#8c8c8c" stroke="none" stroke-width="1.2" stroke-linejoin="round" stroke-linecap="round" opacity="0.75"/>
<path d="M216.8,186.9 L225.9,190.8 L233.7,203.8 L240.1,214.1 L237.5,219.3 L229.8,211.5 L220.7,198.6 Z" fill="#7a7a7a" stroke="none" stroke-width="1.2" stroke-linejoin="round" stroke-linecap="round" opacity="0.7"/>
<path d="M262,168 L281,158.5 L289.8,171 L286,185 L270,180 Z" fill="#c4c4c4" stroke="none" stroke-width="1.2" stroke-linejoin="round" stroke-linecap="round" opacity="0.6"/>
<path d="M200,175 L210,160 L235,162 L250,172 L240,190 L215,192 Z" fill="#c8c8c8" stroke="none" stroke-width="1.2" stroke-linejoin="round" stroke-linecap="round" opacity="0.55"/>
</g>
<path d="M180,176 L182.5,173.4 L192.5,163.5 L198.7,159 L206.8,158.5 L196.2,188.4 L195.5,196 L180,196 Z" fill="#8e8e8e" stroke="none" stroke-width="1.2" stroke-linejoin="round" stroke-linecap="round" opacity="0.8"/>
<path d="M183,190 C182.92,187.23 180.92,177.82 182.5,173.4 C184.08,168.98 189.8,165.9 192.5,163.5 C195.2,161.1 196.32,159.83 198.7,159 C201.08,158.17 205.45,158.58 206.8,158.5" fill="none" stroke="#c0c0c0" stroke-width="0.9" stroke-linejoin="round" stroke-linecap="round"/>
<rect x="180.3" y="156" width="119.5" height="94" fill="#fff" stroke="none" stroke-width="1" filter="url(#noise)" opacity="0.12"/>
<rect x="180.3" y="156" width="119.5" height="94" fill="#000" stroke="none" stroke-width="1" filter="url(#noise2)" opacity="0.12"/>
<g clip-path="url(#clipg)">
<defs><linearGradient id="gpe" x1="0" y1="0" x2="1" y2="1"><stop offset="0" stop-color="#fff" stop-opacity="0.25"/><stop offset="0.5" stop-color="#fff" stop-opacity="0.02"/><stop offset="1" stop-color="#000" stop-opacity="0.2"/></linearGradient></defs>
<rect x="180.3" y="156" width="119.5" height="94" fill="url(#gpe)" stroke="none" stroke-width="1"/>
<rect x="180.3" y="156" width="119.5" height="94" fill="#fff" stroke="none" stroke-width="1" filter="url(#noise)" opacity="0.35"/>
<rect x="180.3" y="156" width="119.5" height="94" fill="#000" stroke="none" stroke-width="1" filter="url(#noise2)" opacity="0.32"/>
</g>
<path d="M238,217 C239.33,217.67 243.58,220 246,221 C248.42,222 250.5,222.33 252.5,223 C254.5,223.67 257.08,224.67 258,225" fill="none" stroke="#505050" stroke-width="1.8" stroke-linejoin="round" stroke-linecap="round"/>
<ellipse cx="261" cy="232.5" rx="3" ry="2.2" fill="#222"/>
<path d="M199,175 C199.83,176.33 202.33,180.5 204,183 C205.67,185.5 207.33,186.83 209,190 C210.67,193.17 213.17,200 214,202" fill="none" stroke="#7a7a7a" stroke-width="1.0" stroke-linejoin="round" stroke-linecap="round"/>
</g>
<rect x="180.3" y="244" width="119.5" height="6" fill="#0a0a0a" stroke="none" stroke-width="1"/>
<text x="184" y="247" font-family='"Liberation Sans", sans-serif' font-size="2.6" font-weight="normal" text-anchor="start" fill="#ddd" stroke="#ddd" stroke-width="0.07" dominant-baseline="central">S4800 10.0kV 12.3mm x15.0k SE(M)</text>
<text x="287" y="247" font-family='"Liberation Sans", sans-serif' font-size="2.6" font-weight="normal" text-anchor="middle" fill="#ddd" stroke="#ddd" stroke-width="0.07" dominant-baseline="central">3.00μm</text>
<text x="307" y="162.05" font-family='"Liberation Serif", serif' font-size="13" font-weight="bold" text-anchor="start" fill="#111">(f)</text>
<line x1="338.12" y1="242.4" x2="338.12" y2="241.1" stroke="#888" stroke-width="0.6"/>
<line x1="343.75" y1="242.4" x2="343.75" y2="241.1" stroke="#888" stroke-width="0.6"/>
<line x1="349.38" y1="242.4" x2="349.38" y2="241.1" stroke="#888" stroke-width="0.6"/>
<line x1="355" y1="242.4" x2="355" y2="241.1" stroke="#888" stroke-width="0.6"/>
<line x1="360.62" y1="242.4" x2="360.62" y2="241.1" stroke="#888" stroke-width="0.6"/>
<line x1="366.25" y1="242.4" x2="366.25" y2="241.1" stroke="#888" stroke-width="0.6"/>
<line x1="371.88" y1="242.4" x2="371.88" y2="241.1" stroke="#888" stroke-width="0.6"/>
<line x1="377.5" y1="242.4" x2="377.5" y2="241.1" stroke="#888" stroke-width="0.6"/>
<line x1="383.12" y1="242.4" x2="383.12" y2="241.1" stroke="#888" stroke-width="0.6"/>
<line x1="388.75" y1="242.4" x2="388.75" y2="241.1" stroke="#888" stroke-width="0.6"/>
<line x1="394.38" y1="242.4" x2="394.38" y2="241.1" stroke="#888" stroke-width="0.6"/>
<line x1="400" y1="242.4" x2="400" y2="241.1" stroke="#888" stroke-width="0.6"/>
<line x1="405.62" y1="242.4" x2="405.62" y2="241.1" stroke="#888" stroke-width="0.6"/>
<line x1="411.25" y1="242.4" x2="411.25" y2="241.1" stroke="#888" stroke-width="0.6"/>
<line x1="416.88" y1="242.4" x2="416.88" y2="241.1" stroke="#888" stroke-width="0.6"/>
<text x="332.5" y="249.4" font-family='"Liberation Sans", sans-serif' font-size="6.6" font-weight="normal" text-anchor="middle" fill="#3a3a3a" stroke="#3a3a3a" stroke-width="0.18" dominant-baseline="central">297</text>
<text x="355" y="249.4" font-family='"Liberation Sans", sans-serif' font-size="6.6" font-weight="normal" text-anchor="middle" fill="#3a3a3a" stroke="#3a3a3a" stroke-width="0.18" dominant-baseline="central">293</text>
<text x="377.5" y="249.4" font-family='"Liberation Sans", sans-serif' font-size="6.6" font-weight="normal" text-anchor="middle" fill="#3a3a3a" stroke="#3a3a3a" stroke-width="0.18" dominant-baseline="central">289</text>
<text x="400" y="249.4" font-family='"Liberation Sans", sans-serif' font-size="6.6" font-weight="normal" text-anchor="middle" fill="#3a3a3a" stroke="#3a3a3a" stroke-width="0.18" dominant-baseline="central">285</text>
<text x="422.5" y="249.4" font-family='"Liberation Sans", sans-serif' font-size="6.6" font-weight="normal" text-anchor="middle" fill="#3a3a3a" stroke="#3a3a3a" stroke-width="0.18" dominant-baseline="central">281</text>
<text x="377.8" y="262" font-family='"Liberation Sans", sans-serif' font-size="6.9" font-weight="bold" text-anchor="middle" fill="#222" stroke="#222" stroke-width="0.19" dominant-baseline="central">Binding Energy (eV)</text>
<text x="326.2" y="197.5" font-family='"Liberation Sans", sans-serif' font-size="7.3" font-weight="bold" text-anchor="middle" fill="#222" stroke="#222" stroke-width="0.2" dominant-baseline="central" transform="rotate(-90 326.2 197.5)">Intensity (a.u.)</text>
<text x="336.6" y="171" font-family='"Liberation Sans", sans-serif' font-size="6.3" font-weight="normal" text-anchor="start" fill="#555" stroke="#555" stroke-width="0.17" dominant-baseline="central">C1s</text>
<path d="M333,233.7 L333.5,233.72 L334,233.74 L334.5,233.76 L335,233.78 L335.5,233.81 L336,233.83 L336.5,233.85 L337,233.87 L337.5,233.89 L338,233.91 L338.5,233.93 L339,233.95 L339.5,233.98 L340,234 L340.5,234.02 L341,234.04 L341.5,234.06 L342,234.08 L342.5,234.1 L343,234.12 L343.5,234.14 L344,234.17 L344.5,234.19 L345,234.21 L345.5,234.23 L346,234.25 L346.5,234.27 L347,234.29 L347.5,234.31 L348,234.34 L348.5,234.36 L349,234.38 L349.5,234.4 L350,234.42 L350.5,234.44 L351,234.46 L351.5,234.48 L352,234.5 L352.5,234.53 L353,234.55 L353.5,234.57 L354,234.59 L354.5,234.61 L355,234.63 L355.5,234.65 L356,234.67 L356.5,234.7 L357,234.72 L357.5,234.74 L358,234.76 L358.5,234.78 L359,234.8 L359.5,234.82 L360,234.84 L360.5,234.86 L361,234.89 L361.5,234.91 L362,234.93 L362.5,234.95 L363,234.97 L363.5,234.99 L364,235.01 L364.5,235.03 L365,235.06 L365.5,235.08 L366,235.1 L366.5,235.12 L367,235.14 L367.5,235.16 L368,235.18 L368.5,235.2 L369,235.22 L369.5,235.25 L370,235.27 L370.5,235.29 L371,235.31 L371.5,235.33 L372,235.35 L372.5,235.37 L373,235.39 L373.5,235.42 L374,235.44 L374.5,235.46 L375,235.48 L375.5,235.5 L376,235.52 L376.5,235.54 L377,235.56 L377.5,235.58 L378,235.61 L378.5,235.63 L379,235.65 L379.5,235.67 L380,235.69 L380.5,235.71 L381,235.73 L381.5,235.75 L382,235.78 L382.5,235.8 L383,235.82 L383.5,235.84 L384,235.86 L384.5,235.88 L385,235.9 L385.5,235.92 L386,235.94 L386.5,235.97 L387,235.99 L387.5,236.01 L388,236.03 L388.5,236.05 L389,236.07 L389.5,236.09 L390,236.11 L390.5,236.14 L391,236.16 L391.5,236.18 L392,236.2 L392.5,236.22 L393,236.24 L393.5,236.26 L394,236.28 L394.5,236.3 L395,236.33 L395.5,236.35 L396,236.37 L396.5,236.39 L397,236.41 L397.5,236.43 L398,236.45 L398.5,236.47 L399,236.5 L399.5,236.52 L400,236.54 L400.5,236.56 L401,236.58 L401.5,236.6 L402,236.62 L402.5,236.64 L403,236.66 L403.5,236.69 L404,236.71 L404.5,236.73 L405,236.75 L405.5,236.77 L406,236.79 L406.5,236.81 L407,236.83 L407.5,236.86 L408,236.88 L408.5,236.9 L409,236.92 L409.5,236.94 L410,236.96 L410.5,236.98 L411,237 L411.5,237.02 L412,237.05 L412.5,237.07 L413,237.09 L413.5,237.11 L414,237.13 L414.5,237.15 L415,237.17 L415.5,237.19 L416,237.22 L416.5,237.24 L417,237.26 L417.5,237.28 L418,237.3" fill="none" stroke="#40b0b0" stroke-width="1.0" stroke-linejoin="round" stroke-linecap="round"/>
<path d="M368,235.17 L368.5,235.18 L369,235.19 L369.5,235.19 L370,235.18 L370.5,235.16 L371,235.12 L371.5,235.05 L372,234.94 L372.5,234.78 L373,234.55 L373.5,234.24 L374,233.8 L374.5,233.23 L375,232.48 L375.5,231.51 L376,230.3 L376.5,228.8 L377,226.97 L377.5,224.79 L378,222.22 L378.5,219.27 L379,215.93 L379.5,212.23 L380,208.2 L380.5,203.93 L381,199.48 L381.5,194.98 L382,190.54 L382.5,186.3 L383,182.41 L383.5,178.99 L384,176.19 L384.5,174.11 L385,172.84 L385.5,172.42 L386,172.88 L386.5,174.2 L387,176.32 L387.5,179.16 L388,182.62 L388.5,186.55 L389,190.83 L389.5,195.32 L390,199.86 L390.5,204.35 L391,208.67 L391.5,212.74 L392,216.48 L392.5,219.86 L393,222.86 L393.5,225.46 L394,227.69 L394.5,229.56 L395,231.1 L395.5,232.36 L396,233.37 L396.5,234.16 L397,234.78 L397.5,235.25 L398,235.61 L398.5,235.88 L399,236.09 L399.5,236.24 L400,236.35 L400.5,236.43 L401,236.5 L401.5,236.55 L402,236.59 L402.5,236.62 L403,236.65" fill="none" stroke="#c03838" stroke-width="0.8" stroke-linejoin="round" stroke-linecap="round"/>
<path d="M368,235.18 L368.5,235.2 L369,235.22 L369.5,235.23 L370,235.25 L370.5,235.25 L371,235.24 L371.5,235.21 L372,235.15 L372.5,235.06 L373,234.91 L373.5,234.71 L374,234.43 L374.5,234.08 L375,233.66 L375.5,233.19 L376,232.69 L376.5,232.19 L377,231.75 L377.5,231.41 L378,231.19 L378.5,231.13 L379,231.23 L379.5,231.49 L380,231.88 L380.5,232.36 L381,232.9 L381.5,233.44 L382,233.96 L382.5,234.42 L383,234.81 L383.5,235.13 L384,235.38 L384.5,235.57 L385,235.7 L385.5,235.8 L386,235.87 L386.5,235.93 L387,235.97 L387.5,236 L388,236.02 L388.5,236.05 L389,236.07" fill="none" stroke="#3a3aa0" stroke-width="0.8" stroke-linejoin="round" stroke-linecap="round"/>
<path d="M333,233.69 L333.5,233.7 L334,233.72 L334.5,233.74 L335,233.75 L335.5,233.76 L336,233.78 L336.5,233.78 L337,233.79 L337.5,233.79 L338,233.8 L338.5,233.79 L339,233.79 L339.5,233.77 L340,233.76 L340.5,233.74 L341,233.71 L341.5,233.67 L342,233.63 L342.5,233.59 L343,233.53 L343.5,233.47 L344,233.41 L344.5,233.33 L345,233.25 L345.5,233.17 L346,233.08 L346.5,232.98 L347,232.89 L347.5,232.79 L348,232.69 L348.5,232.59 L349,232.49 L349.5,232.4 L350,232.31 L350.5,232.23 L351,232.16 L351.5,232.1 L352,232.05 L352.5,232.01 L353,231.99 L353.5,231.98 L354,231.99 L354.5,232.01 L355,232.05 L355.5,232.1 L356,232.17 L356.5,232.25 L357,232.35 L357.5,232.45 L358,232.57 L358.5,232.69 L359,232.82 L359.5,232.96 L360,233.1 L360.5,233.24 L361,233.38 L361.5,233.52 L362,233.66 L362.5,233.8 L363,233.93 L363.5,234.06 L364,234.18 L364.5,234.29 L365,234.4 L365.5,234.5 L366,234.6 L366.5,234.68 L367,234.77 L367.5,234.84 L368,234.91 L368.5,234.97 L369,235.03 L369.5,235.08 L370,235.13 L370.5,235.18 L371,235.22 L371.5,235.26 L372,235.29 L372.5,235.32 L373,235.35 L373.5,235.38 L374,235.41 L374.5,235.44 L375,235.46 L375.5,235.49 L376,235.51 L376.5,235.54 L377,235.56 L377.5,235.58 L378,235.6 L378.5,235.62 L379,235.65 L379.5,235.67 L380,235.69 L380.5,235.71 L381,235.73" fill="none" stroke="#7a3a8a" stroke-width="0.9" stroke-linejoin="round" stroke-linecap="round"/>
<path d="M385,235.9 L385.5,235.92 L386,235.94 L386.5,235.96 L387,235.98 L387.5,235.99 L388,236 L388.5,236 L389,235.99 L389.5,235.97 L390,235.92 L390.5,235.85 L391,235.75 L391.5,235.63 L392,235.47 L392.5,235.29 L393,235.11 L393.5,234.92 L394,234.76 L394.5,234.63 L395,234.56 L395.5,234.55 L396,234.6 L396.5,234.72 L397,234.89 L397.5,235.09 L398,235.32 L398.5,235.55 L399,235.77 L399.5,235.97 L400,236.14 L400.5,236.28 L401,236.39 L401.5,236.48 L402,236.54 L402.5,236.6 L403,236.64 L403.5,236.67 L404,236.7 L404.5,236.72 L405,236.75 L405.5,236.77 L406,236.79" fill="none" stroke="#30a040" stroke-width="0.8" stroke-linejoin="round" stroke-linecap="round"/>
<path d="M392.5,236.22 L393,236.24 L393.5,236.26 L394,236.28 L394.5,236.3 L395,236.32 L395.5,236.33 L396,236.34 L396.5,236.35 L397,236.34 L397.5,236.32 L398,236.29 L398.5,236.24 L399,236.17 L399.5,236.08 L400,235.96 L400.5,235.83 L401,235.68 L401.5,235.53 L402,235.38 L402.5,235.26 L403,235.16 L403.5,235.11 L404,235.11 L404.5,235.15 L405,235.25 L405.5,235.38 L406,235.55 L406.5,235.74 L407,235.93 L407.5,236.12 L408,236.3 L408.5,236.46 L409,236.59 L409.5,236.71 L410,236.8 L410.5,236.87 L411,236.93 L411.5,236.98 L412,237.02 L412.5,237.05 L413,237.08 L413.5,237.1 L414,237.13 L414.5,237.15 L415,237.17 L415.5,237.19" fill="none" stroke="#30a040" stroke-width="0.8" stroke-linejoin="round" stroke-linecap="round"/>
<path d="M333,233.81 L333.5,233.95 L334,234.02 L334.5,234.18 L335,233.99 L335.5,234.19 L336,233.3 L336.5,233.75 L337,234.23 L337.5,233.94 L338,234.2 L338.5,233.41 L339,233.75 L339.5,233.52 L340,233.8 L340.5,233.81 L341,233.22 L341.5,233.39 L342,233.41 L342.5,234 L343,233.8 L343.5,233.13 L344,233.7 L344.5,232.97 L345,233.37 L345.5,232.79 L346,232.58 L346.5,233.35 L347,232.59 L347.5,232.5 L348,233.17 L348.5,232.96 L349,232.28 L349.5,232.86 L350,232.35 L350.5,232.41 L351,231.86 L351.5,232.54 L352,232.24 L352.5,232.48 L353,232.38 L353.5,231.78 L354,231.85 L354.5,231.68 L355,231.7 L355.5,231.67 L356,231.97 L356.5,232.36 L357,231.85 L357.5,232.63 L358,232.41 L358.5,232.5 L359,233.14 L359.5,232.94 L360,232.91 L360.5,233.22 L361,233.59 L361.5,233.08 L362,234.14 L362.5,233.32 L363,234.18 L363.5,234.4 L364,233.7 L364.5,234.58 L365,234.27 L365.5,234.58 L366,234.1 L366.5,234.23 L367,234.44 L367.5,235.29 L368,234.59 L368.5,235.2 L369,235.42 L369.5,235.46 L370,234.87 L370.5,234.87 L371,234.98 L371.5,235.13 L372,234.29 L372.5,234.67 L373,234.33 L373.5,233.86 L374,232.31 L374.5,232.28 L375,230.23 L375.5,229.03 L376,227.57 L376.5,225.86 L377,222.99 L377.5,221.03 L378,217.85 L378.5,214.58 L379,211.33 L379.5,207.73 L380,203.97 L380.5,200.23 L381,196.84 L381.5,193.16 L382,188.38 L382.5,184.47 L383,181.89 L383.5,178.32 L384,175.62 L384.5,173.54 L385,172.74 L385.5,172.63 L386,172.77 L386.5,174.08 L387,175.85 L387.5,179.55 L388,182.12 L388.5,186.5 L389,191.09 L389.5,194.82 L390,199.9 L390.5,204.52 L391,208.4 L391.5,212.47 L392,215.36 L392.5,218.87 L393,221.37 L393.5,224.47 L394,225.96 L394.5,227.84 L395,229.83 L395.5,230.9 L396,232.05 L396.5,232.4 L397,233.17 L397.5,234.03 L398,234.3 L398.5,234.52 L399,234.94 L399.5,234.89 L400,235.25 L400.5,235.91 L401,235.86 L401.5,235.48 L402,235.27 L402.5,235.03 L403,234.71 L403.5,234.86 L404,235.38 L404.5,235.51 L405,235.11 L405.5,235.67 L406,235.83 L406.5,235.93 L407,236.1 L407.5,236.38 L408,236.16 L408.5,236.66 L409,236.37 L409.5,236.69 L410,237.07 L410.5,237.07 L411,236.73 L411.5,237.43 L412,237.17 L412.5,237.13 L413,236.59 L413.5,237.15 L414,236.88 L414.5,237.32 L415,237.14 L415.5,237.51 L416,237.36 L416.5,237.53 L417,237.11 L417.5,237.42 L418,237.54" fill="none" stroke="#1a1a1a" stroke-width="1.15" stroke-linejoin="round" stroke-linecap="round" stroke-opacity="0.9"/>
<path d="M375.5,229.03 L376,227.57 L376.5,225.86 L377,222.99 L377.5,221.03 L378,217.85 L378.5,214.58 L379,211.33 L379.5,207.73 L380,203.97 L380.5,200.23 L381,196.84 L381.5,193.16 L382,188.38 L382.5,184.47 L383,181.89 L383.5,178.32 L384,175.62 L384.5,173.54 L385,172.74 L385.5,172.63 L386,172.77 L386.5,174.08 L387,175.85 L387.5,179.55 L388,182.12 L388.5,186.5 L389,191.09 L389.5,194.82 L390,199.9 L390.5,204.52 L391,208.4 L391.5,212.47 L392,215.36 L392.5,218.87 L393,221.37 L393.5,224.47 L394,225.96 L394.5,227.84 L395,229.83 L395.5,230.9" fill="none" stroke="#d04848" stroke-width="0.5" stroke-linejoin="round" stroke-linecap="round" stroke-opacity="0.7"/>
<text x="361.4" y="181.4" font-family='"Liberation Sans", sans-serif' font-size="5.2" font-weight="bold" text-anchor="middle" fill="#222" stroke="#222" stroke-width="0.14" dominant-baseline="central">N≡C–N<tspan dy="1.5" font-size="3.5">2</tspan></text>
<line x1="372" y1="181.4" x2="382.5" y2="180.3" stroke="#999" stroke-width="0.5"/>
<text x="369" y="211.8" font-family='"Liberation Sans", sans-serif' font-size="5.2" font-weight="bold" text-anchor="middle" fill="#222" stroke="#222" stroke-width="0.14" dominant-baseline="central">C–NH<tspan dy="1.5" font-size="3.5">2</tspan></text>
<line x1="368.6" y1="215" x2="375.2" y2="229.4" stroke="#999" stroke-width="0.5"/>
<text x="354.2" y="217.7" font-family='"Liberation Sans", sans-serif' font-size="5.2" font-weight="bold" text-anchor="middle" fill="#222" stroke="#222" stroke-width="0.14" dominant-baseline="central">π–π*</text>
<line x1="354.9" y1="222.8" x2="354.9" y2="230.5" stroke="#999" stroke-width="0.5"/>
<text x="405" y="217.7" font-family='"Liberation Sans", sans-serif' font-size="5.2" font-weight="bold" text-anchor="middle" fill="#222" stroke="#222" stroke-width="0.14" dominant-baseline="central">Adv. C</text>
<line x1="403.8" y1="222.8" x2="399.4" y2="230.5" stroke="#999" stroke-width="0.5"/>
<line x1="404.9" y1="222.8" x2="404.9" y2="232.7" stroke="#999" stroke-width="0.5"/>
<rect x="332.4" y="164.2" width="90.2" height="78.2" fill="none" stroke="#888" stroke-width="0.9"/>
<line x1="450.86" y1="242.4" x2="450.86" y2="241.1" stroke="#888" stroke-width="0.6"/>
<line x1="456.52" y1="242.4" x2="456.52" y2="241.1" stroke="#888" stroke-width="0.6"/>
<line x1="462.18" y1="242.4" x2="462.18" y2="241.1" stroke="#888" stroke-width="0.6"/>
<line x1="467.84" y1="242.4" x2="467.84" y2="241.1" stroke="#888" stroke-width="0.6"/>
<line x1="473.5" y1="242.4" x2="473.5" y2="241.1" stroke="#888" stroke-width="0.6"/>
<line x1="479.16" y1="242.4" x2="479.16" y2="241.1" stroke="#888" stroke-width="0.6"/>
<line x1="484.82" y1="242.4" x2="484.82" y2="241.1" stroke="#888" stroke-width="0.6"/>
<line x1="490.48" y1="242.4" x2="490.48" y2="241.1" stroke="#888" stroke-width="0.6"/>
<line x1="496.14" y1="242.4" x2="496.14" y2="241.1" stroke="#888" stroke-width="0.6"/>
<line x1="501.8" y1="242.4" x2="501.8" y2="241.1" stroke="#888" stroke-width="0.6"/>
<line x1="507.46" y1="242.4" x2="507.46" y2="241.1" stroke="#888" stroke-width="0.6"/>
<line x1="513.12" y1="242.4" x2="513.12" y2="241.1" stroke="#888" stroke-width="0.6"/>
<line x1="518.78" y1="242.4" x2="518.78" y2="241.1" stroke="#888" stroke-width="0.6"/>
<line x1="524.44" y1="242.4" x2="524.44" y2="241.1" stroke="#888" stroke-width="0.6"/>
<line x1="530.1" y1="242.4" x2="530.1" y2="241.1" stroke="#888" stroke-width="0.6"/>
<text x="445.2" y="249.6" font-family='"Liberation Sans", sans-serif' font-size="6.6" font-weight="normal" text-anchor="middle" fill="#3a3a3a" stroke="#3a3a3a" stroke-width="0.18" dominant-baseline="central">408</text>
<text x="467.84" y="249.6" font-family='"Liberation Sans", sans-serif' font-size="6.6" font-weight="normal" text-anchor="middle" fill="#3a3a3a" stroke="#3a3a3a" stroke-width="0.18" dominant-baseline="central">404</text>
<text x="490.48" y="249.6" font-family='"Liberation Sans", sans-serif' font-size="6.6" font-weight="normal" text-anchor="middle" fill="#3a3a3a" stroke="#3a3a3a" stroke-width="0.18" dominant-baseline="central">400</text>
<text x="513.12" y="249.6" font-family='"Liberation Sans", sans-serif' font-size="6.6" font-weight="normal" text-anchor="middle" fill="#3a3a3a" stroke="#3a3a3a" stroke-width="0.18" dominant-baseline="central">396</text>
<text x="535.76" y="249.6" font-family='"Liberation Sans", sans-serif' font-size="6.6" font-weight="normal" text-anchor="middle" fill="#3a3a3a" stroke="#3a3a3a" stroke-width="0.18" dominant-baseline="central">392</text>
<text x="490.7" y="260.8" font-family='"Liberation Sans", sans-serif' font-size="6.9" font-weight="bold" text-anchor="middle" fill="#222" stroke="#222" stroke-width="0.19" dominant-baseline="central">Binding Energy (eV)</text>
<text x="438.2" y="198.5" font-family='"Liberation Sans", sans-serif' font-size="7.3" font-weight="bold" text-anchor="middle" fill="#222" stroke="#222" stroke-width="0.2" dominant-baseline="central" transform="rotate(-90 438.2 198.5)">Intensity (a.u.)</text>
<text x="449.2" y="170.6" font-family='"Liberation Sans", sans-serif' font-size="6.3" font-weight="normal" text-anchor="start" fill="#555" stroke="#555" stroke-width="0.17" dominant-baseline="central">N1s</text>
<path d="M446,231.6 L446.5,231.6 L447,231.6 L447.5,231.6 L448,231.6 L448.5,231.6 L449,231.6 L449.5,231.6 L450,231.6 L450.5,231.61 L451,231.61 L451.5,231.61 L452,231.61 L452.5,231.61 L453,231.61 L453.5,231.61 L454,231.61 L454.5,231.61 L455,231.61 L455.5,231.61 L456,231.61 L456.5,231.61 L457,231.61 L457.5,231.62 L458,231.62 L458.5,231.62 L459,231.62 L459.5,231.62 L460,231.62 L460.5,231.63 L461,231.63 L461.5,231.63 L462,231.63 L462.5,231.64 L463,231.64 L463.5,231.64 L464,231.65 L464.5,231.65 L465,231.66 L465.5,231.66 L466,231.67 L466.5,231.67 L467,231.68 L467.5,231.68 L468,231.69 L468.5,231.7 L469,231.71 L469.5,231.72 L470,231.73 L470.5,231.74 L471,231.75 L471.5,231.76 L472,231.78 L472.5,231.79 L473,231.81 L473.5,231.82 L474,231.84 L474.5,231.86 L475,231.88 L475.5,231.91 L476,231.93 L476.5,231.96 L477,231.99 L477.5,232.02 L478,232.06 L478.5,232.09 L479,232.13 L479.5,232.17 L480,232.22 L480.5,232.26 L481,232.32 L481.5,232.37 L482,232.43 L482.5,232.49 L483,232.55 L483.5,232.62 L484,232.69 L484.5,232.77 L485,232.85 L485.5,232.94 L486,233.02 L486.5,233.12 L487,233.21 L487.5,233.31 L488,233.42 L488.5,233.52 L489,233.64 L489.5,233.75 L490,233.87 L490.5,233.98 L491,234.1 L491.5,234.23 L492,234.35 L492.5,234.48 L493,234.6 L493.5,234.72 L494,234.85 L494.5,234.97 L495,235.1 L495.5,235.22 L496,235.33 L496.5,235.45 L497,235.56 L497.5,235.68 L498,235.78 L498.5,235.89 L499,235.99 L499.5,236.08 L500,236.18 L500.5,236.26 L501,236.35 L501.5,236.43 L502,236.51 L502.5,236.58 L503,236.65 L503.5,236.71 L504,236.77 L504.5,236.83 L505,236.88 L505.5,236.94 L506,236.98 L506.5,237.03 L507,237.07 L507.5,237.11 L508,237.14 L508.5,237.18 L509,237.21 L509.5,237.24 L510,237.27 L510.5,237.29 L511,237.32 L511.5,237.34 L512,237.36 L512.5,237.38 L513,237.39 L513.5,237.41 L514,237.42 L514.5,237.44 L515,237.45 L515.5,237.46 L516,237.47 L516.5,237.48 L517,237.49 L517.5,237.5 L518,237.51 L518.5,237.52 L519,237.52 L519.5,237.53 L520,237.53 L520.5,237.54 L521,237.54 L521.5,237.55 L522,237.55 L522.5,237.56 L523,237.56 L523.5,237.56 L524,237.57 L524.5,237.57 L525,237.57 L525.5,237.57 L526,237.58 L526.5,237.58 L527,237.58 L527.5,237.58 L528,237.58 L528.5,237.58 L529,237.59 L529.5,237.59 L530,237.59 L530.5,237.59 L531,237.59 L531.5,237.59 L532,237.59 L532.5,237.59 L533,237.59 L533.5,237.59 L534,237.59 L534.5,237.59 L535,237.59 L535.5,237.59 L536,237.6 L536.5,237.6 L537,237.6" fill="none" stroke="#6a5aa8" stroke-width="0.8" stroke-linejoin="round" stroke-linecap="round"/>
<path d="M482.5,232.48 L483,232.54 L483.5,232.6 L484,232.66 L484.5,232.71 L485,232.76 L485.5,232.8 L486,232.83 L486.5,232.84 L487,232.81 L487.5,232.74 L488,232.62 L488.5,232.42 L489,232.13 L489.5,231.72 L490,231.17 L490.5,230.45 L491,229.52 L491.5,228.35 L492,226.91 L492.5,225.17 L493,223.1 L493.5,220.7 L494,217.95 L494.5,214.86 L495,211.45 L495.5,207.76 L496,203.85 L496.5,199.78 L497,195.66 L497.5,191.57 L498,187.64 L498.5,183.97 L499,180.7 L499.5,177.93 L500,175.75 L500.5,174.25 L501,173.49 L501.5,173.49 L502,174.26 L502.5,175.78 L503,177.99 L503.5,180.81 L504,184.15 L504.5,187.91 L505,191.95 L505.5,196.18 L506,200.47 L506.5,204.71 L507,208.82 L507.5,212.72 L508,216.35 L508.5,219.66 L509,222.64 L509.5,225.26 L510,227.55 L510.5,229.5 L511,231.14 L511.5,232.51 L512,233.63 L512.5,234.53 L513,235.25 L513.5,235.81 L514,236.25 L514.5,236.58 L515,236.84 L515.5,237.03 L516,237.17 L516.5,237.27 L517,237.35 L517.5,237.4 L518,237.44 L518.5,237.47 L519,237.49 L519.5,237.51 L520,237.52" fill="none" stroke="#c03838" stroke-width="0.8" stroke-linejoin="round" stroke-linecap="round"/>
<path d="M474,231.84 L474.5,231.86 L475,231.87 L475.5,231.89 L476,231.91 L476.5,231.92 L477,231.93 L477.5,231.94 L478,231.94 L478.5,231.92 L479,231.88 L479.5,231.82 L480,231.73 L480.5,231.6 L481,231.42 L481.5,231.17 L482,230.85 L482.5,230.44 L483,229.93 L483.5,229.31 L484,228.57 L484.5,227.7 L485,226.7 L485.5,225.57 L486,224.33 L486.5,222.98 L487,221.56 L487.5,220.1 L488,218.64 L488.5,217.21 L489,215.87 L489.5,214.67 L490,213.64 L490.5,212.84 L491,212.29 L491.5,212.02 L492,212.06 L492.5,212.39 L493,213.02 L493.5,213.92 L494,215.06 L494.5,216.4 L495,217.9 L495.5,219.51 L496,221.18 L496.5,222.87 L497,224.53 L497.5,226.12 L498,227.63 L498.5,229.02 L499,230.28 L499.5,231.41 L500,232.39 L500.5,233.25 L501,233.97 L501.5,234.58 L502,235.09 L502.5,235.51 L503,235.85 L503.5,236.13 L504,236.35 L504.5,236.53 L505,236.67 L505.5,236.79 L506,236.88 L506.5,236.96 L507,237.02 L507.5,237.08 L508,237.12 L508.5,237.17 L509,237.2 L509.5,237.23" fill="none" stroke="#30a040" stroke-width="0.8" stroke-linejoin="round" stroke-linecap="round"/>
<path d="M446,231.6 L446.5,231.6 L447,231.6 L447.5,231.6 L448,231.59 L448.5,231.59 L449,231.59 L449.5,231.58 L450,231.58 L450.5,231.57 L451,231.56 L451.5,231.55 L452,231.54 L452.5,231.53 L453,231.51 L453.5,231.49 L454,231.47 L454.5,231.44 L455,231.41 L455.5,231.38 L456,231.33 L456.5,231.29 L457,231.24 L457.5,231.18 L458,231.12 L458.5,231.05 L459,230.97 L459.5,230.89 L460,230.8 L460.5,230.71 L461,230.61 L461.5,230.51 L462,230.4 L462.5,230.29 L463,230.18 L463.5,230.08 L464,229.97 L464.5,229.87 L465,229.77 L465.5,229.67 L466,229.59 L466.5,229.51 L467,229.45 L467.5,229.4 L468,229.35 L468.5,229.33 L469,229.32 L469.5,229.32 L470,229.33 L470.5,229.37 L471,229.41 L471.5,229.47 L472,229.55 L472.5,229.63 L473,229.73 L473.5,229.84 L474,229.95 L474.5,230.08 L475,230.21 L475.5,230.34 L476,230.48 L476.5,230.62 L477,230.76 L477.5,230.9 L478,231.03 L478.5,231.17 L479,231.31 L479.5,231.44 L480,231.57 L480.5,231.69 L481,231.81 L481.5,231.93 L482,232.05 L482.5,232.16 L483,232.28 L483.5,232.39 L484,232.5 L484.5,232.6 L485,232.71 L485.5,232.82 L486,232.93 L486.5,233.04 L487,233.15 L487.5,233.26 L488,233.38 L488.5,233.49 L489,233.61 L489.5,233.73 L490,233.85 L490.5,233.97 L491,234.09 L491.5,234.22 L492,234.34 L492.5,234.47 L493,234.6 L493.5,234.72 L494,234.85 L494.5,234.97 L495,235.09 L495.5,235.22 L496,235.33 L496.5,235.45" fill="none" stroke="#3a3aa0" stroke-width="0.9" stroke-linejoin="round" stroke-linecap="round"/>
<path d="M446,231.99 L446.5,231.42 L447,232.01 L447.5,232.04 L448,231.82 L448.5,232.16 L449,232.14 L449.5,231.6 L450,231.61 L450.5,231.17 L451,231.97 L451.5,232.08 L452,231.52 L452.5,231.76 L453,231.78 L453.5,231.77 L454,231.08 L454.5,231.78 L455,231.51 L455.5,231.57 L456,231.24 L456.5,231.44 L457,231.57 L457.5,231.34 L458,231.38 L458.5,230.48 L459,230.56 L459.5,230.82 L460,230.98 L460.5,230.37 L461,230.83 L461.5,230.66 L462,229.85 L462.5,230.26 L463,229.86 L463.5,229.54 L464,229.53 L464.5,229.65 L465,229.39 L465.5,229.31 L466,229.03 L466.5,229.47 L467,229.31 L467.5,229.53 L468,229.46 L468.5,229.01 L469,229.8 L469.5,228.72 L470,229.22 L470.5,229.1 L471,229.3 L471.5,229.01 L472,229.94 L472.5,229.48 L473,229.17 L473.5,229.97 L474,229.46 L474.5,230.13 L475,230 L475.5,230.42 L476,231 L476.5,230.96 L477,230.6 L477.5,231.19 L478,231.09 L478.5,230.84 L479,230.63 L479.5,231.2 L480,231.16 L480.5,231.57 L481,231.48 L481.5,230.86 L482,230.29 L482.5,230.58 L483,229.04 L483.5,228.58 L484,228.41 L484.5,227.61 L485,226.04 L485.5,225.48 L486,224.5 L486.5,222.47 L487,221.01 L487.5,219.15 L488,217.55 L488.5,216.64 L489,214.2 L489.5,213.17 L490,211.43 L490.5,209.4 L491,207.4 L491.5,206.71 L492,204.6 L492.5,202.98 L493,201.3 L493.5,200.47 L494,198.14 L494.5,196.03 L495,194.23 L495.5,191.6 L496,189.84 L496.5,187.13 L497,184.37 L497.5,182.36 L498,179.88 L498.5,176.52 L499,175.03 L499.5,172.98 L500,172.49 L500.5,171.57 L501,170.81 L501.5,171.37 L502,172.44 L502.5,175.3 L503,176.94 L503.5,180.35 L504,183.7 L504.5,187.77 L505,191.86 L505.5,196.32 L506,199.91 L506.5,204.96 L507,208.54 L507.5,212.73 L508,216.13 L508.5,219.41 L509,222.66 L509.5,225.22 L510,227.38 L510.5,229.79 L511,231.25 L511.5,231.95 L512,233.33 L512.5,234.48 L513,235.75 L513.5,236.28 L514,236.3 L514.5,236 L515,237.17 L515.5,236.94 L516,237.26 L516.5,237.52 L517,237.51 L517.5,237.38 L518,237.94 L518.5,237.34 L519,237.36 L519.5,237.93 L520,237.16 L520.5,237.29 L521,237.94 L521.5,237.03 L522,237.95 L522.5,237.79 L523,237.48 L523.5,237.31 L524,237.9 L524.5,238.06 L525,237.14 L525.5,237.55 L526,237.63 L526.5,237.57 L527,237.38 L527.5,237.17 L528,237.69 L528.5,237.96 L529,237.07 L529.5,237.26 L530,237.97 L530.5,237.94 L531,237.79 L531.5,237.02 L532,237.86 L532.5,238.17 L533,238.19 L533.5,237.83 L534,237.05 L534.5,238 L535,237.26 L535.5,237.77 L536,238.14 L536.5,237.85 L537,237.16" fill="none" stroke="#1a1a1a" stroke-width="1.5" stroke-linejoin="round" stroke-linecap="round" stroke-opacity="0.9"/>
<path d="M494.5,196.03 L495,194.23 L495.5,191.6 L496,189.84 L496.5,187.13 L497,184.37 L497.5,182.36 L498,179.88 L498.5,176.52 L499,175.03 L499.5,172.98 L500,172.49 L500.5,171.57 L501,170.81 L501.5,171.37 L502,172.44 L502.5,175.3 L503,176.94 L503.5,180.35 L504,183.7 L504.5,187.77 L505,191.86 L505.5,196.32 L506,199.91 L506.5,204.96 L507,208.54 L507.5,212.73 L508,216.13 L508.5,219.41 L509,222.66 L509.5,225.22" fill="none" stroke="#d04848" stroke-width="0.5" stroke-linejoin="round" stroke-linecap="round" stroke-opacity="0.6"/>
<text x="523.5" y="178.7" font-family='"Liberation Sans", sans-serif' font-size="5.2" font-weight="bold" text-anchor="middle" fill="#222" stroke="#222" stroke-width="0.14" dominant-baseline="central">C=N=C</text>
<line x1="503.6" y1="178.7" x2="513.5" y2="178.7" stroke="#999" stroke-width="0.5"/>
<text x="471" y="194.6" font-family='"Liberation Sans", sans-serif' font-size="5.2" font-weight="bold" text-anchor="middle" fill="#222" stroke="#222" stroke-width="0.14" dominant-baseline="central">Tertiary N<tspan dy="1.5" font-size="3.5">t</tspan><tspan dy="-1.5"> –NH</tspan><tspan dy="1.5" font-size="3.5">2</tspan></text>
<line x1="487" y1="198.6" x2="493.7" y2="210.7" stroke="#999" stroke-width="0.5"/>
<text x="470" y="215.8" font-family='"Liberation Sans", sans-serif' font-size="5.2" font-weight="bold" text-anchor="middle" fill="#222" stroke="#222" stroke-width="0.14" dominant-baseline="central">π–π*</text>
<line x1="469.5" y1="219.5" x2="469.5" y2="228.3" stroke="#999" stroke-width="0.5"/>
<rect x="445.6" y="164.2" width="91.4" height="78.2" fill="none" stroke="#888" stroke-width="0.9"/>
<text x="18.1" y="272.6" font-family='"Liberation Serif", serif' font-size="13" font-weight="bold" text-anchor="start" fill="#111">(g)</text>
<line x1="45.41" y1="358.3" x2="45.41" y2="357" stroke="#888" stroke-width="0.6"/>
<line x1="56.02" y1="358.3" x2="56.02" y2="357" stroke="#888" stroke-width="0.6"/>
<line x1="66.63" y1="358.3" x2="66.63" y2="357" stroke="#888" stroke-width="0.6"/>
<line x1="77.24" y1="358.3" x2="77.24" y2="357" stroke="#888" stroke-width="0.6"/>
<line x1="87.85" y1="358.3" x2="87.85" y2="357" stroke="#888" stroke-width="0.6"/>
<line x1="98.46" y1="358.3" x2="98.46" y2="357" stroke="#888" stroke-width="0.6"/>
<line x1="109.07" y1="358.3" x2="109.07" y2="357" stroke="#888" stroke-width="0.6"/>
<line x1="119.68" y1="358.3" x2="119.68" y2="357" stroke="#888" stroke-width="0.6"/>
<line x1="130.29" y1="358.3" x2="130.29" y2="357" stroke="#888" stroke-width="0.6"/>
<text x="34.8" y="366.4" font-family='"Liberation Sans", sans-serif' font-size="6.8" font-weight="normal" text-anchor="middle" fill="#3a3a3a" stroke="#3a3a3a" stroke-width="0.19" dominant-baseline="central">250</text>
<text x="56.02" y="366.4" font-family='"Liberation Sans", sans-serif' font-size="6.8" font-weight="normal" text-anchor="middle" fill="#3a3a3a" stroke="#3a3a3a" stroke-width="0.19" dominant-baseline="central">300</text>
<text x="77.24" y="366.4" font-family='"Liberation Sans", sans-serif' font-size="6.8" font-weight="normal" text-anchor="middle" fill="#3a3a3a" stroke="#3a3a3a" stroke-width="0.19" dominant-baseline="central">350</text>
<text x="98.46" y="366.4" font-family='"Liberation Sans", sans-serif' font-size="6.8" font-weight="normal" text-anchor="middle" fill="#3a3a3a" stroke="#3a3a3a" stroke-width="0.19" dominant-baseline="central">400</text>
<text x="119.68" y="366.4" font-family='"Liberation Sans", sans-serif' font-size="6.8" font-weight="normal" text-anchor="middle" fill="#3a3a3a" stroke="#3a3a3a" stroke-width="0.19" dominant-baseline="central">450</text>
<text x="140.9" y="366.4" font-family='"Liberation Sans", sans-serif' font-size="6.8" font-weight="normal" text-anchor="middle" fill="#3a3a3a" stroke="#3a3a3a" stroke-width="0.19" dominant-baseline="central">500</text>
<text x="88" y="376.8" font-family='"Liberation Sans", sans-serif' font-size="6.9" font-weight="bold" text-anchor="middle" fill="#222" stroke="#222" stroke-width="0.19" dominant-baseline="central">Energy Loss (eV)</text>
<text x="26.9" y="318.4" font-family='"Liberation Sans", sans-serif' font-size="7.3" font-weight="bold" text-anchor="middle" fill="#222" stroke="#222" stroke-width="0.2" dominant-baseline="central" transform="rotate(-90 26.9 318.4)">Intensity (a.u.)</text>
<path d="M34.6,327.7 L41.1,338.4 L44,343.5 L46.7,347.8 L48.2,345 L48.9,338 L49.3,318 L49.6,305 L50.1,303.9 L50.5,312 L50.8,322.8 L51.3,316 L51.8,307.2 L53,300.1 L55.6,302.3 L57.9,307.2 L60.1,309.4 L63.4,309 L66.8,311.2 L74.6,320.6 L85.7,331.7 L94.6,341.7 L96.2,342.9 L96.9,333.9 L98,341.2 L99,336 L100.2,331.7 L103.5,334.4 L106.9,337.3 L110.2,336.6 L119.1,342.9 L130.3,349.5 L141,356.2" fill="none" stroke="#3b3f8a" stroke-width="1.0" stroke-linejoin="round" stroke-linecap="round"/>
<rect x="34.5" y="280.6" width="106.7" height="77.7" fill="none" stroke="#666" stroke-width="0.9"/>
<text x="47.8" y="301" font-family='"Liberation Sans", sans-serif' font-size="5" font-weight="bold" text-anchor="middle" fill="#222" stroke="#222" stroke-width="0.14" dominant-baseline="central">π*</text>
<text x="56" y="295" font-family='"Liberation Sans", sans-serif' font-size="5" font-weight="bold" text-anchor="middle" fill="#222" stroke="#222" stroke-width="0.14" dominant-baseline="central">σ*</text>
<text x="61.5" y="319.5" font-family='"Liberation Sans", sans-serif' font-size="6" font-weight="bold" text-anchor="middle" fill="#222" stroke="#222" stroke-width="0.17" dominant-baseline="central">C-K</text>
<text x="93.5" y="330.6" font-family='"Liberation Sans", sans-serif' font-size="5" font-weight="bold" text-anchor="middle" fill="#222" stroke="#222" stroke-width="0.14" dominant-baseline="central">π*</text>
<text x="107" y="328.4" font-family='"Liberation Sans", sans-serif' font-size="5" font-weight="bold" text-anchor="middle" fill="#222" stroke="#222" stroke-width="0.14" dominant-baseline="central">σ*</text>
<text x="104.8" y="341.7" font-family='"Liberation Sans", sans-serif' font-size="6" font-weight="bold" text-anchor="middle" fill="#222" stroke="#222" stroke-width="0.17" dominant-baseline="central">N-K</text>
<text x="121.6" y="326.4" font-family='"Liberation Sans", sans-serif' font-size="8.1" font-weight="bold" text-anchor="start" fill="#3848a0" stroke="#3848a0" stroke-width="0.22" dominant-baseline="central">C<tspan dy="1.8" font-size="5.4">3</tspan><tspan dy="-1.8">N</tspan><tspan dy="1.8" font-size="5.4">5</tspan></text>
<path d="M104.1,292 L100.38,294.15 L100.38,298.45 L104.1,300.6 L107.82,298.45 L107.82,294.15 Z M104.1,292 L107.82,294.15 L111.55,292 L111.55,287.7 L107.82,285.55 L104.1,287.7 Z M104.1,292 L104.1,287.7 L100.38,285.55 L96.65,287.7 L96.65,292 L100.38,294.15 Z M104.1,300.6 L104.1,304.1 M96.65,287.7 L93.62,285.95 M111.55,287.7 L114.58,285.95" fill="none" stroke="#707070" stroke-width="0.75" stroke-linejoin="round"/>
<text x="91.37" y="284.65" font-family='"Liberation Sans", sans-serif' font-size="3" font-weight="bold" text-anchor="middle" fill="#707070" stroke="#707070" stroke-width="0.08" dominant-baseline="central">NH<tspan font-size="2.1" dy="0.6">2</tspan></text>
<text x="116.83" y="284.65" font-family='"Liberation Sans", sans-serif' font-size="3" font-weight="bold" text-anchor="middle" fill="#707070" stroke="#707070" stroke-width="0.08" dominant-baseline="central">NH<tspan font-size="2.1" dy="0.6">2</tspan></text>
<path d="M93.6,310.15 L89.88,312.3 L89.88,316.6 L93.6,318.75 L97.32,316.6 L97.32,312.3 Z M93.6,310.15 L97.32,312.3 L101.05,310.15 L101.05,305.85 L97.32,303.7 L93.6,305.85 Z M93.6,310.15 L93.6,305.85 L89.88,303.7 L86.15,305.85 L86.15,310.15 L89.88,312.3 Z M101.05,305.85 L104.08,304.1 M86.15,305.85 L83.12,304.1 M93.6,318.75 L93.6,322.25" fill="none" stroke="#707070" stroke-width="0.75" stroke-linejoin="round"/>
<text x="80.87" y="302.8" font-family='"Liberation Sans", sans-serif' font-size="3" font-weight="bold" text-anchor="middle" fill="#707070" stroke="#707070" stroke-width="0.08" dominant-baseline="central">NH<tspan font-size="2.1" dy="0.6">2</tspan></text>
<text x="93.6" y="324.85" font-family='"Liberation Sans", sans-serif' font-size="3" font-weight="bold" text-anchor="middle" fill="#707070" stroke="#707070" stroke-width="0.08" dominant-baseline="central">NH<tspan font-size="2.1" dy="0.6">2</tspan></text>
<path d="M114.6,310.15 L110.88,312.3 L110.88,316.6 L114.6,318.75 L118.32,316.6 L118.32,312.3 Z M114.6,310.15 L118.32,312.3 L122.05,310.15 L122.05,305.85 L118.32,303.7 L114.6,305.85 Z M114.6,310.15 L114.6,305.85 L110.88,303.7 L107.15,305.85 L107.15,310.15 L110.88,312.3 Z M107.15,305.85 L104.12,304.1 M122.05,305.85 L125.08,304.1 M114.6,318.75 L114.6,322.25" fill="none" stroke="#5a68c0" stroke-width="0.75" stroke-linejoin="round"/>
<text x="114.6" y="324.85" font-family='"Liberation Sans", sans-serif' font-size="3" font-weight="bold" text-anchor="middle" fill="#5a68c0" stroke="#5a68c0" stroke-width="0.08" dominant-baseline="central">NH<tspan font-size="2.1" dy="0.6">2</tspan></text>
<path d="M125.08,304.1 L126.58,299.1" fill="none" stroke="#6a78c8" stroke-width="0.55" stroke-linejoin="round" stroke-linecap="round"/>
<path d="M125.08,304.1 L130.08,306.6" fill="none" stroke="#6a78c8" stroke-width="0.55" stroke-linejoin="round" stroke-linecap="round"/>
<g fill="none" stroke="#6a78c8" stroke-width="0.55"><path d="M127.08,298.9 L124.61,297.1 L125.55,294.2 L128.61,294.2 L129.55,297.1 Z"/><path d="M135.68,307.6 L133.88,310.07 L130.98,309.13 L130.98,306.07 L133.88,305.13 Z"/></g>
<text x="131.58" y="296.1" font-family='"Liberation Sans", sans-serif' font-size="2.6" font-weight="bold" text-anchor="middle" fill="#6a78c8" stroke="#6a78c8" stroke-width="0.07" dominant-baseline="central">NH</text>
<text x="138.08" y="307.6" font-family='"Liberation Sans", sans-serif' font-size="2.6" font-weight="bold" text-anchor="middle" fill="#6a78c8" stroke="#6a78c8" stroke-width="0.07" dominant-baseline="central">NH</text>
<text x="149" y="277.8" font-family='"Liberation Serif", serif' font-size="13" font-weight="bold" text-anchor="start" fill="#111">(h)</text>
<line x1="178.34" y1="358.8" x2="178.34" y2="357.5" stroke="#888" stroke-width="0.6"/>
<line x1="178.34" y1="284.3" x2="178.34" y2="285.6" stroke="#888" stroke-width="0.6"/>
<line x1="186.28" y1="358.8" x2="186.28" y2="357.5" stroke="#888" stroke-width="0.6"/>
<line x1="186.28" y1="284.3" x2="186.28" y2="285.6" stroke="#888" stroke-width="0.6"/>
<line x1="194.22" y1="358.8" x2="194.22" y2="357.5" stroke="#888" stroke-width="0.6"/>
<line x1="194.22" y1="284.3" x2="194.22" y2="285.6" stroke="#888" stroke-width="0.6"/>
<line x1="202.16" y1="358.8" x2="202.16" y2="357.5" stroke="#888" stroke-width="0.6"/>
<line x1="202.16" y1="284.3" x2="202.16" y2="285.6" stroke="#888" stroke-width="0.6"/>
<line x1="210.1" y1="358.8" x2="210.1" y2="357.5" stroke="#888" stroke-width="0.6"/>
<line x1="210.1" y1="284.3" x2="210.1" y2="285.6" stroke="#888" stroke-width="0.6"/>
<line x1="218.04" y1="358.8" x2="218.04" y2="357.5" stroke="#888" stroke-width="0.6"/>
<line x1="218.04" y1="284.3" x2="218.04" y2="285.6" stroke="#888" stroke-width="0.6"/>
<line x1="225.98" y1="358.8" x2="225.98" y2="357.5" stroke="#888" stroke-width="0.6"/>
<line x1="225.98" y1="284.3" x2="225.98" y2="285.6" stroke="#888" stroke-width="0.6"/>
<line x1="233.92" y1="358.8" x2="233.92" y2="357.5" stroke="#888" stroke-width="0.6"/>
<line x1="233.92" y1="284.3" x2="233.92" y2="285.6" stroke="#888" stroke-width="0.6"/>
<line x1="241.86" y1="358.8" x2="241.86" y2="357.5" stroke="#888" stroke-width="0.6"/>
<line x1="241.86" y1="284.3" x2="241.86" y2="285.6" stroke="#888" stroke-width="0.6"/>
<line x1="249.8" y1="358.8" x2="249.8" y2="357.5" stroke="#888" stroke-width="0.6"/>
<line x1="249.8" y1="284.3" x2="249.8" y2="285.6" stroke="#888" stroke-width="0.6"/>
<line x1="257.74" y1="358.8" x2="257.74" y2="357.5" stroke="#888" stroke-width="0.6"/>
<line x1="257.74" y1="284.3" x2="257.74" y2="285.6" stroke="#888" stroke-width="0.6"/>
<text x="170.4" y="366.8" font-family='"Liberation Sans", sans-serif' font-size="6.6" font-weight="normal" text-anchor="middle" fill="#3a3a3a" stroke="#3a3a3a" stroke-width="0.18" dominant-baseline="central">200</text>
<text x="186.28" y="366.8" font-family='"Liberation Sans", sans-serif' font-size="6.6" font-weight="normal" text-anchor="middle" fill="#3a3a3a" stroke="#3a3a3a" stroke-width="0.18" dominant-baseline="central">300</text>
<text x="202.16" y="366.8" font-family='"Liberation Sans", sans-serif' font-size="6.6" font-weight="normal" text-anchor="middle" fill="#3a3a3a" stroke="#3a3a3a" stroke-width="0.18" dominant-baseline="central">400</text>
<text x="218.04" y="366.8" font-family='"Liberation Sans", sans-serif' font-size="6.6" font-weight="normal" text-anchor="middle" fill="#3a3a3a" stroke="#3a3a3a" stroke-width="0.18" dominant-baseline="central">500</text>
<text x="233.92" y="366.8" font-family='"Liberation Sans", sans-serif' font-size="6.6" font-weight="normal" text-anchor="middle" fill="#3a3a3a" stroke="#3a3a3a" stroke-width="0.18" dominant-baseline="central">600</text>
<text x="249.8" y="366.8" font-family='"Liberation Sans", sans-serif' font-size="6.6" font-weight="normal" text-anchor="middle" fill="#3a3a3a" stroke="#3a3a3a" stroke-width="0.18" dominant-baseline="central">700</text>
<text x="265.68" y="366.8" font-family='"Liberation Sans", sans-serif' font-size="6.6" font-weight="normal" text-anchor="middle" fill="#3a3a3a" stroke="#3a3a3a" stroke-width="0.18" dominant-baseline="central">800</text>
<text x="218.8" y="378.9" font-family='"Liberation Sans", sans-serif' font-size="6.7" font-weight="bold" text-anchor="middle" fill="#222" stroke="#222" stroke-width="0.18" dominant-baseline="central">Wavelength (nm)</text>
<text x="162.4" y="323.8" font-family='"Liberation Sans", sans-serif' font-size="6.6" font-weight="bold" text-anchor="middle" fill="#222" stroke="#222" stroke-width="0.18" dominant-baseline="central" transform="rotate(-90 162.4 323.8)">Absorbance (a.u.)</text>
<path d="M170.4,334.8 C170.7,333.1 171.53,326.83 172.2,324.6 C172.87,322.37 173.68,322.65 174.4,321.4 C175.12,320.15 175.8,318.42 176.5,317.1 C177.2,315.78 177.9,314.38 178.6,313.5 C179.3,312.62 179.98,311.8 180.7,311.8 C181.42,311.8 182.18,313.67 182.9,313.5 C183.62,313.33 183.95,311.5 185,310.8 C186.05,310.1 187.43,309.67 189.2,309.3 C190.97,308.93 193.83,308.63 195.6,308.6 C197.37,308.57 198.38,308.38 199.8,309.1 C201.22,309.82 202.33,311.38 204.1,312.9 C205.87,314.42 208.28,315.9 210.4,318.2 C212.52,320.5 214.67,323.8 216.8,326.7 C218.93,329.6 221.08,332.77 223.2,335.6 C225.32,338.43 227.03,341.3 229.5,343.7 C231.97,346.1 234.82,348.3 238,350 C241.18,351.7 245.42,352.93 248.6,353.9 C251.78,354.87 254.15,355.28 257.1,355.8 C260.05,356.32 264.77,356.8 266.3,357" fill="none" stroke="#a83838" stroke-width="1.35" stroke-linejoin="round" stroke-linecap="round"/>
<rect x="182.8" y="331.4" width="20.2" height="20.2" fill="#86837c" stroke="#6a6862" stroke-width="0.6"/>
<circle cx="192.9" cy="341.5" r="7.8" fill="#b8742f"/>
<circle cx="192.9" cy="341.5" r="7.8" fill="none" stroke="#9a6a3a" stroke-width="0.5"/>
<rect x="228.4" y="287.3" width="35.3" height="25.6" fill="none" stroke="#777" stroke-width="0.6"/>
<line x1="234.28" y1="312.9" x2="234.28" y2="311.9" stroke="#999" stroke-width="0.5"/>
<line x1="234.28" y1="287.3" x2="234.28" y2="288.3" stroke="#999" stroke-width="0.5"/>
<line x1="240.17" y1="312.9" x2="240.17" y2="311.9" stroke="#999" stroke-width="0.5"/>
<line x1="240.17" y1="287.3" x2="240.17" y2="288.3" stroke="#999" stroke-width="0.5"/>
<line x1="246.05" y1="312.9" x2="246.05" y2="311.9" stroke="#999" stroke-width="0.5"/>
<line x1="246.05" y1="287.3" x2="246.05" y2="288.3" stroke="#999" stroke-width="0.5"/>
<line x1="251.93" y1="312.9" x2="251.93" y2="311.9" stroke="#999" stroke-width="0.5"/>
<line x1="251.93" y1="287.3" x2="251.93" y2="288.3" stroke="#999" stroke-width="0.5"/>
<line x1="257.82" y1="312.9" x2="257.82" y2="311.9" stroke="#999" stroke-width="0.5"/>
<line x1="257.82" y1="287.3" x2="257.82" y2="288.3" stroke="#999" stroke-width="0.5"/>
<path d="M228.6,312.3 C229.17,312.3 230.72,312.32 232,312.3 C233.28,312.28 234.97,312.92 236.3,312.2 C237.63,311.48 238.72,309.53 240,308 C241.28,306.47 242.75,304.42 244,303 C245.25,301.58 246.45,300.6 247.5,299.5 C248.55,298.4 249.3,297.42 250.3,296.4 C251.3,295.38 252.48,294.22 253.5,293.4 C254.52,292.58 255.4,292.03 256.4,291.5 C257.4,290.97 258.37,290.52 259.5,290.2 C260.63,289.88 262.58,289.7 263.2,289.6" fill="none" stroke="#30a050" stroke-width="1.1" stroke-linejoin="round" stroke-linecap="round"/>
<line x1="236.3" y1="312.4" x2="247.2" y2="300" stroke="#e04848" stroke-width="0.7"/>
<text x="227.8" y="319.5" font-family='"Liberation Sans", sans-serif' font-size="4.9" font-weight="normal" text-anchor="middle" fill="#3a3a3a" stroke="#3a3a3a" stroke-width="0.13" dominant-baseline="central">1.5</text>
<text x="239.7" y="319.5" font-family='"Liberation Sans", sans-serif' font-size="4.9" font-weight="normal" text-anchor="middle" fill="#3a3a3a" stroke="#3a3a3a" stroke-width="0.13" dominant-baseline="central">2.5</text>
<text x="251.6" y="319.5" font-family='"Liberation Sans", sans-serif' font-size="4.9" font-weight="normal" text-anchor="middle" fill="#3a3a3a" stroke="#3a3a3a" stroke-width="0.13" dominant-baseline="central">3.5</text>
<text x="263.5" y="319.5" font-family='"Liberation Sans", sans-serif' font-size="4.9" font-weight="normal" text-anchor="middle" fill="#3a3a3a" stroke="#3a3a3a" stroke-width="0.13" dominant-baseline="central">4.5</text>
<text x="243.3" y="326.3" font-family='"Liberation Sans", sans-serif' font-size="4.6" font-weight="bold" text-anchor="middle" fill="#333" stroke="#333" stroke-width="0.13" dominant-baseline="central">hν (eV)</text>
<text x="223.5" y="300.4" font-family='"Liberation Sans", sans-serif' font-size="4.9" font-weight="bold" text-anchor="middle" fill="#333" stroke="#333" stroke-width="0.13" dominant-baseline="central" transform="rotate(-90 223.5 300.4)">(αhν)<tspan dy="-1.6" font-size="3.4">1/2</tspan></text>
<text x="241.3" y="291.7" font-family='"Liberation Sans", sans-serif' font-size="5.4" font-weight="bold" text-anchor="middle" fill="#222" stroke="#222" stroke-width="0.15" dominant-baseline="central">E<tspan dy="1.2" font-size="3.6">g</tspan><tspan dy="-1.2">=2.20 eV</tspan></text>
<rect x="170.2" y="284.3" width="96.3" height="74.5" fill="none" stroke="#6e6e6e" stroke-width="0.9"/>
<text x="280.7" y="280.05" font-family='"Liberation Serif", serif' font-size="13" font-weight="bold" text-anchor="start" fill="#111">(i)</text>
<line x1="318.82" y1="359.6" x2="318.82" y2="358.3" stroke="#888" stroke-width="0.6"/>
<line x1="318.82" y1="284.4" x2="318.82" y2="285.7" stroke="#888" stroke-width="0.6"/>
<line x1="326.35" y1="359.6" x2="326.35" y2="358.3" stroke="#888" stroke-width="0.6"/>
<line x1="326.35" y1="284.4" x2="326.35" y2="285.7" stroke="#888" stroke-width="0.6"/>
<line x1="333.88" y1="359.6" x2="333.88" y2="358.3" stroke="#888" stroke-width="0.6"/>
<line x1="333.88" y1="284.4" x2="333.88" y2="285.7" stroke="#888" stroke-width="0.6"/>
<line x1="341.4" y1="359.6" x2="341.4" y2="358.3" stroke="#888" stroke-width="0.6"/>
<line x1="341.4" y1="284.4" x2="341.4" y2="285.7" stroke="#888" stroke-width="0.6"/>
<line x1="348.93" y1="359.6" x2="348.93" y2="358.3" stroke="#888" stroke-width="0.6"/>
<line x1="348.93" y1="284.4" x2="348.93" y2="285.7" stroke="#888" stroke-width="0.6"/>
<line x1="356.45" y1="359.6" x2="356.45" y2="358.3" stroke="#888" stroke-width="0.6"/>
<line x1="356.45" y1="284.4" x2="356.45" y2="285.7" stroke="#888" stroke-width="0.6"/>
<line x1="363.98" y1="359.6" x2="363.98" y2="358.3" stroke="#888" stroke-width="0.6"/>
<line x1="363.98" y1="284.4" x2="363.98" y2="285.7" stroke="#888" stroke-width="0.6"/>
<line x1="371.5" y1="359.6" x2="371.5" y2="358.3" stroke="#888" stroke-width="0.6"/>
<line x1="371.5" y1="284.4" x2="371.5" y2="285.7" stroke="#888" stroke-width="0.6"/>
<line x1="379.03" y1="359.6" x2="379.03" y2="358.3" stroke="#888" stroke-width="0.6"/>
<line x1="379.03" y1="284.4" x2="379.03" y2="285.7" stroke="#888" stroke-width="0.6"/>
<line x1="386.55" y1="359.6" x2="386.55" y2="358.3" stroke="#888" stroke-width="0.6"/>
<line x1="386.55" y1="284.4" x2="386.55" y2="285.7" stroke="#888" stroke-width="0.6"/>
<line x1="394.08" y1="359.6" x2="394.08" y2="358.3" stroke="#888" stroke-width="0.6"/>
<line x1="394.08" y1="284.4" x2="394.08" y2="285.7" stroke="#888" stroke-width="0.6"/>
<line x1="311.2" y1="352.18" x2="312.5" y2="352.18" stroke="#888" stroke-width="0.6"/>
<line x1="408.8" y1="352.18" x2="407.5" y2="352.18" stroke="#888" stroke-width="0.6"/>
<line x1="311.2" y1="344.66" x2="312.5" y2="344.66" stroke="#888" stroke-width="0.6"/>
<line x1="408.8" y1="344.66" x2="407.5" y2="344.66" stroke="#888" stroke-width="0.6"/>
<line x1="311.2" y1="337.14" x2="312.5" y2="337.14" stroke="#888" stroke-width="0.6"/>
<line x1="408.8" y1="337.14" x2="407.5" y2="337.14" stroke="#888" stroke-width="0.6"/>
<line x1="311.2" y1="329.62" x2="312.5" y2="329.62" stroke="#888" stroke-width="0.6"/>
<line x1="408.8" y1="329.62" x2="407.5" y2="329.62" stroke="#888" stroke-width="0.6"/>
<line x1="311.2" y1="322.1" x2="312.5" y2="322.1" stroke="#888" stroke-width="0.6"/>
<line x1="408.8" y1="322.1" x2="407.5" y2="322.1" stroke="#888" stroke-width="0.6"/>
<line x1="311.2" y1="314.58" x2="312.5" y2="314.58" stroke="#888" stroke-width="0.6"/>
<line x1="408.8" y1="314.58" x2="407.5" y2="314.58" stroke="#888" stroke-width="0.6"/>
<line x1="311.2" y1="307.06" x2="312.5" y2="307.06" stroke="#888" stroke-width="0.6"/>
<line x1="408.8" y1="307.06" x2="407.5" y2="307.06" stroke="#888" stroke-width="0.6"/>
<line x1="311.2" y1="299.54" x2="312.5" y2="299.54" stroke="#888" stroke-width="0.6"/>
<line x1="408.8" y1="299.54" x2="407.5" y2="299.54" stroke="#888" stroke-width="0.6"/>
<line x1="311.2" y1="292.02" x2="312.5" y2="292.02" stroke="#888" stroke-width="0.6"/>
<line x1="408.8" y1="292.02" x2="407.5" y2="292.02" stroke="#888" stroke-width="0.6"/>
<text x="311.3" y="366.8" font-family='"Liberation Sans", sans-serif' font-size="6.8" font-weight="normal" text-anchor="middle" fill="#3a3a3a" stroke="#3a3a3a" stroke-width="0.19" dominant-baseline="central">0.0</text>
<text x="326.35" y="366.8" font-family='"Liberation Sans", sans-serif' font-size="6.8" font-weight="normal" text-anchor="middle" fill="#3a3a3a" stroke="#3a3a3a" stroke-width="0.19" dominant-baseline="central">0.5</text>
<text x="341.4" y="366.8" font-family='"Liberation Sans", sans-serif' font-size="6.8" font-weight="normal" text-anchor="middle" fill="#3a3a3a" stroke="#3a3a3a" stroke-width="0.19" dominant-baseline="central">1.0</text>
<text x="356.45" y="366.8" font-family='"Liberation Sans", sans-serif' font-size="6.8" font-weight="normal" text-anchor="middle" fill="#3a3a3a" stroke="#3a3a3a" stroke-width="0.19" dominant-baseline="central">1.5</text>
<text x="371.5" y="366.8" font-family='"Liberation Sans", sans-serif' font-size="6.8" font-weight="normal" text-anchor="middle" fill="#3a3a3a" stroke="#3a3a3a" stroke-width="0.19" dominant-baseline="central">2.0</text>
<text x="386.55" y="366.8" font-family='"Liberation Sans", sans-serif' font-size="6.8" font-weight="normal" text-anchor="middle" fill="#3a3a3a" stroke="#3a3a3a" stroke-width="0.19" dominant-baseline="central">2.5</text>
<text x="401.6" y="366.8" font-family='"Liberation Sans", sans-serif' font-size="6.8" font-weight="normal" text-anchor="middle" fill="#3a3a3a" stroke="#3a3a3a" stroke-width="0.19" dominant-baseline="central">3.0</text>
<text x="309" y="359.7" font-family='"Liberation Sans", sans-serif' font-size="6.6" font-weight="normal" text-anchor="end" fill="#3a3a3a" stroke="#3a3a3a" stroke-width="0.18" dominant-baseline="central">0</text>
<text x="309" y="344.66" font-family='"Liberation Sans", sans-serif' font-size="6.6" font-weight="normal" text-anchor="end" fill="#3a3a3a" stroke="#3a3a3a" stroke-width="0.18" dominant-baseline="central">200</text>
<text x="309" y="329.62" font-family='"Liberation Sans", sans-serif' font-size="6.6" font-weight="normal" text-anchor="end" fill="#3a3a3a" stroke="#3a3a3a" stroke-width="0.18" dominant-baseline="central">400</text>
<text x="309" y="314.58" font-family='"Liberation Sans", sans-serif' font-size="6.6" font-weight="normal" text-anchor="end" fill="#3a3a3a" stroke="#3a3a3a" stroke-width="0.18" dominant-baseline="central">600</text>
<text x="309" y="299.54" font-family='"Liberation Sans", sans-serif' font-size="6.6" font-weight="normal" text-anchor="end" fill="#3a3a3a" stroke="#3a3a3a" stroke-width="0.18" dominant-baseline="central">800</text>
<text x="309" y="284.5" font-family='"Liberation Sans", sans-serif' font-size="6.6" font-weight="normal" text-anchor="end" fill="#3a3a3a" stroke="#3a3a3a" stroke-width="0.18" dominant-baseline="central">1000</text>
<text x="360.2" y="378.4" font-family='"Liberation Sans", sans-serif' font-size="6.6" font-weight="bold" text-anchor="middle" fill="#222" stroke="#222" stroke-width="0.18" dominant-baseline="central">Time (hr)</text>
<text x="286.3" y="319.7" font-family='"Liberation Sans", sans-serif' font-size="6.5" font-weight="bold" text-anchor="middle" fill="#222" stroke="#222" stroke-width="0.18" dominant-baseline="central" transform="rotate(-90 286.3 319.7)">Produced H<tspan dy="1.6" font-size="5.2">2</tspan><tspan dy="-1.6"> (μmol)</tspan></text>
<path d="M311.2,359.8 C313.82,358.98 321.8,357.48 326.9,354.9 C332,352.32 336.77,348.23 341.8,344.3 C346.83,340.37 352.05,335.82 357.1,331.3 C362.15,326.78 367.1,321.23 372.1,317.2 C377.1,313.17 382.08,310.03 387.1,307.1 C392.12,304.17 399.68,300.85 402.2,299.6" fill="none" stroke="#6f7a22" stroke-width="1.15" stroke-linejoin="round" stroke-linecap="round"/>
<circle cx="311.2" cy="359.8" r="2.45" fill="#f2e400" stroke="#8a8a10" stroke-width="0.6"/>
<circle cx="326.9" cy="354.9" r="2.45" fill="#f2e400" stroke="#8a8a10" stroke-width="0.6"/>
<circle cx="341.8" cy="344.3" r="2.45" fill="#f2e400" stroke="#8a8a10" stroke-width="0.6"/>
<circle cx="357.1" cy="331.3" r="2.45" fill="#f2e400" stroke="#8a8a10" stroke-width="0.6"/>
<circle cx="372.1" cy="317.2" r="2.45" fill="#f2e400" stroke="#8a8a10" stroke-width="0.6"/>
<circle cx="387.1" cy="307.1" r="2.45" fill="#f2e400" stroke="#8a8a10" stroke-width="0.6"/>
<circle cx="402.2" cy="299.6" r="2.45" fill="#f2e400" stroke="#8a8a10" stroke-width="0.6"/>
<text x="393" y="353" font-family='"Liberation Sans", sans-serif' font-size="4.7" font-weight="bold" text-anchor="middle" fill="#222" stroke="#222" stroke-width="0.13" dominant-baseline="central">λ &gt; 420 nm</text>
<path d="M324.37,296.08 L327.25,297.96 L323.89,297.25 Z M323.35,297.79 L324.06,301.15 L322.18,298.27 Z M321.42,298.27 L319.54,301.15 L320.25,297.79 Z M319.71,297.25 L316.35,297.96 L319.23,296.08 Z M319.23,295.32 L316.35,293.44 L319.71,294.15 Z M320.25,293.61 L319.54,290.25 L321.42,293.13 Z M322.18,293.13 L324.06,290.25 L323.35,293.61 Z M323.89,294.15 L327.25,293.44 L324.37,295.32 Z" fill="#ecc848" stroke="#d8a830" stroke-width="0.3"/>
<circle cx="321.8" cy="295.7" r="3.0" fill="#f8e8a0" stroke="#e0b040" stroke-width="0.5"/>
<path d="M329,324.5 L346,323.5 L344,327 L331,327.5 Z" fill="#f0d8c8" opacity="0.5"/>
<path d="M326.4,320.2 L332.7,298.5 M333.2,323.6 L340.6,298 M340,322.4 L348,302 M329,306.5 L348.5,302 M327,314.5 L346.5,311 M329,321.5 L342,319.5 M332,299 L341,297.5" fill="none" stroke="#c06a36" stroke-width="2.3" stroke-linecap="round"/>
<g fill="#d8844a"><circle cx="332.7" cy="298.5" r="1.1"/><circle cx="340.6" cy="298" r="1.1"/><circle cx="348" cy="302" r="1.1"/><circle cx="326.4" cy="320.2" r="1.1"/><circle cx="333.2" cy="323.6" r="1.1"/><circle cx="340" cy="322.4" r="1.1"/><circle cx="337" cy="306" r="1.1"/><circle cx="344" cy="304" r="1.1"/><circle cx="330" cy="309" r="1.1"/><circle cx="336" cy="313" r="1.1"/><circle cx="343" cy="312" r="1.1"/><circle cx="339" cy="320" r="1.1"/><circle cx="331" cy="316" r="1.1"/><circle cx="327" cy="312" r="1.1"/></g>
<path d="M351.4,316.8 L351.4,311 C351.4,308 353,306.6 356,306.5 L359.5,306.5" fill="none" stroke="#5a6a20" stroke-width="2.2" stroke-linejoin="round" stroke-linecap="round"/>
<path d="M362.5,306.5 l-3.5,-2.4 v4.8 z" fill="#5a6a20"/>
<text x="351" y="320.5" font-family='"Liberation Sans", sans-serif' font-size="3.8" font-weight="bold" text-anchor="middle" fill="#333" stroke="#333" stroke-width="0.1" dominant-baseline="central">e<tspan dy="-1.5" font-size="2.5">-</tspan></text>
<text x="366.3" y="304.5" font-family='"Liberation Sans", sans-serif' font-size="4" font-weight="bold" text-anchor="middle" fill="#333" stroke="#333" stroke-width="0.11" dominant-baseline="central">H<tspan dy="1" font-size="2.5">2</tspan></text>
<rect x="311.2" y="284.4" width="97.6" height="75.2" fill="none" stroke="#6e6e6e" stroke-width="0.9"/>
<text x="418.1" y="280.3" font-family='"Liberation Serif", serif' font-size="13" font-weight="bold" text-anchor="start" fill="#111">(j)</text>
<line x1="443.4" y1="354.2" x2="443.4" y2="352.9" stroke="#888" stroke-width="0.6"/>
<line x1="443.4" y1="283.5" x2="443.4" y2="284.8" stroke="#888" stroke-width="0.6"/>
<line x1="454.2" y1="354.2" x2="454.2" y2="352.9" stroke="#888" stroke-width="0.6"/>
<line x1="454.2" y1="283.5" x2="454.2" y2="284.8" stroke="#888" stroke-width="0.6"/>
<line x1="465" y1="354.2" x2="465" y2="352.9" stroke="#888" stroke-width="0.6"/>
<line x1="465" y1="283.5" x2="465" y2="284.8" stroke="#888" stroke-width="0.6"/>
<line x1="475.8" y1="354.2" x2="475.8" y2="352.9" stroke="#888" stroke-width="0.6"/>
<line x1="475.8" y1="283.5" x2="475.8" y2="284.8" stroke="#888" stroke-width="0.6"/>
<line x1="486.6" y1="354.2" x2="486.6" y2="352.9" stroke="#888" stroke-width="0.6"/>
<line x1="486.6" y1="283.5" x2="486.6" y2="284.8" stroke="#888" stroke-width="0.6"/>
<line x1="497.4" y1="354.2" x2="497.4" y2="352.9" stroke="#888" stroke-width="0.6"/>
<line x1="497.4" y1="283.5" x2="497.4" y2="284.8" stroke="#888" stroke-width="0.6"/>
<line x1="508.2" y1="354.2" x2="508.2" y2="352.9" stroke="#888" stroke-width="0.6"/>
<line x1="508.2" y1="283.5" x2="508.2" y2="284.8" stroke="#888" stroke-width="0.6"/>
<line x1="519" y1="354.2" x2="519" y2="352.9" stroke="#888" stroke-width="0.6"/>
<line x1="519" y1="283.5" x2="519" y2="284.8" stroke="#888" stroke-width="0.6"/>
<line x1="529.8" y1="354.2" x2="529.8" y2="352.9" stroke="#888" stroke-width="0.6"/>
<line x1="529.8" y1="283.5" x2="529.8" y2="284.8" stroke="#888" stroke-width="0.6"/>
<text x="432.6" y="360.9" font-family='"Liberation Sans", sans-serif' font-size="6.6" font-weight="normal" text-anchor="middle" fill="#3a3a3a" stroke="#3a3a3a" stroke-width="0.18" dominant-baseline="central">0</text>
<text x="454.2" y="360.9" font-family='"Liberation Sans", sans-serif' font-size="6.6" font-weight="normal" text-anchor="middle" fill="#3a3a3a" stroke="#3a3a3a" stroke-width="0.18" dominant-baseline="central">200</text>
<text x="475.8" y="360.9" font-family='"Liberation Sans", sans-serif' font-size="6.6" font-weight="normal" text-anchor="middle" fill="#3a3a3a" stroke="#3a3a3a" stroke-width="0.18" dominant-baseline="central">400</text>
<text x="497.4" y="360.9" font-family='"Liberation Sans", sans-serif' font-size="6.6" font-weight="normal" text-anchor="middle" fill="#3a3a3a" stroke="#3a3a3a" stroke-width="0.18" dominant-baseline="central">600</text>
<text x="519" y="360.9" font-family='"Liberation Sans", sans-serif' font-size="6.6" font-weight="normal" text-anchor="middle" fill="#3a3a3a" stroke="#3a3a3a" stroke-width="0.18" dominant-baseline="central">800</text>
<text x="540.6" y="360.9" font-family='"Liberation Sans", sans-serif' font-size="6.6" font-weight="normal" text-anchor="middle" fill="#3a3a3a" stroke="#3a3a3a" stroke-width="0.18" dominant-baseline="central">1000</text>
<text x="486.3" y="372" font-family='"Liberation Sans", sans-serif' font-size="6.4" font-weight="bold" text-anchor="middle" fill="#222" stroke="#222" stroke-width="0.18" dominant-baseline="central">Frequency Shift (Hz)</text>
<text x="424.8" y="319.2" font-family='"Liberation Sans", sans-serif' font-size="6.6" font-weight="bold" text-anchor="middle" fill="#222" stroke="#222" stroke-width="0.18" dominant-baseline="central" transform="rotate(-90 424.8 319.2)">Volatile Compounds</text>
<rect x="432.6" y="288.2" width="6.48" height="4.7" fill="#7cd0e0" stroke="none" stroke-width="1"/>
<text x="443.4" y="290.2" font-family='"Liberation Sans", sans-serif' font-size="4.5" font-weight="bold" text-anchor="start" fill="#222" stroke="#222" stroke-width="0.1" dominant-baseline="central">Toluene</text>
<rect x="432.6" y="297.6" width="23.76" height="4.9" fill="#c070c0" stroke="none" stroke-width="1"/>
<text x="461.2" y="300" font-family='"Liberation Sans", sans-serif' font-size="4.5" font-weight="bold" text-anchor="start" fill="#222" stroke="#222" stroke-width="0.1" dominant-baseline="central">1,2 Dichloroethylene</text>
<rect x="432.6" y="306.9" width="15.66" height="5.3" fill="#4a5ab0" stroke="none" stroke-width="1"/>
<text x="452.4" y="309.6" font-family='"Liberation Sans", sans-serif' font-size="4.5" font-weight="bold" text-anchor="start" fill="#222" stroke="#222" stroke-width="0.1" dominant-baseline="central">Ethanol</text>
<rect x="432.6" y="316.3" width="8.1" height="5.5" fill="#f2e468" stroke="none" stroke-width="1"/>
<text x="446.8" y="319.1" font-family='"Liberation Sans", sans-serif' font-size="4.5" font-weight="bold" text-anchor="start" fill="#222" stroke="#222" stroke-width="0.1" dominant-baseline="central">Tetrachloroethylene</text>
<rect x="432.6" y="326.2" width="19.98" height="5.2" fill="#80c060" stroke="none" stroke-width="1"/>
<text x="457.8" y="328.5" font-family='"Liberation Sans", sans-serif' font-size="4.5" font-weight="bold" text-anchor="start" fill="#222" stroke="#222" stroke-width="0.1" dominant-baseline="central">Pyridine</text>
<rect x="432.6" y="335.3" width="91.8" height="5.3" fill="#f05860" stroke="none" stroke-width="1"/>
<rect x="432.6" y="344.7" width="55.08" height="5.4" fill="#505050" stroke="none" stroke-width="1"/>
<text x="492" y="347.6" font-family='"Liberation Sans", sans-serif' font-size="4.5" font-weight="bold" text-anchor="start" fill="#222" stroke="#222" stroke-width="0.1" dominant-baseline="central">Acetic acid</text>
<text x="533.6" y="333.7" font-family='"Liberation Sans", sans-serif' font-size="4.5" font-weight="bold" text-anchor="middle" fill="#222" stroke="#222" stroke-width="0.1" dominant-baseline="central">Formic</text>
<text x="533.6" y="341" font-family='"Liberation Sans", sans-serif' font-size="4.5" font-weight="bold" text-anchor="middle" fill="#222" stroke="#222" stroke-width="0.1" dominant-baseline="central">acid</text>
<rect x="432.4" y="283.5" width="108.1" height="70.7" fill="none" stroke="#6e6e6e" stroke-width="0.9"/>
</svg></body></html>
